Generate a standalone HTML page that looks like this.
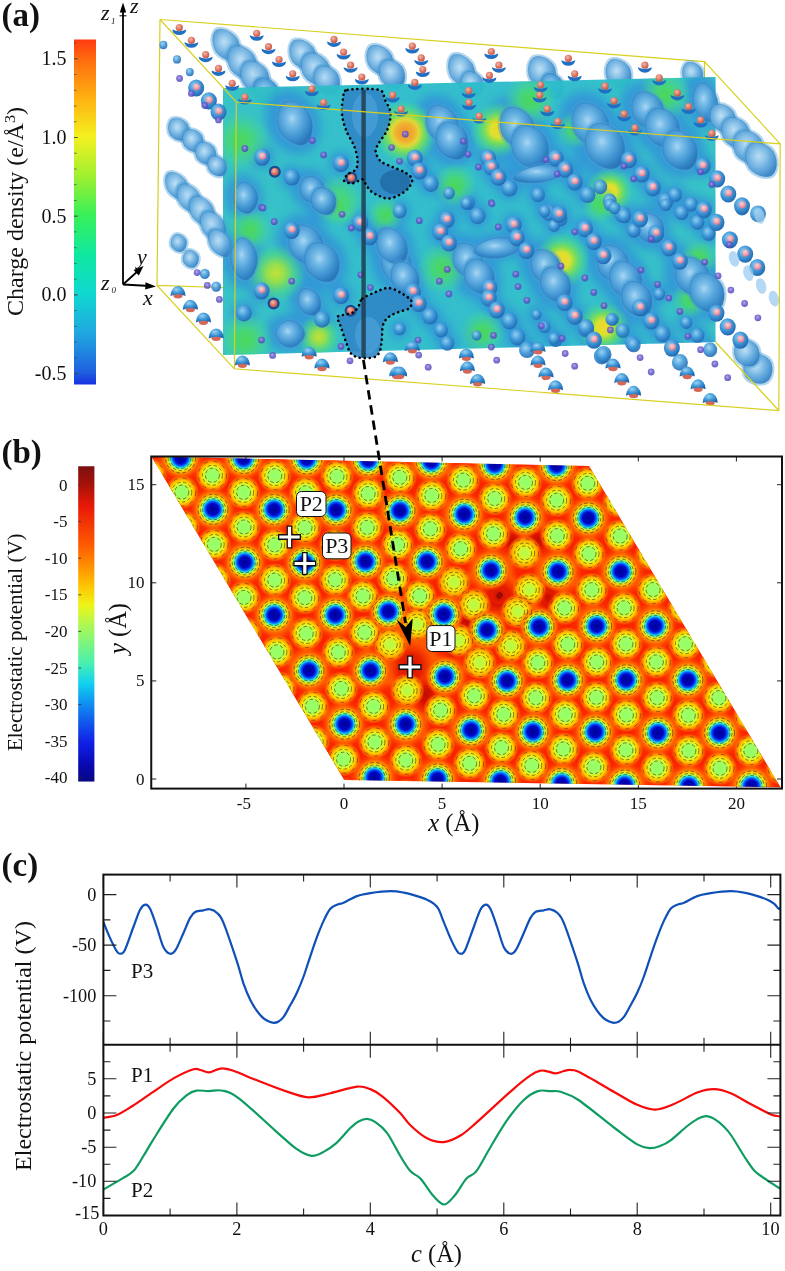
<!DOCTYPE html>
<html><head><meta charset="utf-8"><title>Figure</title>
<style>html,body{margin:0;padding:0;background:#fff}svg{display:block}</style></head><body>
<svg width="785" height="1271" viewBox="0 0 785 1271">
<rect width="785" height="1271" fill="#fff"/>
<defs>
<radialGradient id="gb"><stop offset="0" stop-color="#000094"/><stop offset="0.28" stop-color="#0008c4"/><stop offset="0.39" stop-color="#0058ff"/><stop offset="0.48" stop-color="#18d8e8"/><stop offset="0.55" stop-color="#80ff80"/><stop offset="0.63" stop-color="#f0f010"/><stop offset="0.76" stop-color="#ff9a00"/><stop offset="0.9" stop-color="#ff6400" stop-opacity="0.6"/><stop offset="1" stop-color="#ff5000" stop-opacity="0"/></radialGradient>
<radialGradient id="gg"><stop offset="0" stop-color="#90ff70"/><stop offset="0.38" stop-color="#a4ff5a"/><stop offset="0.53" stop-color="#ecf418"/><stop offset="0.62" stop-color="#ffdc00"/><stop offset="0.76" stop-color="#ff9a00"/><stop offset="0.9" stop-color="#ff6400" stop-opacity="0.6"/><stop offset="1" stop-color="#ff5000" stop-opacity="0"/></radialGradient><radialGradient id="ggy"><stop offset="0" stop-color="#b0fc50"/><stop offset="0.25" stop-color="#c8f838"/><stop offset="0.45" stop-color="#f4ec10"/><stop offset="0.62" stop-color="#ffc800"/><stop offset="0.78" stop-color="#ff9000"/><stop offset="0.9" stop-color="#ff6400" stop-opacity="0.6"/><stop offset="1" stop-color="#ff5000" stop-opacity="0"/></radialGradient>
<radialGradient id="gbr"><stop offset="0" stop-color="#f82000"/><stop offset="0.5" stop-color="#fa2800"/><stop offset="0.75" stop-color="#fc3c00" stop-opacity="0.8"/><stop offset="1" stop-color="#ff5a00" stop-opacity="0"/></radialGradient>
<radialGradient id="gr"><stop offset="0" stop-color="#c00c00"/><stop offset="0.4" stop-color="#d81200" stop-opacity="0.95"/><stop offset="0.7" stop-color="#ee2400" stop-opacity="0.6"/><stop offset="1" stop-color="#f83000" stop-opacity="0"/></radialGradient>
<clipPath id="cb"><polygon points="151.5,456.5 589,466 780.5,787.3 344.3,780.1"/></clipPath>
<linearGradient id="jetb" x1="0" y1="0" x2="0" y2="1"><stop offset="0" stop-color="#7a1010"/><stop offset="0.06" stop-color="#a81208"/><stop offset="0.125" stop-color="#e81808"/><stop offset="0.25" stop-color="#ff5a00"/><stop offset="0.375" stop-color="#ffc000"/><stop offset="0.44" stop-color="#f0f418"/><stop offset="0.5" stop-color="#b0f850"/><stop offset="0.625" stop-color="#48f0b0"/><stop offset="0.69" stop-color="#10d0f0"/><stop offset="0.76" stop-color="#1088f0"/><stop offset="0.875" stop-color="#1020e8"/><stop offset="0.95" stop-color="#0808b0"/><stop offset="1" stop-color="#080880"/></linearGradient>
</defs>
<g id="pb" font-family='"Liberation Serif", serif' fill="#111">
<path d="M245.9 788.6v-5M245.9 456.5v5M344 788.6v-5M344 456.5v5M442.1 788.6v-5M442.1 456.5v5M540.2 788.6v-5M540.2 456.5v5M638.3 788.6v-5M638.3 456.5v5M736.4 788.6v-5M736.4 456.5v5M151.25 779h5M782.0 779h-5M151.25 680.9h5M782.0 680.9h-5M151.25 582.8h5M782.0 582.8h-5M151.25 484.7h5M782.0 484.7h-5" stroke="#222" stroke-width="1" fill="none"/>
<g clip-path="url(#cb)">
<polygon points="151.5,456.5 589,466 780.5,787.3 344.3,780.1" fill="#ff5a00"/>
<g fill="url(#gbr)"><circle cx="134.7" cy="430" r="16"/><circle cx="149.1" cy="457.8" r="16"/><circle cx="166.2" cy="430.2" r="16"/><circle cx="196.8" cy="430.4" r="16"/><circle cx="212.1" cy="458.2" r="16"/><circle cx="228.3" cy="430.6" r="16"/><circle cx="258.9" cy="430.7" r="16"/><circle cx="275.1" cy="458.8" r="16"/><circle cx="290.4" cy="430.9" r="16"/><circle cx="321.4" cy="431.2" r="16"/><circle cx="337.4" cy="459.5" r="16"/><circle cx="352.1" cy="431.7" r="16"/><circle cx="384.1" cy="432.1" r="16"/><circle cx="399.8" cy="460.8" r="16"/><circle cx="415.6" cy="432.8" r="16"/><circle cx="447.8" cy="434.6" r="16"/><circle cx="463" cy="463" r="16"/><circle cx="479.4" cy="436.1" r="16"/><circle cx="510" cy="437.6" r="16"/><circle cx="525.6" cy="465" r="16"/><circle cx="540.9" cy="438.1" r="16"/><circle cx="572.4" cy="438.4" r="16"/><circle cx="587.4" cy="466" r="16"/><circle cx="603.3" cy="438.9" r="16"/><circle cx="634.8" cy="439.3" r="16"/><circle cx="649.2" cy="467" r="16"/><circle cx="665.8" cy="439.8" r="16"/><circle cx="697.3" cy="440.2" r="16"/><circle cx="121.2" cy="509" r="16"/><circle cx="134.7" cy="483.3" r="16"/><circle cx="166.2" cy="483.6" r="16"/><circle cx="182.4" cy="509.2" r="16"/><circle cx="196.8" cy="483.6" r="16"/><circle cx="228.3" cy="483.9" r="16"/><circle cx="243.6" cy="509.4" r="16"/><circle cx="258.9" cy="484" r="16"/><circle cx="290.4" cy="484.2" r="16"/><circle cx="305.1" cy="509.8" r="16"/><circle cx="321.4" cy="484.5" r="16"/><circle cx="352.1" cy="485" r="16"/><circle cx="368" cy="510.4" r="16"/><circle cx="384.1" cy="485.4" r="16"/><circle cx="415.6" cy="486.1" r="16"/><circle cx="432.1" cy="512.5" r="16"/><circle cx="447.8" cy="487.9" r="16"/><circle cx="479.4" cy="489.4" r="16"/><circle cx="494.7" cy="515.7" r="16"/><circle cx="510" cy="490.9" r="16"/><circle cx="540.9" cy="491.4" r="16"/><circle cx="556.8" cy="517.6" r="16"/><circle cx="572.4" cy="491.8" r="16"/><circle cx="603.3" cy="492.2" r="16"/><circle cx="619.8" cy="518.4" r="16"/><circle cx="634.8" cy="492.6" r="16"/><circle cx="665.8" cy="493.1" r="16"/><circle cx="682.9" cy="519.2" r="16"/><circle cx="697.3" cy="493.5" r="16"/><circle cx="138.3" cy="535" r="16"/><circle cx="154.8" cy="561.2" r="16"/><circle cx="168.3" cy="535.3" r="16"/><circle cx="198.9" cy="535.4" r="16"/><circle cx="214.8" cy="561.9" r="16"/><circle cx="228.9" cy="535.8" r="16"/><circle cx="259.5" cy="535.9" r="16"/><circle cx="274.8" cy="562.6" r="16"/><circle cx="289.5" cy="536.2" r="16"/><circle cx="320.4" cy="536.5" r="16"/><circle cx="335.1" cy="562.2" r="16"/><circle cx="350.8" cy="535.8" r="16"/><circle cx="382.8" cy="536.1" r="16"/><circle cx="396.2" cy="561.5" r="16"/><circle cx="413.5" cy="536.1" r="16"/><circle cx="445.6" cy="537.9" r="16"/><circle cx="459" cy="566" r="16"/><circle cx="477.6" cy="542.3" r="16"/><circle cx="508.1" cy="543.8" r="16"/><circle cx="524.5" cy="571" r="16"/><circle cx="541.6" cy="544.4" r="16"/><circle cx="573.1" cy="544.8" r="16"/><circle cx="589.4" cy="571.5" r="16"/><circle cx="604.5" cy="544.8" r="16"/><circle cx="636.1" cy="545.1" r="16"/><circle cx="652.2" cy="571.5" r="16"/><circle cx="667.5" cy="545.1" r="16"/><circle cx="699" cy="545.5" r="16"/><circle cx="715" cy="571.5" r="16"/><circle cx="730.4" cy="545.5" r="16"/><circle cx="168.4" cy="588.3" r="16"/><circle cx="138.4" cy="587.9" r="16"/><circle cx="182.5" cy="615" r="16"/><circle cx="198.9" cy="588.3" r="16"/><circle cx="228.9" cy="588.6" r="16"/><circle cx="243.6" cy="615" r="16"/><circle cx="259.5" cy="588.6" r="16"/><circle cx="289.5" cy="589" r="16"/><circle cx="304.8" cy="615" r="16"/><circle cx="320.1" cy="589" r="16"/><circle cx="350.4" cy="588.2" r="16"/><circle cx="361.8" cy="613.2" r="16"/><circle cx="376.9" cy="586.5" r="16"/><circle cx="407.6" cy="586.5" r="16"/><circle cx="416.1" cy="613" r="16"/><circle cx="435.4" cy="588" r="16"/><circle cx="467.4" cy="592.4" r="16"/><circle cx="465.4" cy="622.2" r="16"/><circle cx="489" cy="600.2" r="16"/><circle cx="513" cy="628.2" r="16"/><circle cx="515" cy="598.5" r="16"/><circle cx="548.5" cy="599" r="16"/><circle cx="567.8" cy="626.2" r="16"/><circle cx="577.3" cy="598.8" r="16"/><circle cx="608.7" cy="598.8" r="16"/><circle cx="625.8" cy="625.9" r="16"/><circle cx="637.9" cy="598.6" r="16"/><circle cx="669.3" cy="598.6" r="16"/><circle cx="684.2" cy="625.7" r="16"/><circle cx="698.5" cy="598.5" r="16"/><circle cx="729.9" cy="598.5" r="16"/><circle cx="742.6" cy="625.5" r="16"/><circle cx="759.1" cy="598.4" r="16"/><circle cx="199.4" cy="642.5" r="16"/><circle cx="168.9" cy="642.5" r="16"/><circle cx="216.6" cy="670.2" r="16"/><circle cx="230.2" cy="642.6" r="16"/><circle cx="260.8" cy="642.6" r="16"/><circle cx="278.2" cy="670.4" r="16"/><circle cx="291.6" cy="642.8" r="16"/><circle cx="322.1" cy="642.8" r="16"/><circle cx="339.8" cy="670.6" r="16"/><circle cx="353" cy="642.9" r="16"/><circle cx="379.5" cy="641.1" r="16"/><circle cx="407.8" cy="673.5" r="16"/><circle cx="444.4" cy="645.4" r="16"/><circle cx="466" cy="653.2" r="16"/><circle cx="476" cy="678.7" r="16"/><circle cx="497" cy="655.5" r="16"/><circle cx="523" cy="653.8" r="16"/><circle cx="537.2" cy="680.6" r="16"/><circle cx="553.2" cy="653.4" r="16"/><circle cx="582" cy="653.1" r="16"/><circle cx="596.8" cy="680" r="16"/><circle cx="611.4" cy="652.9" r="16"/><circle cx="640.6" cy="652.8" r="16"/><circle cx="657" cy="679.9" r="16"/><circle cx="671.4" cy="652.9" r="16"/><circle cx="700.6" cy="652.8" r="16"/><circle cx="718.5" cy="680.1" r="16"/><circle cx="731.3" cy="652.9" r="16"/><circle cx="760.5" cy="652.8" r="16"/><circle cx="780.1" cy="680.3" r="16"/><circle cx="791.3" cy="652.9" r="16"/><circle cx="234.9" cy="697.2" r="16"/><circle cx="204.1" cy="697.1" r="16"/><circle cx="253" cy="724.2" r="16"/><circle cx="265.5" cy="697.2" r="16"/><circle cx="296.2" cy="697.4" r="16"/><circle cx="314.1" cy="724.2" r="16"/><circle cx="326.8" cy="697.4" r="16"/><circle cx="357.6" cy="697.5" r="16"/><circle cx="375.1" cy="724.2" r="16"/><circle cx="388.1" cy="697.5" r="16"/><circle cx="425.4" cy="700.3" r="16"/><circle cx="438.4" cy="727.1" r="16"/><circle cx="458" cy="703.2" r="16"/><circle cx="489" cy="705.5" r="16"/><circle cx="502" cy="730.9" r="16"/><circle cx="520" cy="706.4" r="16"/><circle cx="550.2" cy="706" r="16"/><circle cx="564.1" cy="731.8" r="16"/><circle cx="581.3" cy="706" r="16"/><circle cx="610.8" cy="705.8" r="16"/><circle cx="626.5" cy="732.4" r="16"/><circle cx="642" cy="706.4" r="16"/><circle cx="672.8" cy="706.5" r="16"/><circle cx="688.6" cy="733" r="16"/><circle cx="703.6" cy="706.5" r="16"/><circle cx="734.4" cy="706.6" r="16"/><circle cx="750.4" cy="733" r="16"/><circle cx="765.3" cy="706.6" r="16"/><circle cx="796" cy="706.7" r="16"/><circle cx="266" cy="749.4" r="16"/><circle cx="235.4" cy="749.4" r="16"/><circle cx="279.9" cy="775.2" r="16"/><circle cx="297.5" cy="750.1" r="16"/><circle cx="328" cy="750.1" r="16"/><circle cx="342.9" cy="776.8" r="16"/><circle cx="359.5" cy="750.9" r="16"/><circle cx="390" cy="750.9" r="16"/><circle cx="405.9" cy="778.2" r="16"/><circle cx="421.5" cy="751.6" r="16"/><circle cx="454.2" cy="754.5" r="16"/><circle cx="468.9" cy="780" r="16"/><circle cx="485.8" cy="755.5" r="16"/><circle cx="516.8" cy="756.4" r="16"/><circle cx="531" cy="782.2" r="16"/><circle cx="547.3" cy="757.6" r="16"/><circle cx="578.5" cy="757.6" r="16"/><circle cx="593.2" cy="784.2" r="16"/><circle cx="610" cy="758.4" r="16"/><circle cx="641.2" cy="759" r="16"/><circle cx="656.9" cy="785.5" r="16"/><circle cx="673.4" cy="759.5" r="16"/><circle cx="704.2" cy="759.5" r="16"/><circle cx="720.2" cy="786" r="16"/><circle cx="735.5" cy="759.5" r="16"/><circle cx="766.4" cy="759.5" r="16"/><circle cx="782.8" cy="786" r="16"/><circle cx="797.6" cy="759.5" r="16"/><circle cx="235.4" cy="802.8" r="16"/><circle cx="266" cy="802.8" r="16"/><circle cx="297.5" cy="803.5" r="16"/><circle cx="328" cy="803.5" r="16"/><circle cx="359.5" cy="804.2" r="16"/><circle cx="390" cy="804.2" r="16"/><circle cx="421.5" cy="805" r="16"/><circle cx="454.2" cy="807.9" r="16"/><circle cx="485.8" cy="808.9" r="16"/><circle cx="516.8" cy="809.8" r="16"/></g>
<ellipse cx="410.6" cy="666.3" rx="24" ry="26" fill="url(#gr)"/>
<ellipse cx="499.2" cy="595.7" rx="20" ry="24" fill="url(#gr)"/>
<ellipse cx="548.2" cy="597.5" rx="15" ry="19" fill="url(#gr)"/>
<ellipse cx="536.7" cy="541.5" rx="13" ry="18" fill="url(#gr)"/>
<ellipse cx="512.5" cy="541.5" rx="12" ry="15" fill="url(#gr)"/>
<ellipse cx="425.9" cy="695" rx="16" ry="22" fill="url(#gr)"/>
<ellipse cx="466.6" cy="621.7" rx="15" ry="17" fill="url(#gr)"/>
<ellipse cx="452" cy="650" rx="10" ry="12" fill="url(#gr)"/>
<g fill="url(#gg)"><circle cx="150" cy="439.3" r="17.5"/><circle cx="212.4" cy="439.7" r="17.5"/><circle cx="274.8" cy="440.1" r="17.5"/><circle cx="337" cy="440.8" r="17.5"/><circle cx="399.8" cy="441.9" r="17.5"/><circle cx="463.4" cy="444.5" r="17.5"/><circle cx="525.5" cy="446.9" r="17.5"/><circle cx="587.7" cy="447.8" r="17.5"/><circle cx="619.3" cy="430" r="17.5"/><circle cx="649.9" cy="448.7" r="17.5"/><circle cx="682" cy="430.9" r="17.5"/><circle cx="120" cy="491.8" r="17.5"/><circle cx="150" cy="474.9" r="17.5"/><circle cx="181.8" cy="492.1" r="17.5"/><circle cx="212.4" cy="475.3" r="17.5"/><circle cx="243.6" cy="492.4" r="17.5"/><circle cx="274.8" cy="475.7" r="17.5"/><circle cx="305.6" cy="492.8" r="17.5"/><circle cx="337" cy="476.3" r="17.5"/><circle cx="368.1" cy="493.6" r="17.5"/><circle cx="399.8" cy="477.4" r="17.5"/><circle cx="431.8" cy="495.5" r="17.5"/><circle cx="463.4" cy="480.1" r="17.5"/><circle cx="494.7" cy="498.6" r="17.5"/><circle cx="525.5" cy="482.4" r="17.5"/><circle cx="556.7" cy="500.2" r="17.5"/><circle cx="587.7" cy="483.3" r="17.5"/><circle cx="619.3" cy="501.1" r="17.5"/><circle cx="649.9" cy="484.3" r="17.5"/><circle cx="682" cy="502" r="17.5"/><circle cx="122.4" cy="526.3" r="17.5"/><circle cx="153.8" cy="543.9" r="17.5"/><circle cx="183.2" cy="526.7" r="17.5"/><circle cx="214.2" cy="544.4" r="17.5"/><circle cx="244" cy="527" r="17.5"/><circle cx="274.6" cy="544.9" r="17.5"/><circle cx="305" cy="527.5" r="17.5"/><circle cx="335.4" cy="544.8" r="17.5"/><circle cx="367.2" cy="527.4" r="17.5"/><circle cx="397.5" cy="544.6" r="17.5"/><circle cx="430.4" cy="528.8" r="17.5"/><circle cx="460.7" cy="548.7" r="17.5"/><circle cx="493.5" cy="533.9" r="17.5"/><circle cx="524.7" cy="553" r="17.5" fill="url(#ggy)"/><circle cx="557.2" cy="535.6" r="17.5"/><circle cx="589" cy="553.7" r="17.5"/><circle cx="620.2" cy="536.1" r="17.5"/><circle cx="651.9" cy="553.9" r="17.5"/><circle cx="683.2" cy="536.6" r="17.5"/><circle cx="714.8" cy="554.2" r="17.5"/><circle cx="153.9" cy="579.2" r="17.5"/><circle cx="183.3" cy="597.2" r="17.5"/><circle cx="214.2" cy="579.6" r="17.5"/><circle cx="244" cy="597.4" r="17.5"/><circle cx="274.6" cy="580.1" r="17.5"/><circle cx="304.8" cy="597.7" r="17.5"/><circle cx="335.2" cy="579.8" r="17.5"/><circle cx="363" cy="596" r="17.5"/><circle cx="393.6" cy="578.2" r="17.5"/><circle cx="419.7" cy="595.8" r="17.5"/><circle cx="453.9" cy="582.1" r="17.5" fill="url(#ggy)"/><circle cx="473.9" cy="604.9" r="17.5" fill="url(#ggy)"/><circle cx="529.3" cy="589.5" r="17.5" fill="url(#ggy)"/><circle cx="564.5" cy="608" r="17.5"/><circle cx="591.8" cy="589.7" r="17.5"/><circle cx="624.1" cy="607.8" r="17.5"/><circle cx="653.1" cy="589.6" r="17.5"/><circle cx="684" cy="607.6" r="17.5"/><circle cx="714.5" cy="589.5" r="17.5"/><circle cx="743.9" cy="607.5" r="17.5"/><circle cx="183.6" cy="633.4" r="17.5"/><circle cx="215.4" cy="651.8" r="17.5"/><circle cx="244.9" cy="633.4" r="17.5"/><circle cx="276.9" cy="651.9" r="17.5"/><circle cx="306.2" cy="633.5" r="17.5"/><circle cx="338.3" cy="652.1" r="17.5"/><circle cx="364.7" cy="632.4" r="17.5"/><circle cx="458.6" cy="640.3" r="17.5" fill="url(#ggy)"/><circle cx="479.7" cy="662.5" r="17.5" fill="url(#ggy)"/><circle cx="511" cy="645.8" r="17.5" fill="url(#ggy)"/><circle cx="537.8" cy="662.6" r="17.5"/><circle cx="567.7" cy="644.2" r="17.5"/><circle cx="596.7" cy="662" r="17.5"/><circle cx="625.9" cy="643.9" r="17.5"/><circle cx="656.3" cy="661.9" r="17.5"/><circle cx="685.4" cy="643.8" r="17.5"/><circle cx="716.8" cy="661.9" r="17.5"/><circle cx="744.8" cy="643.7" r="17.5"/><circle cx="777.3" cy="662" r="17.5"/><circle cx="218.5" cy="688.2" r="17.5"/><circle cx="251.1" cy="706.2" r="17.5"/><circle cx="280" cy="688.3" r="17.5"/><circle cx="312.4" cy="706.3" r="17.5"/><circle cx="341.4" cy="688.5" r="17.5"/><circle cx="373.6" cy="706.4" r="17.5"/><circle cx="407.1" cy="690.4" r="17.5" fill="url(#ggy)"/><circle cx="440.6" cy="710.2" r="17.5"/><circle cx="474.3" cy="695.8" r="17.5"/><circle cx="503.7" cy="714.3" r="17.5"/><circle cx="535.8" cy="697.7" r="17.5"/><circle cx="565.2" cy="714.6" r="17.5"/><circle cx="596.3" cy="697.3" r="17.5"/><circle cx="626.4" cy="714.9" r="17.5"/><circle cx="657.2" cy="697.6" r="17.5"/><circle cx="688.3" cy="715.3" r="17.5"/><circle cx="718.9" cy="697.7" r="17.5"/><circle cx="750" cy="715.4" r="17.5"/><circle cx="780.5" cy="697.9" r="17.5"/><circle cx="251.4" cy="741" r="17.5"/><circle cx="281.1" cy="758.2" r="17.5"/><circle cx="313.2" cy="741.5" r="17.5"/><circle cx="343.5" cy="759.2" r="17.5"/><circle cx="374.9" cy="742" r="17.5"/><circle cx="405.8" cy="760.2" r="17.5"/><circle cx="438" cy="744.4" r="17.5"/><circle cx="469.6" cy="763.3" r="17.5"/><circle cx="501.5" cy="747.6" r="17.5"/><circle cx="531.7" cy="765.4" r="17.5"/><circle cx="563.3" cy="749" r="17.5"/><circle cx="593.9" cy="766.8" r="17.5"/><circle cx="625.9" cy="749.9" r="17.5"/><circle cx="657.1" cy="768" r="17.5"/><circle cx="688.8" cy="750.7" r="17.5"/><circle cx="720" cy="768.3" r="17.5"/><circle cx="750.8" cy="750.7" r="17.5"/><circle cx="782.2" cy="768.3" r="17.5"/><circle cx="281.1" cy="793.8" r="17.5"/><circle cx="343.5" cy="794.8" r="17.5"/><circle cx="405.8" cy="795.8" r="17.5"/><circle cx="469.6" cy="798.9" r="17.5"/><circle cx="531.7" cy="801" r="17.5"/><circle cx="593.9" cy="802.4" r="17.5"/><circle cx="657.1" cy="803.6" r="17.5"/><circle cx="720" cy="803.9" r="17.5"/><circle cx="782.2" cy="803.9" r="17.5"/><circle cx="517.6" cy="611.5" r="17.5" fill="url(#ggy)"/><circle cx="417" cy="624.3" r="17.5" fill="url(#ggy)"/><circle cx="390.2" cy="644.6" r="17.5" fill="url(#ggy)"/></g>
<g fill="url(#gb)"><circle cx="180.6" cy="458" r="20"/><circle cx="243.6" cy="458.5" r="20"/><circle cx="306.7" cy="459" r="20"/><circle cx="368.2" cy="460" r="20"/><circle cx="431.3" cy="461.5" r="20"/><circle cx="494.7" cy="464.5" r="20"/><circle cx="556.5" cy="465.5" r="20"/><circle cx="618.3" cy="466.5" r="20"/><circle cx="680.1" cy="467.5" r="20"/><circle cx="151.8" cy="509.1" r="20"/><circle cx="213" cy="509.3" r="20"/><circle cx="274.2" cy="509.5" r="20"/><circle cx="336" cy="510" r="20"/><circle cx="400" cy="510.7" r="20"/><circle cx="464.2" cy="514.2" r="20"/><circle cx="525.2" cy="517.2" r="20"/><circle cx="588.3" cy="518" r="20"/><circle cx="651.4" cy="518.8" r="20"/><circle cx="714.5" cy="519.6" r="20"/><circle cx="124.8" cy="560.9" r="20"/><circle cx="184.8" cy="561.6" r="20"/><circle cx="244.8" cy="562.3" r="20"/><circle cx="304.8" cy="563" r="20"/><circle cx="365.5" cy="561.5" r="20"/><circle cx="427" cy="561.6" r="20"/><circle cx="491" cy="570.4" r="20"/><circle cx="558" cy="571.5" r="20"/><circle cx="620.8" cy="571.5" r="20"/><circle cx="683.6" cy="571.5" r="20"/><circle cx="746.4" cy="571.5" r="20"/><circle cx="152" cy="615" r="20"/><circle cx="213.1" cy="615" r="20"/><circle cx="274.2" cy="615" r="20"/><circle cx="335.3" cy="615" r="20"/><circle cx="388.3" cy="611.5" r="20"/><circle cx="443.8" cy="614.4" r="20"/><circle cx="487" cy="630" r="20"/><circle cx="539" cy="626.5" r="20"/><circle cx="596.6" cy="626" r="20"/><circle cx="655" cy="625.8" r="20"/><circle cx="713.4" cy="625.6" r="20"/><circle cx="771.8" cy="625.4" r="20"/><circle cx="185.8" cy="670.1" r="20"/><circle cx="247.4" cy="670.3" r="20"/><circle cx="309" cy="670.5" r="20"/><circle cx="370.6" cy="670.7" r="20"/><circle cx="445" cy="676.4" r="20"/><circle cx="507" cy="681" r="20"/><circle cx="567.4" cy="680.2" r="20"/><circle cx="626.2" cy="679.8" r="20"/><circle cx="687.8" cy="680" r="20"/><circle cx="749.3" cy="680.2" r="20"/><circle cx="222.4" cy="724.2" r="20"/><circle cx="283.5" cy="724.2" r="20"/><circle cx="344.6" cy="724.2" r="20"/><circle cx="405.7" cy="724.2" r="20"/><circle cx="471" cy="730" r="20"/><circle cx="533" cy="731.8" r="20"/><circle cx="595.3" cy="731.8" r="20"/><circle cx="657.8" cy="733" r="20"/><circle cx="719.5" cy="733" r="20"/><circle cx="781.2" cy="733" r="20"/><circle cx="248.4" cy="774.5" r="20"/><circle cx="311.4" cy="776" r="20"/><circle cx="374.4" cy="777.5" r="20"/><circle cx="437.4" cy="779" r="20"/><circle cx="500.5" cy="781" r="20"/><circle cx="561.6" cy="783.5" r="20"/><circle cx="624.7" cy="785" r="20"/><circle cx="689" cy="786" r="20"/><circle cx="751.5" cy="786" r="20"/></g>
<circle cx="410.6" cy="666.5" r="13" fill="url(#gr)"/><circle cx="499.2" cy="595.7" r="10" fill="url(#gr)"/><ellipse cx="548.2" cy="597.5" rx="7" ry="9" fill="url(#gr)" opacity="0.8"/>
<ellipse cx="499.5" cy="595.5" rx="2.2" ry="3" transform="rotate(30 499.5 595.5)" fill="#a00800" stroke="#401008" stroke-width="0.5"/>
<g fill="none" stroke="#4a2000" stroke-opacity="0.7" stroke-width="0.7" stroke-dasharray="4 5.5"><circle cx="150" cy="439.3" r="14"/><circle cx="212.4" cy="439.7" r="14"/><circle cx="274.8" cy="440.1" r="14"/><circle cx="337" cy="440.8" r="14"/><circle cx="399.8" cy="441.9" r="14"/><circle cx="463.4" cy="444.5" r="14"/><circle cx="525.5" cy="446.9" r="14"/><circle cx="587.7" cy="447.8" r="14"/><circle cx="619.3" cy="430" r="14"/><circle cx="649.9" cy="448.7" r="14"/><circle cx="682" cy="430.9" r="14"/><circle cx="120" cy="491.8" r="14"/><circle cx="150" cy="474.9" r="14"/><circle cx="181.8" cy="492.1" r="14"/><circle cx="212.4" cy="475.3" r="14"/><circle cx="243.6" cy="492.4" r="14"/><circle cx="274.8" cy="475.7" r="14"/><circle cx="305.6" cy="492.8" r="14"/><circle cx="337" cy="476.3" r="14"/><circle cx="368.1" cy="493.6" r="14"/><circle cx="399.8" cy="477.4" r="14"/><circle cx="431.8" cy="495.5" r="14"/><circle cx="463.4" cy="480.1" r="14"/><circle cx="494.7" cy="498.6" r="14"/><circle cx="525.5" cy="482.4" r="14"/><circle cx="556.7" cy="500.2" r="14"/><circle cx="587.7" cy="483.3" r="14"/><circle cx="619.3" cy="501.1" r="14"/><circle cx="649.9" cy="484.3" r="14"/><circle cx="682" cy="502" r="14"/><circle cx="122.4" cy="526.3" r="14"/><circle cx="153.8" cy="543.9" r="14"/><circle cx="183.2" cy="526.7" r="14"/><circle cx="214.2" cy="544.4" r="14"/><circle cx="244" cy="527" r="14"/><circle cx="274.6" cy="544.9" r="14"/><circle cx="305" cy="527.5" r="14"/><circle cx="335.4" cy="544.8" r="14"/><circle cx="367.2" cy="527.4" r="14"/><circle cx="397.5" cy="544.6" r="14"/><circle cx="430.4" cy="528.8" r="14"/><circle cx="460.7" cy="548.7" r="14"/><circle cx="493.5" cy="533.9" r="14"/><circle cx="524.7" cy="553" r="14"/><circle cx="557.2" cy="535.6" r="14"/><circle cx="589" cy="553.7" r="14"/><circle cx="620.2" cy="536.1" r="14"/><circle cx="651.9" cy="553.9" r="14"/><circle cx="683.2" cy="536.6" r="14"/><circle cx="714.8" cy="554.2" r="14"/><circle cx="153.9" cy="579.2" r="14"/><circle cx="183.3" cy="597.2" r="14"/><circle cx="214.2" cy="579.6" r="14"/><circle cx="244" cy="597.4" r="14"/><circle cx="274.6" cy="580.1" r="14"/><circle cx="304.8" cy="597.7" r="14"/><circle cx="335.2" cy="579.8" r="14"/><circle cx="363" cy="596" r="14"/><circle cx="393.6" cy="578.2" r="14"/><circle cx="419.7" cy="595.8" r="14"/><circle cx="453.9" cy="582.1" r="14"/><circle cx="473.9" cy="604.9" r="14"/><circle cx="529.3" cy="589.5" r="14"/><circle cx="564.5" cy="608" r="14"/><circle cx="591.8" cy="589.7" r="14"/><circle cx="624.1" cy="607.8" r="14"/><circle cx="653.1" cy="589.6" r="14"/><circle cx="684" cy="607.6" r="14"/><circle cx="714.5" cy="589.5" r="14"/><circle cx="743.9" cy="607.5" r="14"/><circle cx="183.6" cy="633.4" r="14"/><circle cx="215.4" cy="651.8" r="14"/><circle cx="244.9" cy="633.4" r="14"/><circle cx="276.9" cy="651.9" r="14"/><circle cx="306.2" cy="633.5" r="14"/><circle cx="338.3" cy="652.1" r="14"/><circle cx="364.7" cy="632.4" r="14"/><circle cx="458.6" cy="640.3" r="14"/><circle cx="479.7" cy="662.5" r="14"/><circle cx="511" cy="645.8" r="14"/><circle cx="537.8" cy="662.6" r="14"/><circle cx="567.7" cy="644.2" r="14"/><circle cx="596.7" cy="662" r="14"/><circle cx="625.9" cy="643.9" r="14"/><circle cx="656.3" cy="661.9" r="14"/><circle cx="685.4" cy="643.8" r="14"/><circle cx="716.8" cy="661.9" r="14"/><circle cx="744.8" cy="643.7" r="14"/><circle cx="777.3" cy="662" r="14"/><circle cx="218.5" cy="688.2" r="14"/><circle cx="251.1" cy="706.2" r="14"/><circle cx="280" cy="688.3" r="14"/><circle cx="312.4" cy="706.3" r="14"/><circle cx="341.4" cy="688.5" r="14"/><circle cx="373.6" cy="706.4" r="14"/><circle cx="407.1" cy="690.4" r="14"/><circle cx="440.6" cy="710.2" r="14"/><circle cx="474.3" cy="695.8" r="14"/><circle cx="503.7" cy="714.3" r="14"/><circle cx="535.8" cy="697.7" r="14"/><circle cx="565.2" cy="714.6" r="14"/><circle cx="596.3" cy="697.3" r="14"/><circle cx="626.4" cy="714.9" r="14"/><circle cx="657.2" cy="697.6" r="14"/><circle cx="688.3" cy="715.3" r="14"/><circle cx="718.9" cy="697.7" r="14"/><circle cx="750" cy="715.4" r="14"/><circle cx="780.5" cy="697.9" r="14"/><circle cx="251.4" cy="741" r="14"/><circle cx="281.1" cy="758.2" r="14"/><circle cx="313.2" cy="741.5" r="14"/><circle cx="343.5" cy="759.2" r="14"/><circle cx="374.9" cy="742" r="14"/><circle cx="405.8" cy="760.2" r="14"/><circle cx="438" cy="744.4" r="14"/><circle cx="469.6" cy="763.3" r="14"/><circle cx="501.5" cy="747.6" r="14"/><circle cx="531.7" cy="765.4" r="14"/><circle cx="563.3" cy="749" r="14"/><circle cx="593.9" cy="766.8" r="14"/><circle cx="625.9" cy="749.9" r="14"/><circle cx="657.1" cy="768" r="14"/><circle cx="688.8" cy="750.7" r="14"/><circle cx="720" cy="768.3" r="14"/><circle cx="750.8" cy="750.7" r="14"/><circle cx="782.2" cy="768.3" r="14"/><circle cx="281.1" cy="793.8" r="14"/><circle cx="343.5" cy="794.8" r="14"/><circle cx="405.8" cy="795.8" r="14"/><circle cx="469.6" cy="798.9" r="14"/><circle cx="531.7" cy="801" r="14"/><circle cx="593.9" cy="802.4" r="14"/><circle cx="657.1" cy="803.6" r="14"/><circle cx="720" cy="803.9" r="14"/><circle cx="782.2" cy="803.9" r="14"/><circle cx="517.6" cy="611.5" r="14"/><circle cx="417" cy="624.3" r="14"/><circle cx="390.2" cy="644.6" r="14"/></g>
<g fill="none" stroke="#3a2a10" stroke-opacity="0.85" stroke-width="0.7" stroke-dasharray="3.6 2.4"><circle cx="150" cy="439.3" r="7"/><circle cx="150" cy="439.3" r="10"/><circle cx="212.4" cy="439.7" r="7"/><circle cx="212.4" cy="439.7" r="10"/><circle cx="274.8" cy="440.1" r="7"/><circle cx="274.8" cy="440.1" r="10"/><circle cx="337" cy="440.8" r="7"/><circle cx="337" cy="440.8" r="10"/><circle cx="399.8" cy="441.9" r="7"/><circle cx="399.8" cy="441.9" r="10"/><circle cx="463.4" cy="444.5" r="7"/><circle cx="463.4" cy="444.5" r="10"/><circle cx="525.5" cy="446.9" r="7"/><circle cx="525.5" cy="446.9" r="10"/><circle cx="587.7" cy="447.8" r="7"/><circle cx="587.7" cy="447.8" r="10"/><circle cx="619.3" cy="430" r="7"/><circle cx="619.3" cy="430" r="10"/><circle cx="649.9" cy="448.7" r="7"/><circle cx="649.9" cy="448.7" r="10"/><circle cx="682" cy="430.9" r="7"/><circle cx="682" cy="430.9" r="10"/><circle cx="120" cy="491.8" r="7"/><circle cx="120" cy="491.8" r="10"/><circle cx="150" cy="474.9" r="7"/><circle cx="150" cy="474.9" r="10"/><circle cx="181.8" cy="492.1" r="7"/><circle cx="181.8" cy="492.1" r="10"/><circle cx="212.4" cy="475.3" r="7"/><circle cx="212.4" cy="475.3" r="10"/><circle cx="243.6" cy="492.4" r="7"/><circle cx="243.6" cy="492.4" r="10"/><circle cx="274.8" cy="475.7" r="7"/><circle cx="274.8" cy="475.7" r="10"/><circle cx="305.6" cy="492.8" r="7"/><circle cx="305.6" cy="492.8" r="10"/><circle cx="337" cy="476.3" r="7"/><circle cx="337" cy="476.3" r="10"/><circle cx="368.1" cy="493.6" r="7"/><circle cx="368.1" cy="493.6" r="10"/><circle cx="399.8" cy="477.4" r="7"/><circle cx="399.8" cy="477.4" r="10"/><circle cx="431.8" cy="495.5" r="7"/><circle cx="431.8" cy="495.5" r="10"/><circle cx="463.4" cy="480.1" r="7"/><circle cx="463.4" cy="480.1" r="10"/><circle cx="494.7" cy="498.6" r="7"/><circle cx="494.7" cy="498.6" r="10"/><circle cx="525.5" cy="482.4" r="7"/><circle cx="525.5" cy="482.4" r="10"/><circle cx="556.7" cy="500.2" r="7"/><circle cx="556.7" cy="500.2" r="10"/><circle cx="587.7" cy="483.3" r="7"/><circle cx="587.7" cy="483.3" r="10"/><circle cx="619.3" cy="501.1" r="7"/><circle cx="619.3" cy="501.1" r="10"/><circle cx="649.9" cy="484.3" r="7"/><circle cx="649.9" cy="484.3" r="10"/><circle cx="682" cy="502" r="7"/><circle cx="682" cy="502" r="10"/><circle cx="122.4" cy="526.3" r="7"/><circle cx="122.4" cy="526.3" r="10"/><circle cx="153.8" cy="543.9" r="7"/><circle cx="153.8" cy="543.9" r="10"/><circle cx="183.2" cy="526.7" r="7"/><circle cx="183.2" cy="526.7" r="10"/><circle cx="214.2" cy="544.4" r="7"/><circle cx="214.2" cy="544.4" r="10"/><circle cx="244" cy="527" r="7"/><circle cx="244" cy="527" r="10"/><circle cx="274.6" cy="544.9" r="7"/><circle cx="274.6" cy="544.9" r="10"/><circle cx="305" cy="527.5" r="7"/><circle cx="305" cy="527.5" r="10"/><circle cx="335.4" cy="544.8" r="7"/><circle cx="335.4" cy="544.8" r="10"/><circle cx="367.2" cy="527.4" r="7"/><circle cx="367.2" cy="527.4" r="10"/><circle cx="397.5" cy="544.6" r="7"/><circle cx="397.5" cy="544.6" r="10"/><circle cx="430.4" cy="528.8" r="7"/><circle cx="430.4" cy="528.8" r="10"/><circle cx="460.7" cy="548.7" r="7"/><circle cx="460.7" cy="548.7" r="10"/><circle cx="493.5" cy="533.9" r="7"/><circle cx="493.5" cy="533.9" r="10"/><circle cx="524.7" cy="553" r="7"/><circle cx="524.7" cy="553" r="10"/><circle cx="557.2" cy="535.6" r="7"/><circle cx="557.2" cy="535.6" r="10"/><circle cx="589" cy="553.7" r="7"/><circle cx="589" cy="553.7" r="10"/><circle cx="620.2" cy="536.1" r="7"/><circle cx="620.2" cy="536.1" r="10"/><circle cx="651.9" cy="553.9" r="7"/><circle cx="651.9" cy="553.9" r="10"/><circle cx="683.2" cy="536.6" r="7"/><circle cx="683.2" cy="536.6" r="10"/><circle cx="714.8" cy="554.2" r="7"/><circle cx="714.8" cy="554.2" r="10"/><circle cx="153.9" cy="579.2" r="7"/><circle cx="153.9" cy="579.2" r="10"/><circle cx="183.3" cy="597.2" r="7"/><circle cx="183.3" cy="597.2" r="10"/><circle cx="214.2" cy="579.6" r="7"/><circle cx="214.2" cy="579.6" r="10"/><circle cx="244" cy="597.4" r="7"/><circle cx="244" cy="597.4" r="10"/><circle cx="274.6" cy="580.1" r="7"/><circle cx="274.6" cy="580.1" r="10"/><circle cx="304.8" cy="597.7" r="7"/><circle cx="304.8" cy="597.7" r="10"/><circle cx="335.2" cy="579.8" r="7"/><circle cx="335.2" cy="579.8" r="10"/><circle cx="363" cy="596" r="7"/><circle cx="363" cy="596" r="10"/><circle cx="393.6" cy="578.2" r="7"/><circle cx="393.6" cy="578.2" r="10"/><circle cx="419.7" cy="595.8" r="7"/><circle cx="419.7" cy="595.8" r="10"/><circle cx="453.9" cy="582.1" r="7"/><circle cx="453.9" cy="582.1" r="10"/><circle cx="473.9" cy="604.9" r="7"/><circle cx="473.9" cy="604.9" r="10"/><circle cx="529.3" cy="589.5" r="7"/><circle cx="529.3" cy="589.5" r="10"/><circle cx="564.5" cy="608" r="7"/><circle cx="564.5" cy="608" r="10"/><circle cx="591.8" cy="589.7" r="7"/><circle cx="591.8" cy="589.7" r="10"/><circle cx="624.1" cy="607.8" r="7"/><circle cx="624.1" cy="607.8" r="10"/><circle cx="653.1" cy="589.6" r="7"/><circle cx="653.1" cy="589.6" r="10"/><circle cx="684" cy="607.6" r="7"/><circle cx="684" cy="607.6" r="10"/><circle cx="714.5" cy="589.5" r="7"/><circle cx="714.5" cy="589.5" r="10"/><circle cx="743.9" cy="607.5" r="7"/><circle cx="743.9" cy="607.5" r="10"/><circle cx="183.6" cy="633.4" r="7"/><circle cx="183.6" cy="633.4" r="10"/><circle cx="215.4" cy="651.8" r="7"/><circle cx="215.4" cy="651.8" r="10"/><circle cx="244.9" cy="633.4" r="7"/><circle cx="244.9" cy="633.4" r="10"/><circle cx="276.9" cy="651.9" r="7"/><circle cx="276.9" cy="651.9" r="10"/><circle cx="306.2" cy="633.5" r="7"/><circle cx="306.2" cy="633.5" r="10"/><circle cx="338.3" cy="652.1" r="7"/><circle cx="338.3" cy="652.1" r="10"/><circle cx="364.7" cy="632.4" r="7"/><circle cx="364.7" cy="632.4" r="10"/><circle cx="458.6" cy="640.3" r="7"/><circle cx="458.6" cy="640.3" r="10"/><circle cx="479.7" cy="662.5" r="7"/><circle cx="479.7" cy="662.5" r="10"/><circle cx="511" cy="645.8" r="7"/><circle cx="511" cy="645.8" r="10"/><circle cx="537.8" cy="662.6" r="7"/><circle cx="537.8" cy="662.6" r="10"/><circle cx="567.7" cy="644.2" r="7"/><circle cx="567.7" cy="644.2" r="10"/><circle cx="596.7" cy="662" r="7"/><circle cx="596.7" cy="662" r="10"/><circle cx="625.9" cy="643.9" r="7"/><circle cx="625.9" cy="643.9" r="10"/><circle cx="656.3" cy="661.9" r="7"/><circle cx="656.3" cy="661.9" r="10"/><circle cx="685.4" cy="643.8" r="7"/><circle cx="685.4" cy="643.8" r="10"/><circle cx="716.8" cy="661.9" r="7"/><circle cx="716.8" cy="661.9" r="10"/><circle cx="744.8" cy="643.7" r="7"/><circle cx="744.8" cy="643.7" r="10"/><circle cx="777.3" cy="662" r="7"/><circle cx="777.3" cy="662" r="10"/><circle cx="218.5" cy="688.2" r="7"/><circle cx="218.5" cy="688.2" r="10"/><circle cx="251.1" cy="706.2" r="7"/><circle cx="251.1" cy="706.2" r="10"/><circle cx="280" cy="688.3" r="7"/><circle cx="280" cy="688.3" r="10"/><circle cx="312.4" cy="706.3" r="7"/><circle cx="312.4" cy="706.3" r="10"/><circle cx="341.4" cy="688.5" r="7"/><circle cx="341.4" cy="688.5" r="10"/><circle cx="373.6" cy="706.4" r="7"/><circle cx="373.6" cy="706.4" r="10"/><circle cx="407.1" cy="690.4" r="7"/><circle cx="407.1" cy="690.4" r="10"/><circle cx="440.6" cy="710.2" r="7"/><circle cx="440.6" cy="710.2" r="10"/><circle cx="474.3" cy="695.8" r="7"/><circle cx="474.3" cy="695.8" r="10"/><circle cx="503.7" cy="714.3" r="7"/><circle cx="503.7" cy="714.3" r="10"/><circle cx="535.8" cy="697.7" r="7"/><circle cx="535.8" cy="697.7" r="10"/><circle cx="565.2" cy="714.6" r="7"/><circle cx="565.2" cy="714.6" r="10"/><circle cx="596.3" cy="697.3" r="7"/><circle cx="596.3" cy="697.3" r="10"/><circle cx="626.4" cy="714.9" r="7"/><circle cx="626.4" cy="714.9" r="10"/><circle cx="657.2" cy="697.6" r="7"/><circle cx="657.2" cy="697.6" r="10"/><circle cx="688.3" cy="715.3" r="7"/><circle cx="688.3" cy="715.3" r="10"/><circle cx="718.9" cy="697.7" r="7"/><circle cx="718.9" cy="697.7" r="10"/><circle cx="750" cy="715.4" r="7"/><circle cx="750" cy="715.4" r="10"/><circle cx="780.5" cy="697.9" r="7"/><circle cx="780.5" cy="697.9" r="10"/><circle cx="251.4" cy="741" r="7"/><circle cx="251.4" cy="741" r="10"/><circle cx="281.1" cy="758.2" r="7"/><circle cx="281.1" cy="758.2" r="10"/><circle cx="313.2" cy="741.5" r="7"/><circle cx="313.2" cy="741.5" r="10"/><circle cx="343.5" cy="759.2" r="7"/><circle cx="343.5" cy="759.2" r="10"/><circle cx="374.9" cy="742" r="7"/><circle cx="374.9" cy="742" r="10"/><circle cx="405.8" cy="760.2" r="7"/><circle cx="405.8" cy="760.2" r="10"/><circle cx="438" cy="744.4" r="7"/><circle cx="438" cy="744.4" r="10"/><circle cx="469.6" cy="763.3" r="7"/><circle cx="469.6" cy="763.3" r="10"/><circle cx="501.5" cy="747.6" r="7"/><circle cx="501.5" cy="747.6" r="10"/><circle cx="531.7" cy="765.4" r="7"/><circle cx="531.7" cy="765.4" r="10"/><circle cx="563.3" cy="749" r="7"/><circle cx="563.3" cy="749" r="10"/><circle cx="593.9" cy="766.8" r="7"/><circle cx="593.9" cy="766.8" r="10"/><circle cx="625.9" cy="749.9" r="7"/><circle cx="625.9" cy="749.9" r="10"/><circle cx="657.1" cy="768" r="7"/><circle cx="657.1" cy="768" r="10"/><circle cx="688.8" cy="750.7" r="7"/><circle cx="688.8" cy="750.7" r="10"/><circle cx="720" cy="768.3" r="7"/><circle cx="720" cy="768.3" r="10"/><circle cx="750.8" cy="750.7" r="7"/><circle cx="750.8" cy="750.7" r="10"/><circle cx="782.2" cy="768.3" r="7"/><circle cx="782.2" cy="768.3" r="10"/><circle cx="281.1" cy="793.8" r="7"/><circle cx="281.1" cy="793.8" r="10"/><circle cx="343.5" cy="794.8" r="7"/><circle cx="343.5" cy="794.8" r="10"/><circle cx="405.8" cy="795.8" r="7"/><circle cx="405.8" cy="795.8" r="10"/><circle cx="469.6" cy="798.9" r="7"/><circle cx="469.6" cy="798.9" r="10"/><circle cx="531.7" cy="801" r="7"/><circle cx="531.7" cy="801" r="10"/><circle cx="593.9" cy="802.4" r="7"/><circle cx="593.9" cy="802.4" r="10"/><circle cx="657.1" cy="803.6" r="7"/><circle cx="657.1" cy="803.6" r="10"/><circle cx="720" cy="803.9" r="7"/><circle cx="720" cy="803.9" r="10"/><circle cx="782.2" cy="803.9" r="7"/><circle cx="782.2" cy="803.9" r="10"/><circle cx="517.6" cy="611.5" r="7"/><circle cx="517.6" cy="611.5" r="10"/><circle cx="417" cy="624.3" r="7"/><circle cx="417" cy="624.3" r="10"/><circle cx="390.2" cy="644.6" r="7"/><circle cx="390.2" cy="644.6" r="10"/><circle cx="180.6" cy="458" r="10.5"/><circle cx="180.6" cy="458" r="12.5"/><circle cx="180.6" cy="458" r="15"/><circle cx="243.6" cy="458.5" r="10.5"/><circle cx="243.6" cy="458.5" r="12.5"/><circle cx="243.6" cy="458.5" r="15"/><circle cx="306.7" cy="459" r="10.5"/><circle cx="306.7" cy="459" r="12.5"/><circle cx="306.7" cy="459" r="15"/><circle cx="368.2" cy="460" r="10.5"/><circle cx="368.2" cy="460" r="12.5"/><circle cx="368.2" cy="460" r="15"/><circle cx="431.3" cy="461.5" r="10.5"/><circle cx="431.3" cy="461.5" r="12.5"/><circle cx="431.3" cy="461.5" r="15"/><circle cx="494.7" cy="464.5" r="10.5"/><circle cx="494.7" cy="464.5" r="12.5"/><circle cx="494.7" cy="464.5" r="15"/><circle cx="556.5" cy="465.5" r="10.5"/><circle cx="556.5" cy="465.5" r="12.5"/><circle cx="556.5" cy="465.5" r="15"/><circle cx="618.3" cy="466.5" r="10.5"/><circle cx="618.3" cy="466.5" r="12.5"/><circle cx="618.3" cy="466.5" r="15"/><circle cx="680.1" cy="467.5" r="10.5"/><circle cx="680.1" cy="467.5" r="12.5"/><circle cx="680.1" cy="467.5" r="15"/><circle cx="151.8" cy="509.1" r="10.5"/><circle cx="151.8" cy="509.1" r="12.5"/><circle cx="151.8" cy="509.1" r="15"/><circle cx="213" cy="509.3" r="10.5"/><circle cx="213" cy="509.3" r="12.5"/><circle cx="213" cy="509.3" r="15"/><circle cx="274.2" cy="509.5" r="10.5"/><circle cx="274.2" cy="509.5" r="12.5"/><circle cx="274.2" cy="509.5" r="15"/><circle cx="336" cy="510" r="10.5"/><circle cx="336" cy="510" r="12.5"/><circle cx="336" cy="510" r="15"/><circle cx="400" cy="510.7" r="10.5"/><circle cx="400" cy="510.7" r="12.5"/><circle cx="400" cy="510.7" r="15"/><circle cx="464.2" cy="514.2" r="10.5"/><circle cx="464.2" cy="514.2" r="12.5"/><circle cx="464.2" cy="514.2" r="15"/><circle cx="525.2" cy="517.2" r="10.5"/><circle cx="525.2" cy="517.2" r="12.5"/><circle cx="525.2" cy="517.2" r="15"/><circle cx="588.3" cy="518" r="10.5"/><circle cx="588.3" cy="518" r="12.5"/><circle cx="588.3" cy="518" r="15"/><circle cx="651.4" cy="518.8" r="10.5"/><circle cx="651.4" cy="518.8" r="12.5"/><circle cx="651.4" cy="518.8" r="15"/><circle cx="714.5" cy="519.6" r="10.5"/><circle cx="714.5" cy="519.6" r="12.5"/><circle cx="714.5" cy="519.6" r="15"/><circle cx="124.8" cy="560.9" r="10.5"/><circle cx="124.8" cy="560.9" r="12.5"/><circle cx="124.8" cy="560.9" r="15"/><circle cx="184.8" cy="561.6" r="10.5"/><circle cx="184.8" cy="561.6" r="12.5"/><circle cx="184.8" cy="561.6" r="15"/><circle cx="244.8" cy="562.3" r="10.5"/><circle cx="244.8" cy="562.3" r="12.5"/><circle cx="244.8" cy="562.3" r="15"/><circle cx="304.8" cy="563" r="10.5"/><circle cx="304.8" cy="563" r="12.5"/><circle cx="304.8" cy="563" r="15"/><circle cx="365.5" cy="561.5" r="10.5"/><circle cx="365.5" cy="561.5" r="12.5"/><circle cx="365.5" cy="561.5" r="15"/><circle cx="427" cy="561.6" r="10.5"/><circle cx="427" cy="561.6" r="12.5"/><circle cx="427" cy="561.6" r="15"/><circle cx="491" cy="570.4" r="10.5"/><circle cx="491" cy="570.4" r="12.5"/><circle cx="491" cy="570.4" r="15"/><circle cx="558" cy="571.5" r="10.5"/><circle cx="558" cy="571.5" r="12.5"/><circle cx="558" cy="571.5" r="15"/><circle cx="620.8" cy="571.5" r="10.5"/><circle cx="620.8" cy="571.5" r="12.5"/><circle cx="620.8" cy="571.5" r="15"/><circle cx="683.6" cy="571.5" r="10.5"/><circle cx="683.6" cy="571.5" r="12.5"/><circle cx="683.6" cy="571.5" r="15"/><circle cx="746.4" cy="571.5" r="10.5"/><circle cx="746.4" cy="571.5" r="12.5"/><circle cx="746.4" cy="571.5" r="15"/><circle cx="152" cy="615" r="10.5"/><circle cx="152" cy="615" r="12.5"/><circle cx="152" cy="615" r="15"/><circle cx="213.1" cy="615" r="10.5"/><circle cx="213.1" cy="615" r="12.5"/><circle cx="213.1" cy="615" r="15"/><circle cx="274.2" cy="615" r="10.5"/><circle cx="274.2" cy="615" r="12.5"/><circle cx="274.2" cy="615" r="15"/><circle cx="335.3" cy="615" r="10.5"/><circle cx="335.3" cy="615" r="12.5"/><circle cx="335.3" cy="615" r="15"/><circle cx="388.3" cy="611.5" r="10.5"/><circle cx="388.3" cy="611.5" r="12.5"/><circle cx="388.3" cy="611.5" r="15"/><circle cx="443.8" cy="614.4" r="10.5"/><circle cx="443.8" cy="614.4" r="12.5"/><circle cx="443.8" cy="614.4" r="15"/><circle cx="487" cy="630" r="10.5"/><circle cx="487" cy="630" r="12.5"/><circle cx="487" cy="630" r="15"/><circle cx="539" cy="626.5" r="10.5"/><circle cx="539" cy="626.5" r="12.5"/><circle cx="539" cy="626.5" r="15"/><circle cx="596.6" cy="626" r="10.5"/><circle cx="596.6" cy="626" r="12.5"/><circle cx="596.6" cy="626" r="15"/><circle cx="655" cy="625.8" r="10.5"/><circle cx="655" cy="625.8" r="12.5"/><circle cx="655" cy="625.8" r="15"/><circle cx="713.4" cy="625.6" r="10.5"/><circle cx="713.4" cy="625.6" r="12.5"/><circle cx="713.4" cy="625.6" r="15"/><circle cx="771.8" cy="625.4" r="10.5"/><circle cx="771.8" cy="625.4" r="12.5"/><circle cx="771.8" cy="625.4" r="15"/><circle cx="185.8" cy="670.1" r="10.5"/><circle cx="185.8" cy="670.1" r="12.5"/><circle cx="185.8" cy="670.1" r="15"/><circle cx="247.4" cy="670.3" r="10.5"/><circle cx="247.4" cy="670.3" r="12.5"/><circle cx="247.4" cy="670.3" r="15"/><circle cx="309" cy="670.5" r="10.5"/><circle cx="309" cy="670.5" r="12.5"/><circle cx="309" cy="670.5" r="15"/><circle cx="370.6" cy="670.7" r="10.5"/><circle cx="370.6" cy="670.7" r="12.5"/><circle cx="370.6" cy="670.7" r="15"/><circle cx="445" cy="676.4" r="10.5"/><circle cx="445" cy="676.4" r="12.5"/><circle cx="445" cy="676.4" r="15"/><circle cx="507" cy="681" r="10.5"/><circle cx="507" cy="681" r="12.5"/><circle cx="507" cy="681" r="15"/><circle cx="567.4" cy="680.2" r="10.5"/><circle cx="567.4" cy="680.2" r="12.5"/><circle cx="567.4" cy="680.2" r="15"/><circle cx="626.2" cy="679.8" r="10.5"/><circle cx="626.2" cy="679.8" r="12.5"/><circle cx="626.2" cy="679.8" r="15"/><circle cx="687.8" cy="680" r="10.5"/><circle cx="687.8" cy="680" r="12.5"/><circle cx="687.8" cy="680" r="15"/><circle cx="749.3" cy="680.2" r="10.5"/><circle cx="749.3" cy="680.2" r="12.5"/><circle cx="749.3" cy="680.2" r="15"/><circle cx="222.4" cy="724.2" r="10.5"/><circle cx="222.4" cy="724.2" r="12.5"/><circle cx="222.4" cy="724.2" r="15"/><circle cx="283.5" cy="724.2" r="10.5"/><circle cx="283.5" cy="724.2" r="12.5"/><circle cx="283.5" cy="724.2" r="15"/><circle cx="344.6" cy="724.2" r="10.5"/><circle cx="344.6" cy="724.2" r="12.5"/><circle cx="344.6" cy="724.2" r="15"/><circle cx="405.7" cy="724.2" r="10.5"/><circle cx="405.7" cy="724.2" r="12.5"/><circle cx="405.7" cy="724.2" r="15"/><circle cx="471" cy="730" r="10.5"/><circle cx="471" cy="730" r="12.5"/><circle cx="471" cy="730" r="15"/><circle cx="533" cy="731.8" r="10.5"/><circle cx="533" cy="731.8" r="12.5"/><circle cx="533" cy="731.8" r="15"/><circle cx="595.3" cy="731.8" r="10.5"/><circle cx="595.3" cy="731.8" r="12.5"/><circle cx="595.3" cy="731.8" r="15"/><circle cx="657.8" cy="733" r="10.5"/><circle cx="657.8" cy="733" r="12.5"/><circle cx="657.8" cy="733" r="15"/><circle cx="719.5" cy="733" r="10.5"/><circle cx="719.5" cy="733" r="12.5"/><circle cx="719.5" cy="733" r="15"/><circle cx="781.2" cy="733" r="10.5"/><circle cx="781.2" cy="733" r="12.5"/><circle cx="781.2" cy="733" r="15"/><circle cx="248.4" cy="774.5" r="10.5"/><circle cx="248.4" cy="774.5" r="12.5"/><circle cx="248.4" cy="774.5" r="15"/><circle cx="311.4" cy="776" r="10.5"/><circle cx="311.4" cy="776" r="12.5"/><circle cx="311.4" cy="776" r="15"/><circle cx="374.4" cy="777.5" r="10.5"/><circle cx="374.4" cy="777.5" r="12.5"/><circle cx="374.4" cy="777.5" r="15"/><circle cx="437.4" cy="779" r="10.5"/><circle cx="437.4" cy="779" r="12.5"/><circle cx="437.4" cy="779" r="15"/><circle cx="500.5" cy="781" r="10.5"/><circle cx="500.5" cy="781" r="12.5"/><circle cx="500.5" cy="781" r="15"/><circle cx="561.6" cy="783.5" r="10.5"/><circle cx="561.6" cy="783.5" r="12.5"/><circle cx="561.6" cy="783.5" r="15"/><circle cx="624.7" cy="785" r="10.5"/><circle cx="624.7" cy="785" r="12.5"/><circle cx="624.7" cy="785" r="15"/><circle cx="689" cy="786" r="10.5"/><circle cx="689" cy="786" r="12.5"/><circle cx="689" cy="786" r="15"/><circle cx="751.5" cy="786" r="10.5"/><circle cx="751.5" cy="786" r="12.5"/><circle cx="751.5" cy="786" r="15"/></g>
</g>
<rect x="151.25" y="456.5" width="630.75" height="332.1" fill="none" stroke="#111" stroke-width="2"/>
<g font-size="17" text-anchor="middle">
<text x="243.9" y="809">-5</text>
<text x="344" y="809">0</text>
<text x="442.1" y="809">5</text>
<text x="540.2" y="809">10</text>
<text x="638.3" y="809">15</text>
<text x="736.4" y="809">20</text>
</g><g font-size="17" text-anchor="end">
<text x="144.5" y="784.5">0</text>
<text x="144.5" y="686.4">5</text>
<text x="144.5" y="588.3">10</text>
<text x="144.5" y="490.2">15</text>
</g>
<text x="428.3" y="831" font-size="24.5"><tspan font-style="italic">x</tspan> (Å)</text>
<text transform="translate(126,654) rotate(-90)" font-size="24.5"><tspan font-style="italic">y</tspan> (Å)</text>
<rect x="78.2" y="466.25" width="16.2" height="315.3" fill="url(#jetb)"/>
<g font-size="17" text-anchor="end">
<text x="67.5" y="490.5">0</text>
<text x="67.5" y="527.1">-5</text>
<text x="67.5" y="563.7">-10</text>
<text x="67.5" y="600.3">-15</text>
<text x="67.5" y="636.9">-20</text>
<text x="67.5" y="673.5">-25</text>
<text x="67.5" y="710.1">-30</text>
<text x="67.5" y="746.7">-35</text>
<text x="67.5" y="783.3">-40</text>
</g>
<path d="M78.2 485h3M78.2 521.6h3M78.2 558.2h3M78.2 594.8h3M78.2 631.4h3M78.2 668h3M78.2 704.6h3M78.2 741.2h3M78.2 777.8h3" stroke="#333" stroke-width="0.8"/>
<text transform="translate(22,751) rotate(-90)" font-size="21.6" textLength="217.5" lengthAdjust="spacingAndGlyphs">Electrostatic potential (V)</text>
<text x="1.5" y="463.2" font-size="33" font-weight="bold">(b)</text>
<path d="M278 537h23M289.5 525.5v23" stroke="#111" stroke-width="5.8" fill="none"/><path d="M279.3 537h20.4M289.5 526.8v20.4" stroke="#fff" stroke-width="3.2" fill="none"/>
<path d="M293.3 563.5h23M304.8 552v23" stroke="#111" stroke-width="5.8" fill="none"/><path d="M294.6 563.5h20.4M304.8 553.3v20.4" stroke="#fff" stroke-width="3.2" fill="none"/>
<path d="M398.5 667h23M410 655.5v23" stroke="#111" stroke-width="5.8" fill="none"/><path d="M399.8 667h20.4M410 656.8v20.4" stroke="#fff" stroke-width="3.2" fill="none"/>
<rect x="296.5" y="491.5" width="29.5" height="25.0" rx="5" fill="#fff" stroke="#111" stroke-width="1"/><text x="311.25" y="511.0" font-size="22" text-anchor="middle">P2</text>
<rect x="322.5" y="533" width="28.5" height="25.799999999999955" rx="5" fill="#fff" stroke="#111" stroke-width="1"/><text x="336.75" y="553.3" font-size="22" text-anchor="middle">P3</text>
<rect x="426.8" y="625.6" width="28.19999999999999" height="25.899999999999977" rx="5" fill="#fff" stroke="#111" stroke-width="1"/><text x="440.9" y="646.0" font-size="22" text-anchor="middle">P1</text>
</g>
<defs>
<filter id="ablur" x="-5%" y="-10%" width="110%" height="120%"><feGaussianBlur stdDeviation="5"/></filter>
<radialGradient id="ablob" cx="0.42" cy="0.4" r="0.62"><stop offset="0" stop-color="#b0daf5"/><stop offset="0.22" stop-color="#80c0ea"/><stop offset="0.5" stop-color="#58a6dc"/><stop offset="0.78" stop-color="#3a8ccc"/><stop offset="1" stop-color="#2a76b8"/></radialGradient>
<radialGradient id="ablob2" cx="0.42" cy="0.4" r="0.62"><stop offset="0" stop-color="#c0e0f6"/><stop offset="0.3" stop-color="#94c8ec"/><stop offset="0.6" stop-color="#68acde"/><stop offset="0.85" stop-color="#4a96d2"/><stop offset="1" stop-color="#3a84c4"/></radialGradient>
<radialGradient id="asm" cx="0.4" cy="0.35" r="0.7"><stop offset="0" stop-color="#9ad4f4"/><stop offset="0.5" stop-color="#3f98d8"/><stop offset="1" stop-color="#1c62ac"/></radialGradient>
<radialGradient id="apink" cx="0.4" cy="0.35" r="0.7"><stop offset="0" stop-color="#ffd2d8"/><stop offset="0.6" stop-color="#e79aa8"/><stop offset="1" stop-color="#b87090"/></radialGradient>
<radialGradient id="ared" cx="0.4" cy="0.35" r="0.7"><stop offset="0" stop-color="#f4b8a8"/><stop offset="0.55" stop-color="#dc7868"/><stop offset="1" stop-color="#b85048"/></radialGradient>
<radialGradient id="apur" cx="0.45" cy="0.4" r="0.6"><stop offset="0" stop-color="#a99ae8"/><stop offset="0.5" stop-color="#6a5ccc"/><stop offset="1" stop-color="#4a48b8"/></radialGradient>
<radialGradient id="aho"><stop offset="0" stop-color="#f09030"/><stop offset="0.28" stop-color="#f0b030"/><stop offset="0.42" stop-color="#e0d838"/><stop offset="0.58" stop-color="#80e050" stop-opacity="0.95"/><stop offset="0.8" stop-color="#48d890" stop-opacity="0.6"/><stop offset="1" stop-color="#40d0a0" stop-opacity="0"/></radialGradient>
<radialGradient id="ahy"><stop offset="0" stop-color="#f0d828"/><stop offset="0.28" stop-color="#dce030"/><stop offset="0.48" stop-color="#80e050" stop-opacity="0.95"/><stop offset="0.75" stop-color="#48d890" stop-opacity="0.6"/><stop offset="1" stop-color="#40d0a0" stop-opacity="0"/></radialGradient>
<radialGradient id="ahl"><stop offset="0" stop-color="#c4e038"/><stop offset="0.3" stop-color="#98e048" stop-opacity="0.95"/><stop offset="0.65" stop-color="#50dc80" stop-opacity="0.6"/><stop offset="1" stop-color="#40d0a0" stop-opacity="0"/></radialGradient>
<radialGradient id="ahg"><stop offset="0" stop-color="#4cd658"/><stop offset="0.35" stop-color="#48d870" stop-opacity="0.9"/><stop offset="0.7" stop-color="#44d498" stop-opacity="0.5"/><stop offset="1" stop-color="#40d0a0" stop-opacity="0"/></radialGradient>
<linearGradient id="asl" x1="0" y1="0" x2="1" y2="0"><stop offset="0" stop-color="#30c0c4"/><stop offset="0.3" stop-color="#2cbcca"/><stop offset="0.7" stop-color="#2cbcca"/><stop offset="1" stop-color="#30c2c4"/></linearGradient>
<linearGradient id="cba" x1="0" y1="0" x2="0" y2="1"><stop offset="0" stop-color="#ff3a10"/><stop offset="0.055" stop-color="#ff6a10"/><stop offset="0.168" stop-color="#ffb010"/><stop offset="0.282" stop-color="#f4f020"/><stop offset="0.395" stop-color="#a0f030"/><stop offset="0.509" stop-color="#38f058"/><stop offset="0.623" stop-color="#10e8a0"/><stop offset="0.736" stop-color="#10d8d0"/><stop offset="0.85" stop-color="#20a8e0"/><stop offset="0.964" stop-color="#2060e0"/><stop offset="1" stop-color="#1830e0"/></linearGradient>
<clipPath id="csl"><polygon points="223,88 715.5,77 715.5,342 223,355"/></clipPath>
</defs>
<g id="pa" font-family='"Liberation Serif", serif' fill="#111">
<path d="M160 19.5L704.5 61.6L780.2 143.8M160 19.5L157 285.4L234.4 368.8M157 285.4L236 288M704.5 61.6V80" stroke="#d8d020" stroke-width="1.2" fill="none"/>
<path d="M238.5 36.5L240.5 40.4L242 45.4L242.4 50.6L241.8 55.4L240.2 59.3L238.1 61.7L235.1 62.9L230.9 63L226.2 62L221.5 59.8L217.3 56.7L214.3 53.5L212.3 49.6L210.8 44.6L210.4 39.4L211 34.6L212.6 30.7L214.7 28.3L217.7 27.1L221.9 27L226.6 28L231.3 30.2L235.5 33.3Z" fill="#4a9fd6" opacity="0.42"/><path d="M236.5 37.9L238.3 41.3L239.6 45.7L240.1 50.1L239.7 54.3L238.4 57.6L236.7 59.7L234.1 60.6L230.6 60.7L226.5 59.6L222.5 57.6L218.9 54.9L216.3 52.1L214.5 48.7L213.2 44.3L212.7 39.9L213.1 35.7L214.4 32.4L216.1 30.3L218.7 29.4L222.2 29.3L226.3 30.4L230.3 32.4L233.9 35.1Z" fill="url(#ablob2)" stroke="#2a78b8" stroke-opacity="0.5" stroke-width="0.8" opacity="0.95"/>
<path d="M255.4 53.4L257.5 57.5L259 62.8L259.5 68.3L258.8 73.4L257.1 77.5L254.8 80.2L251.5 81.4L247 81.6L242 80.5L237 78.2L232.5 75L229.4 71.6L227.3 67.5L225.8 62.2L225.3 56.7L226 51.6L227.7 47.5L230 44.8L233.3 43.6L237.8 43.4L242.8 44.5L247.8 46.8L252.3 50Z" fill="#4a9fd6" opacity="0.42"/><path d="M253.4 54.8L255.3 58.4L256.7 63L257.2 67.8L256.7 72.2L255.2 75.8L253.3 78.1L250.5 79.1L246.7 79.2L242.3 78.2L238 76.1L234.1 73.2L231.4 70.2L229.5 66.6L228.1 62L227.6 57.2L228.1 52.8L229.6 49.2L231.5 46.9L234.3 45.9L238.1 45.8L242.5 46.8L246.8 48.9L250.7 51.8Z" fill="url(#ablob2)" stroke="#2a78b8" stroke-opacity="0.5" stroke-width="0.8" opacity="0.95"/>
<path d="M268 67.9L270 71.8L271.3 76.9L271.6 82.1L270.8 87.1L269 91.1L266.7 93.7L263.5 95L259.1 95.3L254.1 94.4L249.3 92.3L245 89.3L242 86.1L240 82.2L238.7 77.1L238.4 71.9L239.2 66.9L241 62.9L243.3 60.3L246.5 59L250.9 58.7L255.9 59.6L260.7 61.7L265 64.7Z" fill="#4a9fd6" opacity="0.42"/><path d="M266 69.3L267.8 72.7L269 77.1L269.3 81.7L268.7 86L267.2 89.5L265.3 91.7L262.5 92.8L258.7 92.9L254.5 92.1L250.3 90.2L246.6 87.5L244 84.7L242.2 81.3L241 76.9L240.7 72.3L241.3 68L242.8 64.5L244.7 62.3L247.5 61.2L251.3 61.1L255.5 61.9L259.7 63.8L263.4 66.5Z" fill="url(#ablob2)" stroke="#2a78b8" stroke-opacity="0.5" stroke-width="0.8" opacity="0.95"/>
<path d="M278.1 83.5L279.8 87L281 91.6L281.1 96.3L280.3 100.8L278.6 104.5L276.4 106.9L273.4 108.1L269.4 108.4L264.9 107.7L260.5 105.9L256.6 103.3L253.9 100.5L252.2 97L251 92.4L250.9 87.7L251.7 83.2L253.4 79.5L255.6 77.1L258.6 75.9L262.6 75.6L267.1 76.3L271.5 78.1L275.4 80.7Z" fill="#4a9fd6" opacity="0.42"/><path d="M276.1 84.9L277.6 87.9L278.6 91.8L278.8 95.9L278.2 99.7L276.8 102.8L275 104.8L272.5 105.9L269.1 106.1L265.3 105.4L261.5 103.8L258.2 101.5L255.9 99.1L254.4 96.1L253.4 92.2L253.2 88.1L253.8 84.3L255.2 81.2L257 79.2L259.5 78.1L262.9 77.9L266.7 78.6L270.5 80.2L273.8 82.5Z" fill="url(#ablob)" stroke="#2a78b8" stroke-opacity="0.5" stroke-width="0.8" opacity="0.95"/>
<path d="M315 46.1L316.9 49.8L318.2 54.6L318.5 59.5L317.8 64.2L316.1 68L314 70.4L311 71.6L306.8 71.8L302.2 70.9L297.7 68.9L293.7 66.1L290.8 63.1L288.9 59.4L287.6 54.6L287.3 49.7L288 45L289.7 41.2L291.8 38.8L294.8 37.6L299 37.4L303.6 38.3L308.1 40.3L312.1 43.1Z" fill="#4a9fd6" opacity="0.42"/><path d="M313 47.5L314.7 50.7L315.8 54.8L316.2 59.1L315.6 63.1L314.3 66.3L312.5 68.4L310 69.3L306.5 69.5L302.6 68.6L298.7 66.8L295.3 64.3L292.8 61.7L291.1 58.5L290 54.4L289.6 50.1L290.2 46.1L291.5 42.9L293.3 40.8L295.8 39.9L299.3 39.7L303.2 40.6L307.1 42.4L310.5 44.9Z" fill="url(#ablob2)" stroke="#2a78b8" stroke-opacity="0.5" stroke-width="0.8" opacity="0.95"/>
<path d="M328.6 59.8L330.6 63.7L331.9 68.8L332.2 74L331.4 79L329.6 83L327.3 85.6L324.1 86.9L319.7 87.2L314.7 86.3L309.9 84.2L305.6 81.2L302.6 78L300.6 74.1L299.3 69L299 63.8L299.8 58.8L301.6 54.8L303.9 52.2L307.1 50.9L311.5 50.6L316.5 51.5L321.3 53.6L325.6 56.6Z" fill="#4a9fd6" opacity="0.42"/><path d="M326.6 61.2L328.4 64.6L329.6 69L329.9 73.6L329.3 77.9L327.8 81.4L325.9 83.6L323.1 84.7L319.3 84.8L315.1 84L310.9 82.1L307.2 79.4L304.6 76.6L302.8 73.2L301.6 68.8L301.3 64.2L301.9 59.9L303.4 56.4L305.3 54.2L308.1 53.1L311.9 53L316.1 53.8L320.3 55.7L324 58.4Z" fill="url(#ablob2)" stroke="#2a78b8" stroke-opacity="0.5" stroke-width="0.8" opacity="0.95"/>
<path d="M338.9 71.5L340.6 75L341.8 79.6L341.9 84.3L341.1 88.8L339.4 92.5L337.2 94.9L334.2 96.1L330.2 96.4L325.7 95.7L321.3 93.9L317.4 91.3L314.7 88.5L313 85L311.8 80.4L311.7 75.7L312.5 71.2L314.2 67.5L316.4 65.1L319.4 63.9L323.4 63.6L327.9 64.3L332.3 66.1L336.2 68.7Z" fill="#4a9fd6" opacity="0.42"/><path d="M336.9 72.9L338.4 75.9L339.4 79.8L339.6 83.9L339 87.7L337.6 90.8L335.8 92.8L333.3 93.9L329.9 94.1L326.1 93.4L322.3 91.8L319 89.5L316.7 87.1L315.2 84.1L314.2 80.2L314 76.1L314.6 72.3L316 69.2L317.8 67.2L320.3 66.1L323.7 65.9L327.5 66.6L331.3 68.2L334.6 70.5Z" fill="url(#ablob2)" stroke="#2a78b8" stroke-opacity="0.5" stroke-width="0.8" opacity="0.95"/>
<path d="M392.1 51.5L394 55.2L395.3 60L395.6 64.9L394.9 69.6L393.2 73.4L391.1 75.8L388.1 77L383.9 77.2L379.3 76.3L374.8 74.3L370.8 71.5L367.9 68.5L366 64.8L364.7 60L364.4 55.1L365.1 50.4L366.8 46.6L368.9 44.2L371.9 43L376.1 42.8L380.7 43.7L385.2 45.7L389.2 48.5Z" fill="#4a9fd6" opacity="0.42"/><path d="M390.1 52.9L391.8 56.1L392.9 60.2L393.3 64.5L392.7 68.5L391.4 71.7L389.6 73.8L387.1 74.7L383.6 74.9L379.7 74L375.8 72.2L372.4 69.7L369.9 67.1L368.2 63.9L367.1 59.8L366.7 55.5L367.3 51.5L368.6 48.3L370.4 46.2L372.9 45.3L376.4 45.1L380.3 46L384.2 47.8L387.6 50.3Z" fill="url(#ablob2)" stroke="#2a78b8" stroke-opacity="0.5" stroke-width="0.8" opacity="0.95"/>
<path d="M404.1 65.5L405.8 69L407 73.6L407.1 78.3L406.3 82.8L404.6 86.5L402.4 88.9L399.4 90.1L395.4 90.4L390.9 89.7L386.5 87.9L382.6 85.3L379.9 82.5L378.2 79L377 74.4L376.9 69.7L377.7 65.2L379.4 61.5L381.6 59.1L384.6 57.9L388.6 57.6L393.1 58.3L397.5 60.1L401.4 62.7Z" fill="#4a9fd6" opacity="0.42"/><path d="M402.1 66.9L403.6 69.9L404.6 73.8L404.8 77.9L404.2 81.7L402.8 84.8L401 86.8L398.5 87.9L395.1 88.1L391.3 87.4L387.5 85.8L384.2 83.5L381.9 81.1L380.4 78.1L379.4 74.2L379.2 70.1L379.8 66.3L381.2 63.2L383 61.2L385.5 60.1L388.9 59.9L392.7 60.6L396.5 62.2L399.8 64.5Z" fill="url(#ablob2)" stroke="#2a78b8" stroke-opacity="0.5" stroke-width="0.8" opacity="0.95"/>
<path d="M474.5 63.1L476.2 67.2L477.2 72.3L477.2 77.5L476.2 82.2L474.2 85.9L471.9 88.2L468.8 89.1L464.6 88.9L460 87.4L455.5 84.8L451.6 81.4L448.9 77.9L447.2 73.8L446.2 68.7L446.2 63.5L447.2 58.8L449.2 55.1L451.5 52.8L454.6 51.9L458.8 52.1L463.4 53.6L467.9 56.2L471.8 59.6Z" fill="#4a9fd6" opacity="0.42"/><path d="M472.4 64.3L473.9 67.9L474.8 72.3L474.9 76.8L474.1 80.9L472.6 84.1L470.7 86L468 86.7L464.5 86.5L460.5 85.1L456.7 82.8L453.4 79.7L451 76.7L449.5 73.1L448.6 68.7L448.5 64.2L449.3 60.1L450.8 56.9L452.7 55L455.4 54.3L458.9 54.5L462.9 55.9L466.7 58.2L470 61.3Z" fill="url(#ablob2)" stroke="#2a78b8" stroke-opacity="0.5" stroke-width="0.8" opacity="0.95"/>
<path d="M483.8 77.2L485 80.4L485.6 84.5L485.3 88.7L484.1 92.6L482.1 95.8L479.9 97.8L477.1 98.7L473.4 98.7L469.4 97.8L465.6 96L462.4 93.5L460.2 90.8L459 87.6L458.4 83.5L458.7 79.3L459.9 75.4L461.9 72.2L464.1 70.2L466.9 69.3L470.6 69.3L474.6 70.2L478.4 72L481.6 74.5Z" fill="#4a9fd6" opacity="0.42"/><path d="M481.7 78.4L482.8 81.1L483.3 84.5L483 88.1L482.1 91.3L480.5 94L478.7 95.6L476.4 96.4L473.3 96.4L470 95.6L466.8 94L464.1 91.9L462.3 89.6L461.2 86.9L460.7 83.5L461 79.9L461.9 76.7L463.5 74L465.3 72.4L467.6 71.6L470.7 71.6L474 72.4L477.2 74L479.9 76.1Z" fill="url(#ablob2)" stroke="#2a78b8" stroke-opacity="0.5" stroke-width="0.8" opacity="0.95"/>
<path d="M555.8 64.1L557.3 67.9L558 72.8L557.7 77.9L556.4 82.6L554.2 86.4L551.6 88.7L548.3 89.8L544 89.8L539.2 88.6L534.7 86.3L530.8 83.2L528.2 79.9L526.7 76.1L526 71.2L526.3 66.1L527.6 61.4L529.8 57.6L532.4 55.3L535.7 54.2L540 54.2L544.8 55.4L549.3 57.7L553.2 60.8Z" fill="#4a9fd6" opacity="0.42"/><path d="M553.6 65.3L555 68.6L555.7 72.9L555.5 77.3L554.4 81.3L552.6 84.6L550.4 86.5L547.6 87.4L543.9 87.4L539.8 86.3L535.9 84.3L532.6 81.6L530.4 78.7L529 75.4L528.3 71.1L528.5 66.7L529.6 62.7L531.4 59.4L533.6 57.5L536.4 56.6L540.1 56.6L544.2 57.7L548.1 59.7L551.4 62.4Z" fill="url(#ablob2)" stroke="#2a78b8" stroke-opacity="0.5" stroke-width="0.8" opacity="0.95"/>
<path d="M563.8 79.2L565 82.4L565.6 86.5L565.3 90.7L564.1 94.6L562.1 97.8L559.9 99.8L557.1 100.7L553.4 100.7L549.4 99.8L545.6 98L542.4 95.5L540.2 92.8L539 89.6L538.4 85.5L538.7 81.3L539.9 77.4L541.9 74.2L544.1 72.2L546.9 71.3L550.6 71.3L554.6 72.2L558.4 74L561.6 76.5Z" fill="#4a9fd6" opacity="0.42"/><path d="M561.7 80.4L562.8 83.1L563.3 86.5L563 90.1L562.1 93.3L560.5 96L558.7 97.6L556.4 98.4L553.3 98.4L550 97.6L546.8 96L544.1 93.9L542.3 91.6L541.2 88.9L540.7 85.5L541 81.9L541.9 78.7L543.5 76L545.3 74.4L547.6 73.6L550.7 73.6L554 74.4L557.2 76L559.9 78.1Z" fill="url(#ablob)" stroke="#2a78b8" stroke-opacity="0.5" stroke-width="0.8" opacity="0.95"/>
<path d="M631.3 66.3L632.7 70L633.4 74.6L633.2 79.3L632 83.7L630 87.2L627.6 89.4L624.5 90.4L620.4 90.4L616 89.2L611.8 87.1L608.2 84.1L605.7 81.1L604.3 77.4L603.6 72.8L603.8 68.1L605 63.7L607 60.2L609.4 58L612.5 57L616.6 57L621 58.2L625.2 60.3L628.8 63.3Z" fill="#4a9fd6" opacity="0.42"/><path d="M629.2 67.5L630.4 70.7L631.1 74.6L631 78.7L630 82.4L628.3 85.4L626.3 87.3L623.8 88.1L620.3 88L616.6 87L613 85.1L609.9 82.5L607.8 79.9L606.6 76.7L605.9 72.8L606 68.7L607 65L608.7 62L610.7 60.1L613.2 59.3L616.7 59.4L620.4 60.4L624 62.3L627.1 64.9Z" fill="url(#ablob2)" stroke="#2a78b8" stroke-opacity="0.5" stroke-width="0.8" opacity="0.95"/>
<path d="M703.4 67.5L704.5 70.4L705.1 74.2L704.8 78.1L703.7 81.7L702 84.6L700 86.5L697.4 87.3L694 87.4L690.3 86.5L686.8 84.8L683.8 82.4L681.8 79.9L680.7 77L680.1 73.2L680.4 69.3L681.5 65.7L683.2 62.8L685.2 60.9L687.8 60.1L691.2 60L694.9 60.9L698.4 62.6L701.4 65Z" fill="#4a9fd6" opacity="0.42"/><path d="M701.3 68.7L702.3 71.1L702.8 74.3L702.6 77.5L701.8 80.5L700.4 82.9L698.8 84.4L696.7 85L693.9 85L690.9 84.3L688 82.8L685.5 80.8L683.9 78.7L682.9 76.3L682.4 73.1L682.6 69.9L683.4 66.9L684.8 64.5L686.4 63L688.5 62.4L691.3 62.4L694.3 63.1L697.2 64.6L699.7 66.6Z" fill="url(#ablob2)" stroke="#2a78b8" stroke-opacity="0.5" stroke-width="0.8" opacity="0.95"/>
<polygon points="223,88 715.5,77 715.5,342 223,355" fill="url(#asl)" opacity="0.96"/>
<g clip-path="url(#csl)"><g fill="#3088dc" opacity="0.7" filter="url(#ablur)"><ellipse cx="292.9" cy="122" rx="26.2" ry="33.6" transform="rotate(-25 292.9 122)"/><ellipse cx="310.4" cy="189" rx="19.2" ry="20.8" transform="rotate(-30 310.4 189)"/><ellipse cx="321.6" cy="200" rx="19.2" ry="20.8" transform="rotate(-30 321.6 200)"/><ellipse cx="243.5" cy="196.9" rx="19.2" ry="22.4" transform="rotate(-10 243.5 196.9)"/><ellipse cx="241.9" cy="257.9" rx="21" ry="30.4" transform="rotate(-5 241.9 257.9)"/><ellipse cx="304" cy="243.6" rx="26.2" ry="30.4" transform="rotate(-30 304 243.6)"/><ellipse cx="320" cy="261.1" rx="26.2" ry="30.4" transform="rotate(-30 320 261.1)"/><ellipse cx="307.2" cy="300.9" rx="17.5" ry="20.8" transform="rotate(-30 307.2 300.9)"/><ellipse cx="288.1" cy="332.8" rx="22.8" ry="19.2" transform="rotate(0 288.1 332.8)"/><ellipse cx="394.4" cy="262.7" rx="22.8" ry="35.2" transform="rotate(-20 394.4 262.7)"/><ellipse cx="390" cy="245" rx="22.8" ry="28.8" transform="rotate(-30 390 245)"/><ellipse cx="403" cy="277" rx="21" ry="25.6" transform="rotate(-30 403 277)"/><ellipse cx="440.5" cy="123.6" rx="24.5" ry="30.4" transform="rotate(-28 440.5 123.6)"/><ellipse cx="450" cy="139.6" rx="24.5" ry="28.8" transform="rotate(-28 450 139.6)"/><ellipse cx="515.4" cy="126.8" rx="26.2" ry="32" transform="rotate(-30 515.4 126.8)"/><ellipse cx="528" cy="145.9" rx="28" ry="33.6" transform="rotate(-30 528 145.9)"/><ellipse cx="588.6" cy="123.6" rx="28" ry="33.6" transform="rotate(-30 588.6 123.6)"/><ellipse cx="603" cy="145" rx="29.8" ry="35.2" transform="rotate(-30 603 145)"/><ellipse cx="646" cy="109.3" rx="24.5" ry="28.8" transform="rotate(-30 646 109.3)"/><ellipse cx="660.4" cy="126.8" rx="26.2" ry="30.4" transform="rotate(-30 660.4 126.8)"/><ellipse cx="678" cy="149.1" rx="26.2" ry="30.4" transform="rotate(-30 678 149.1)"/><ellipse cx="703.4" cy="101.4" rx="19.2" ry="28.8" transform="rotate(-15 703.4 101.4)"/><ellipse cx="466" cy="259.5" rx="22.8" ry="27.2" transform="rotate(-30 466 259.5)"/><ellipse cx="477.2" cy="275.4" rx="22.8" ry="27.2" transform="rotate(-30 477.2 275.4)"/><ellipse cx="544" cy="265.9" rx="22.8" ry="27.2" transform="rotate(-30 544 265.9)"/><ellipse cx="553.6" cy="283.4" rx="22.8" ry="27.2" transform="rotate(-30 553.6 283.4)"/><ellipse cx="611" cy="262.7" rx="24.5" ry="28.8" transform="rotate(-30 611 262.7)"/><ellipse cx="623.7" cy="278.6" rx="24.5" ry="28.8" transform="rotate(-30 623.7 278.6)"/><ellipse cx="634.8" cy="297.7" rx="22.8" ry="27.2" transform="rotate(-30 634.8 297.7)"/><ellipse cx="690.6" cy="275.4" rx="26.2" ry="30.4" transform="rotate(-30 690.6 275.4)"/><ellipse cx="705" cy="291.4" rx="26.2" ry="30.4" transform="rotate(-30 705 291.4)"/><ellipse cx="648" cy="227" rx="21" ry="24" transform="rotate(-35 648 227)"/><ellipse cx="539" cy="172.5" rx="43.8" ry="12" transform="rotate(-10 539 172.5)"/><ellipse cx="496.3" cy="246.8" rx="38.5" ry="14.4" transform="rotate(-8 496.3 246.8)"/><circle cx="262.1" cy="157.1" r="12"/><circle cx="341" cy="163.5" r="12"/><circle cx="414.8" cy="158" r="12"/><circle cx="419.3" cy="170.8" r="12"/><circle cx="488" cy="158" r="12"/><circle cx="491.3" cy="167" r="12"/><circle cx="498.3" cy="177.2" r="12"/><circle cx="555.6" cy="158" r="12"/><circle cx="565.2" cy="169.2" r="12"/><circle cx="574.7" cy="182" r="12"/><circle cx="628.9" cy="159.7" r="12"/><circle cx="641.7" cy="174" r="12"/><circle cx="652.8" cy="187.7" r="12"/><circle cx="702.8" cy="166" r="12"/><circle cx="291.7" cy="230.3" r="12"/><circle cx="261.5" cy="290.8" r="12"/><circle cx="341.1" cy="295.5" r="12"/><circle cx="360.2" cy="222.9" r="12"/><circle cx="369.7" cy="236.6" r="12"/><circle cx="446.7" cy="219.7" r="12"/><circle cx="440.3" cy="231.8" r="12"/><circle cx="448.9" cy="243" r="12"/><circle cx="513.6" cy="224.8" r="12"/><circle cx="516.8" cy="237.6" r="12"/><circle cx="526.3" cy="250.3" r="12"/><circle cx="584.9" cy="228.7" r="12"/><circle cx="593.8" cy="241.4" r="12"/><circle cx="603.4" cy="255.7" r="12"/><circle cx="656" cy="233.4" r="12"/><circle cx="668.8" cy="247.8" r="12"/><circle cx="679.9" cy="261.1" r="12"/><circle cx="558.9" cy="214.3" r="12"/><circle cx="640" cy="219" r="12"/><circle cx="703.8" cy="209.6" r="12"/><circle cx="412.9" cy="291.7" r="12"/><circle cx="418.7" cy="303.5" r="12"/><circle cx="489.4" cy="287.6" r="12"/><circle cx="488.7" cy="298" r="12"/><circle cx="496.7" cy="309.9" r="12"/><circle cx="564.5" cy="302.5" r="12"/><circle cx="574.7" cy="316.2" r="12"/><circle cx="640.1" cy="307.6" r="12"/><circle cx="651.2" cy="321" r="12"/><circle cx="593.9" cy="340.1" r="12"/><circle cx="671.9" cy="348.1" r="12"/><circle cx="291.7" cy="177.2" r="12"/><circle cx="430.8" cy="183.6" r="12"/><circle cx="509.4" cy="188.3" r="12"/><circle cx="587.5" cy="194.7" r="12"/><circle cx="665.6" cy="201" r="12"/><circle cx="448.9" cy="193.1" r="10"/><circle cx="468" cy="202.7" r="11"/><circle cx="538" cy="194.7" r="11"/><circle cx="600.2" cy="186.8" r="11"/><circle cx="609.7" cy="201" r="11"/><circle cx="675" cy="194.7" r="11"/><circle cx="691" cy="204.3" r="11"/><circle cx="243.9" cy="313.1" r="12"/><circle cx="322" cy="319.4" r="12"/><circle cx="399.6" cy="211.1" r="11"/><circle cx="477.6" cy="215.9" r="12"/><circle cx="466.4" cy="203.2" r="10"/><circle cx="549.2" cy="212.7" r="12"/><circle cx="560.4" cy="219.1" r="11"/><circle cx="622.5" cy="214.3" r="12"/><circle cx="609.7" cy="204.8" r="10"/><circle cx="429.8" cy="316.2" r="12"/><circle cx="509.4" cy="321" r="12"/><circle cx="517.4" cy="337" r="12"/><circle cx="527" cy="349.7" r="12"/><circle cx="585.9" cy="329" r="12"/><circle cx="662.4" cy="333.8" r="12"/><circle cx="441" cy="330" r="11"/><circle cx="447.3" cy="343.3" r="11"/><circle cx="399.6" cy="329" r="10"/><circle cx="476.6" cy="335.4" r="9"/><circle cx="544.5" cy="326.8" r="10"/><circle cx="555.6" cy="339.5" r="11"/><circle cx="536.5" cy="314.6" r="9"/><circle cx="613" cy="319.4" r="10"/><circle cx="622.5" cy="330.6" r="11"/><circle cx="632" cy="343.3" r="11"/><circle cx="544.6" cy="211.1" r="10"/><circle cx="554.1" cy="225.5" r="10"/><circle cx="614.6" cy="208" r="10"/><circle cx="624.2" cy="215.9" r="11"/><circle cx="633.7" cy="230.3" r="11"/><circle cx="665.6" cy="204.8" r="10"/><circle cx="681.5" cy="212.7" r="11"/><circle cx="697.4" cy="222.3" r="11"/><circle cx="708.6" cy="233.4" r="11"/><circle cx="611.4" cy="319.4" r="10"/><circle cx="659.2" cy="294" r="10"/><circle cx="686.3" cy="322.6" r="10"/><circle cx="697.4" cy="335.4" r="11"/><circle cx="554.1" cy="338.5" r="10"/><circle cx="633.7" cy="344.9" r="11"/><circle cx="710.2" cy="349.7" r="11"/><circle cx="586" cy="327.4" r="12"/></g></g>
<g clip-path="url(#csl)">
<circle cx="405.3" cy="132.6" r="32.3" fill="url(#aho)"/>
<circle cx="498.3" cy="129.4" r="28.5" fill="url(#ahy)"/>
<circle cx="609.7" cy="191.5" r="24.7" fill="url(#ahy)"/>
<circle cx="562" cy="260.5" r="28.5" fill="url(#ahy)"/>
<circle cx="603.4" cy="327.4" r="26.6" fill="url(#ahy)"/>
<circle cx="275.8" cy="273.2" r="30.4" fill="url(#ahl)"/>
<circle cx="318.8" cy="336.9" r="22.8" fill="url(#ahl)"/>
<circle cx="240.8" cy="140.6" r="30.4" fill="url(#ahg)"/>
<circle cx="337.9" cy="201" r="26.6" fill="url(#ahg)"/>
<circle cx="245.5" cy="340" r="28.5" fill="url(#ahg)"/>
<circle cx="338" cy="206.4" r="19" fill="url(#ahg)"/>
<circle cx="442.5" cy="268.5" r="26.6" fill="url(#ahg)"/>
<circle cx="482.4" cy="332.2" r="22.8" fill="url(#ahg)"/>
<circle cx="699" cy="257.3" r="19" fill="url(#ahg)"/>
<circle cx="600.3" cy="204.8" r="19" fill="url(#ahg)"/>
<circle cx="530" cy="100" r="26.6" fill="url(#ahg)"/>
<circle cx="665" cy="95" r="26.6" fill="url(#ahg)"/>
<circle cx="455" cy="185" r="22.8" fill="url(#ahg)"/>
<circle cx="385" cy="215" r="19" fill="url(#ahg)"/>
<circle cx="690" cy="300" r="19" fill="url(#ahg)"/>
<circle cx="575" cy="130" r="19" fill="url(#ahg)"/>
<circle cx="250" cy="230" r="22.8" fill="url(#ahg)"/>
</g>
<path d="M347.5 89.9C353.5 88.6 372.8 88.3 379 89.9C385.2 91.6 383 96 385 99.9C386.9 103.7 390.2 108.2 390.6 113.1C391 118.1 389.2 124.7 387.3 129.7C385.3 134.7 380.9 139.3 379 142.9C377.1 146.5 375.4 148.2 375.7 151.2C376 154.3 377.9 158.6 380.6 161.2C383.4 163.7 388.1 164.9 392.2 166.8C396.4 168.7 402.2 170.6 405.5 172.7C408.8 174.8 411.6 176.9 412.1 179.4C412.7 181.9 410.7 185.2 408.8 187.7C406.9 190.1 403.8 192.5 400.5 194.3C397.2 196.1 392.5 198.3 388.9 198.6C385.3 198.9 382 197.2 379 195.9C376 194.7 372.9 192.9 370.7 191C368.5 189 367.1 186.3 365.7 184.3C364.4 182.4 364.6 179.5 362.4 179.4C360.2 179.2 355.5 183.1 352.5 183.3C349.5 183.6 345 182.5 344.2 181C343.4 179.5 345.6 176.3 347.5 174.4C349.5 172.5 354.2 171.9 355.8 169.4C357.5 166.9 357.7 163.4 357.5 159.5C357.2 155.6 356.1 151.2 354.2 146.2C352.2 141.3 347.9 135.2 345.9 129.7C343.8 124.2 342.3 118.4 341.9 113.1C341.5 107.9 342.3 102.1 343.2 98.2C344.2 94.4 341.6 91.3 347.5 89.9Z" fill="#2f86c6" opacity="0.9"/>
<path d="M362.4 298.6C365.2 296.4 371.3 293.8 375.7 292C380.1 290.2 384.5 287.7 388.9 288C393.3 288.3 398.4 291.4 402.2 293.6C405.9 295.9 410.4 298.8 411.5 301.3C412.6 303.7 410.9 306.8 408.8 308.6C406.7 310.3 402.2 310.5 398.9 311.9C395.6 313.2 391.6 314.6 388.9 316.8C386.3 319 384.2 321 383 325.1C381.8 329.3 382.3 337 381.6 341.7C381 346.4 380.5 350.6 379 353.3C377.4 355.9 375.7 356.9 372.4 357.6C369.1 358.3 362.7 358.3 359.1 357.6C355.5 356.9 353 355.9 350.8 353.3C348.6 350.6 347.5 346.1 345.9 341.7C344.2 337.3 342.3 330.9 340.9 326.8C339.5 322.6 336.8 318.9 337.6 316.8C338.4 314.8 343.1 315.3 345.9 314.5C348.6 313.7 351.9 313.4 354.2 311.9C356.4 310.3 357.7 307.4 359.1 305.2C360.5 303 359.7 300.8 362.4 298.6Z" fill="#2f86c6" opacity="0.9"/>
<ellipse cx="395" cy="182" rx="15" ry="12" fill="#1b5f98" opacity="0.6"/>
<ellipse cx="365" cy="115" rx="13" ry="22" fill="#5aaae0" opacity="0.5"/>
<ellipse cx="368" cy="335" rx="13" ry="18" fill="#5aaae0" opacity="0.5"/>
<path d="M188.9 122.3L190.3 125.1L191.2 128.8L191.3 132.7L190.5 136.4L189 139.5L187.2 141.5L184.6 142.5L181.3 142.9L177.5 142.3L173.9 140.9L170.7 138.8L168.5 136.5L167.1 133.7L166.2 130L166.1 126.1L166.9 122.4L168.4 119.3L170.2 117.3L172.8 116.3L176.1 115.9L179.9 116.5L183.5 117.9L186.7 120Z" fill="#4a9fd6" opacity="0.42"/><path d="M187 123.6L188.1 126L188.9 129.1L189 132.3L188.4 135.3L187.3 137.9L185.8 139.5L183.7 140.3L181 140.6L177.9 140.1L174.9 138.9L172.3 137.1L170.4 135.2L169.3 132.8L168.5 129.7L168.4 126.5L169 123.5L170.1 120.9L171.6 119.3L173.7 118.5L176.4 118.2L179.5 118.7L182.5 119.9L185.1 121.7Z" fill="url(#ablob2)" stroke="#2a78b8" stroke-opacity="0.5" stroke-width="0.8" opacity="0.95"/>
<path d="M203.2 133.5L204.6 136.3L205.5 140L205.6 143.9L204.8 147.6L203.3 150.7L201.5 152.7L198.9 153.7L195.6 154.1L191.8 153.5L188.2 152.1L185 150L182.8 147.7L181.4 144.9L180.5 141.2L180.4 137.3L181.2 133.6L182.7 130.5L184.5 128.5L187.1 127.5L190.4 127.1L194.2 127.7L197.8 129.1L201 131.2Z" fill="#4a9fd6" opacity="0.42"/><path d="M201.3 134.8L202.4 137.2L203.2 140.3L203.3 143.5L202.7 146.5L201.6 149.1L200.1 150.7L198 151.5L195.3 151.8L192.2 151.3L189.2 150.1L186.6 148.3L184.7 146.4L183.6 144L182.8 140.9L182.7 137.7L183.3 134.7L184.4 132.1L185.9 130.5L188 129.7L190.7 129.4L193.8 129.9L196.8 131.1L199.4 132.9Z" fill="url(#ablob2)" stroke="#2a78b8" stroke-opacity="0.5" stroke-width="0.8" opacity="0.95"/>
<path d="M215.9 146.2L217.3 149L218.2 152.7L218.3 156.6L217.5 160.3L216 163.4L214.2 165.4L211.6 166.4L208.3 166.8L204.5 166.2L200.9 164.8L197.7 162.7L195.5 160.4L194.1 157.6L193.2 153.9L193.1 150L193.9 146.3L195.4 143.2L197.2 141.2L199.8 140.2L203.1 139.8L206.9 140.4L210.5 141.8L213.7 143.9Z" fill="#4a9fd6" opacity="0.42"/><path d="M214 147.5L215.1 149.9L215.9 153L216 156.2L215.4 159.2L214.3 161.8L212.8 163.4L210.7 164.2L208 164.5L204.9 164L201.9 162.8L199.3 161L197.4 159.1L196.3 156.7L195.5 153.6L195.4 150.4L196 147.4L197.1 144.8L198.6 143.2L200.7 142.4L203.4 142.1L206.5 142.6L209.5 143.8L212.1 145.6Z" fill="url(#ablob2)" stroke="#2a78b8" stroke-opacity="0.5" stroke-width="0.8" opacity="0.95"/>
<path d="M226.2 159.5L227.5 162.1L228.3 165.5L228.4 169.1L227.7 172.5L226.4 175.3L224.7 177.1L222.4 178.1L219.3 178.4L215.9 177.9L212.6 176.6L209.7 174.6L207.6 172.5L206.3 169.9L205.5 166.5L205.4 162.9L206.1 159.5L207.4 156.7L209.1 154.9L211.4 153.9L214.5 153.6L217.9 154.1L221.2 155.4L224.1 157.4Z" fill="#4a9fd6" opacity="0.42"/><path d="M224.2 160.9L225.3 163L226 165.8L226.2 168.7L225.7 171.5L224.6 173.7L223.3 175.2L221.5 175.9L219 176.1L216.3 175.6L213.6 174.5L211.2 172.9L209.6 171.1L208.5 169L207.8 166.2L207.6 163.3L208.1 160.5L209.2 158.3L210.5 156.8L212.3 156.1L214.8 155.9L217.5 156.4L220.2 157.5L222.6 159.1Z" fill="url(#ablob2)" stroke="#2a78b8" stroke-opacity="0.5" stroke-width="0.8" opacity="0.95"/>
<path d="M187.2 178.9L189 182.3L190.4 186.7L190.9 191.2L190.5 195.4L189.2 198.8L187.4 200.9L184.8 201.8L181.2 201.9L177.1 200.8L173.1 198.8L169.4 196L166.8 193.1L165 189.7L163.6 185.3L163.1 180.8L163.5 176.6L164.8 173.2L166.6 171.1L169.2 170.2L172.8 170.1L176.9 171.2L180.9 173.2L184.6 176Z" fill="#4a9fd6" opacity="0.42"/><path d="M185.3 180.2L186.9 183.2L188.1 186.9L188.6 190.8L188.4 194.3L187.4 197.1L186 198.8L183.9 199.6L180.9 199.5L177.5 198.5L174.1 196.7L171 194.3L168.7 191.8L167.1 188.8L165.9 185.1L165.4 181.2L165.6 177.7L166.6 174.9L168 173.2L170.1 172.4L173.1 172.5L176.5 173.5L179.9 175.3L183 177.7Z" fill="url(#ablob2)" stroke="#2a78b8" stroke-opacity="0.5" stroke-width="0.8" opacity="0.95"/>
<path d="M199.7 190.5L201.6 194.1L202.9 198.6L203.4 203.3L202.9 207.6L201.6 211.2L199.7 213.3L197 214.3L193.3 214.4L189 213.4L184.8 211.3L181 208.5L178.3 205.5L176.4 201.9L175.1 197.4L174.6 192.7L175.1 188.4L176.4 184.8L178.3 182.7L181 181.7L184.7 181.6L189 182.6L193.2 184.7L197 187.5Z" fill="#4a9fd6" opacity="0.42"/><path d="M197.7 191.9L199.4 195L200.6 198.8L201.1 202.8L200.8 206.5L199.8 209.5L198.3 211.3L196.1 212.1L193 212.1L189.4 211.1L185.8 209.2L182.6 206.7L180.3 204.1L178.6 201L177.4 197.2L176.9 193.2L177.2 189.5L178.2 186.5L179.7 184.7L181.9 183.9L185 183.9L188.6 184.9L192.2 186.8L195.4 189.3Z" fill="url(#ablob2)" stroke="#2a78b8" stroke-opacity="0.5" stroke-width="0.8" opacity="0.95"/>
<path d="M213.1 203.2L215.1 206.9L216.5 211.5L216.9 216.4L216.4 220.9L215 224.5L213.1 226.8L210.3 227.9L206.3 227.9L202 226.9L197.6 224.8L193.7 221.9L190.9 218.8L188.9 215.1L187.5 210.5L187.1 205.6L187.6 201.1L189 197.5L190.9 195.2L193.7 194.1L197.7 194.1L202 195.1L206.4 197.2L210.3 200.1Z" fill="#4a9fd6" opacity="0.42"/><path d="M211.2 204.6L212.9 207.8L214.1 211.8L214.7 215.9L214.3 219.8L213.2 222.9L211.6 224.8L209.3 225.6L206 225.6L202.3 224.6L198.6 222.7L195.2 220.1L192.8 217.4L191.1 214.2L189.9 210.2L189.3 206.1L189.7 202.2L190.8 199.1L192.4 197.2L194.7 196.4L198 196.4L201.7 197.4L205.4 199.3L208.8 201.9Z" fill="url(#ablob2)" stroke="#2a78b8" stroke-opacity="0.5" stroke-width="0.8" opacity="0.95"/>
<path d="M224.1 218.2L226.1 221.9L227.5 226.5L227.9 231.4L227.4 235.9L226 239.5L224.1 241.8L221.3 242.9L217.3 242.9L213 241.9L208.6 239.8L204.7 236.9L201.9 233.8L199.9 230.1L198.5 225.5L198.1 220.6L198.6 216.1L200 212.5L201.9 210.2L204.7 209.1L208.7 209.1L213 210.1L217.4 212.2L221.3 215.1Z" fill="#4a9fd6" opacity="0.42"/><path d="M222.2 219.6L223.9 222.8L225.1 226.8L225.7 230.9L225.3 234.8L224.2 237.9L222.6 239.8L220.3 240.6L217 240.6L213.3 239.6L209.6 237.7L206.2 235.1L203.8 232.4L202.1 229.2L200.9 225.2L200.3 221.1L200.7 217.2L201.8 214.1L203.4 212.2L205.7 211.4L209 211.4L212.7 212.4L216.4 214.3L219.8 216.9Z" fill="url(#ablob2)" stroke="#2a78b8" stroke-opacity="0.5" stroke-width="0.8" opacity="0.95"/>
<path d="M230.2 235.9L232 239.3L233.4 243.7L233.9 248.2L233.5 252.4L232.2 255.8L230.4 257.9L227.8 258.8L224.2 258.9L220.1 257.8L216.1 255.8L212.4 253L209.8 250.1L208 246.7L206.6 242.3L206.1 237.8L206.5 233.6L207.8 230.2L209.6 228.1L212.2 227.2L215.8 227.1L219.9 228.2L223.9 230.2L227.6 233Z" fill="#4a9fd6" opacity="0.42"/><path d="M228.3 237.2L229.9 240.2L231.1 243.9L231.6 247.8L231.4 251.3L230.4 254.1L229 255.8L226.9 256.6L223.9 256.5L220.5 255.5L217.1 253.7L214 251.3L211.7 248.8L210.1 245.8L208.9 242.1L208.4 238.2L208.6 234.7L209.6 231.9L211 230.2L213.1 229.4L216.1 229.5L219.5 230.5L222.9 232.3L226 234.7Z" fill="url(#ablob2)" stroke="#2a78b8" stroke-opacity="0.5" stroke-width="0.8" opacity="0.95"/>
<path d="M188.3 239.5L188.7 241.9L188.6 244.9L187.7 247.8L186.3 250.4L184.5 252.5L182.6 253.6L180.4 254L177.7 253.6L174.9 252.5L172.3 250.8L170.3 248.6L169.1 246.5L168.7 244.1L168.8 241.1L169.7 238.2L171.1 235.6L172.9 233.5L174.8 232.4L177 232L179.7 232.4L182.5 233.5L185.1 235.2L187.1 237.4Z" fill="#4a9fd6" opacity="0.42"/><path d="M186.1 240.3L186.4 242.2L186.3 244.5L185.7 246.9L184.6 248.9L183.2 250.5L181.8 251.4L180.1 251.7L178 251.4L175.8 250.5L173.8 249.1L172.3 247.4L171.3 245.7L171 243.8L171.1 241.5L171.7 239.1L172.8 237.1L174.2 235.5L175.6 234.6L177.3 234.3L179.4 234.6L181.6 235.5L183.6 236.9L185.1 238.6Z" fill="url(#ablob2)" stroke="#2a78b8" stroke-opacity="0.5" stroke-width="0.8" opacity="0.95"/>
<path d="M200.4 255.4L200.8 257.8L200.7 260.8L199.8 263.7L198.4 266.3L196.6 268.4L194.7 269.5L192.5 269.9L189.8 269.5L187 268.4L184.4 266.7L182.4 264.5L181.2 262.4L180.8 260L180.9 257L181.8 254.1L183.2 251.5L185 249.4L186.9 248.3L189.1 247.9L191.8 248.3L194.6 249.4L197.2 251.1L199.2 253.3Z" fill="#4a9fd6" opacity="0.42"/><path d="M198.2 256.2L198.5 258.1L198.4 260.4L197.8 262.8L196.7 264.8L195.3 266.4L193.9 267.3L192.2 267.6L190.1 267.3L187.9 266.4L185.9 265L184.4 263.3L183.4 261.6L183.1 259.7L183.2 257.4L183.8 255L184.9 253L186.3 251.4L187.7 250.5L189.4 250.2L191.5 250.5L193.7 251.4L195.7 252.8L197.2 254.5Z" fill="url(#ablob2)" stroke="#2a78b8" stroke-opacity="0.5" stroke-width="0.8" opacity="0.95"/>
<path d="M312.4 114.8L314.1 120.2L314.7 126.8L314.1 133.5L312.2 139.4L309.3 144L305.9 146.7L301.8 147.5L296.4 146.8L290.6 144.4L285.1 140.6L280.4 135.9L277.4 131.2L275.7 125.8L275.1 119.2L275.7 112.5L277.6 106.6L280.5 102L283.9 99.3L288 98.5L293.4 99.2L299.2 101.6L304.7 105.4L309.4 110.1Z" fill="#4a9fd6" opacity="0.42"/><path d="M310.1 115.9L311.7 120.7L312.3 126.6L311.8 132.6L310.2 137.9L307.7 142L304.8 144.3L301.2 145L296.4 144.3L291.3 142.1L286.5 138.7L282.4 134.4L279.7 130.1L278.1 125.3L277.5 119.4L278 113.4L279.6 108.1L282.1 104L285 101.7L288.6 101L293.4 101.7L298.5 103.9L303.3 107.3L307.4 111.6Z" fill="url(#ablob)" stroke="#2a78b8" stroke-opacity="0.5" stroke-width="0.8" opacity="0.95"/>
<path d="M325.2 182.6L326.5 186.1L327.1 190.4L326.7 195L325.4 199.2L323.3 202.6L320.9 204.7L317.9 205.7L313.8 205.8L309.5 204.9L305.4 202.9L301.9 200.2L299.6 197.4L298.3 193.9L297.7 189.6L298.1 185L299.4 180.8L301.5 177.4L303.9 175.3L306.9 174.3L311 174.2L315.3 175.1L319.4 177.1L322.9 179.8Z" fill="#4a9fd6" opacity="0.42"/><path d="M323.1 183.8L324.2 186.8L324.7 190.5L324.5 194.3L323.4 197.9L321.7 200.8L319.7 202.6L317.1 203.4L313.7 203.5L310.1 202.6L306.6 200.9L303.7 198.6L301.7 196.2L300.6 193.2L300.1 189.5L300.3 185.7L301.4 182.1L303.1 179.2L305.1 177.4L307.7 176.6L311.1 176.5L314.7 177.4L318.2 179.1L321.1 181.4Z" fill="url(#ablob)" stroke="#2a78b8" stroke-opacity="0.5" stroke-width="0.8" opacity="0.95"/>
<path d="M336.4 193.6L337.7 197.1L338.3 201.4L337.9 206L336.6 210.2L334.5 213.6L332.1 215.7L329.1 216.7L325 216.8L320.7 215.9L316.6 213.9L313.1 211.2L310.8 208.4L309.5 204.9L308.9 200.6L309.3 196L310.6 191.8L312.7 188.4L315.1 186.3L318.1 185.3L322.2 185.2L326.5 186.1L330.6 188.1L334.1 190.8Z" fill="#4a9fd6" opacity="0.42"/><path d="M334.3 194.8L335.4 197.8L335.9 201.5L335.7 205.3L334.6 208.9L332.9 211.8L330.9 213.6L328.3 214.4L324.9 214.5L321.3 213.6L317.8 211.9L314.9 209.6L312.9 207.2L311.8 204.2L311.3 200.5L311.5 196.7L312.6 193.1L314.3 190.2L316.3 188.4L318.9 187.6L322.3 187.5L325.9 188.4L329.4 190.1L332.3 192.4Z" fill="url(#ablob)" stroke="#2a78b8" stroke-opacity="0.5" stroke-width="0.8" opacity="0.95"/>
<path d="M260 195.3L260.1 199.3L259.2 203.8L257.4 208.2L254.7 211.9L251.6 214.5L248.7 215.8L245.4 215.6L241.6 214.2L237.9 211.7L234.6 208.2L232.2 204.2L231 200.5L230.9 196.5L231.8 192L233.6 187.6L236.3 183.9L239.4 181.3L242.3 180L245.6 180.2L249.4 181.6L253.1 184.1L256.4 187.6L258.8 191.6Z" fill="#4a9fd6" opacity="0.42"/><path d="M257.6 195.8L257.7 199.1L257 203.1L255.5 206.9L253.3 210L250.7 212.3L248.2 213.3L245.5 213.2L242.3 212L239.2 209.7L236.4 206.7L234.4 203.3L233.4 200L233.3 196.7L234 192.7L235.5 188.9L237.7 185.8L240.3 183.5L242.8 182.5L245.5 182.6L248.7 183.8L251.8 186.1L254.6 189.1L256.6 192.5Z" fill="url(#ablob)" stroke="#2a78b8" stroke-opacity="0.5" stroke-width="0.8" opacity="0.95"/>
<path d="M259.7 257.5L259.5 262.6L258.3 268.5L255.9 274L252.8 278.4L249.3 281.5L246 282.7L242.5 282L238.5 279.7L234.7 275.8L231.4 270.8L229.1 265.3L228.1 260.3L228.3 255.2L229.5 249.3L231.9 243.8L235 239.4L238.5 236.3L241.8 235.1L245.3 235.8L249.3 238.1L253.1 242L256.4 247L258.7 252.5Z" fill="#4a9fd6" opacity="0.42"/><path d="M257.3 257.7L257.2 262.3L256.1 267.5L254.2 272.4L251.5 276.4L248.5 279L245.8 280.1L242.8 279.5L239.4 277.4L236.1 274L233.4 269.5L231.4 264.5L230.5 260.1L230.6 255.5L231.7 250.3L233.6 245.4L236.3 241.4L239.3 238.8L242 237.7L245 238.3L248.4 240.4L251.7 243.8L254.4 248.3L256.4 253.3Z" fill="url(#ablob)" stroke="#2a78b8" stroke-opacity="0.5" stroke-width="0.8" opacity="0.95"/>
<path d="M322.7 234.9L324.6 239.7L325.6 245.8L325.3 252L323.7 257.8L321 262.4L317.9 265.3L313.9 266.5L308.6 266.5L302.8 265L297.2 262.1L292.5 258.3L289.3 254.2L287.4 249.5L286.4 243.4L286.7 237.2L288.3 231.4L291 226.8L294.1 223.9L298.1 222.7L303.4 222.7L309.2 224.2L314.8 227.1L319.5 230.9Z" fill="#4a9fd6" opacity="0.42"/><path d="M320.5 236.2L322.3 240.5L323.2 245.8L323 251.3L321.6 256.4L319.3 260.5L316.6 263L313.1 264.1L308.4 264L303.4 262.7L298.5 260.1L294.3 256.6L291.5 253L289.7 248.7L288.8 243.4L289 237.9L290.4 232.8L292.7 228.7L295.4 226.2L298.9 225.1L303.6 225.2L308.6 226.5L313.5 229.1L317.7 232.6Z" fill="url(#ablob)" stroke="#2a78b8" stroke-opacity="0.5" stroke-width="0.8" opacity="0.95"/>
<path d="M338.7 252.5L340.6 257.2L341.6 263.3L341.3 269.5L339.7 275.3L337 279.9L333.9 282.8L329.9 284L324.6 284L318.8 282.5L313.2 279.6L308.5 275.8L305.3 271.8L303.4 267L302.4 260.9L302.7 254.7L304.3 248.9L307 244.3L310.1 241.4L314.1 240.2L319.4 240.2L325.2 241.7L330.8 244.6L335.5 248.4Z" fill="#4a9fd6" opacity="0.42"/><path d="M336.5 253.7L338.3 258L339.2 263.3L339 268.8L337.6 273.9L335.3 278L332.6 280.5L329.1 281.6L324.4 281.5L319.4 280.2L314.5 277.6L310.3 274.1L307.5 270.5L305.7 266.2L304.8 260.9L305 255.4L306.4 250.3L308.7 246.2L311.4 243.7L314.9 242.6L319.6 242.7L324.6 244L329.5 246.6L333.7 250.1Z" fill="url(#ablob)" stroke="#2a78b8" stroke-opacity="0.5" stroke-width="0.8" opacity="0.95"/>
<path d="M321 295.1L322.3 298.5L323 302.8L322.9 307.2L321.8 311.3L319.9 314.6L317.7 316.6L314.9 317.5L311.1 317.5L307 316.4L303.1 314.3L299.7 311.6L297.4 308.7L296.1 305.3L295.4 301L295.5 296.6L296.6 292.5L298.5 289.2L300.7 287.2L303.5 286.3L307.3 286.3L311.4 287.4L315.3 289.5L318.7 292.2Z" fill="#4a9fd6" opacity="0.42"/><path d="M318.9 296.3L320.1 299.2L320.7 302.9L320.6 306.6L319.8 310.1L318.3 312.8L316.5 314.5L314.1 315.2L311 315.1L307.6 314.2L304.3 312.4L301.4 310L299.5 307.5L298.3 304.6L297.7 300.9L297.8 297.2L298.6 293.7L300.1 291L301.9 289.3L304.3 288.6L307.4 288.7L310.8 289.6L314.1 291.4L317 293.8Z" fill="url(#ablob)" stroke="#2a78b8" stroke-opacity="0.5" stroke-width="0.8" opacity="0.95"/>
<path d="M307.1 333.8L306.5 337.2L304.5 341L301.6 344.5L297.8 347.3L293.7 349.1L290.1 349.7L286.5 349.1L282.4 347.3L278.6 344.5L275.7 341L273.7 337.2L273.1 333.8L273.7 330.4L275.7 326.6L278.6 323.1L282.4 320.3L286.5 318.5L290.1 317.9L293.7 318.5L297.8 320.3L301.6 323.1L304.5 326.6L306.5 330.4Z" fill="#4a9fd6" opacity="0.42"/><path d="M304.7 333.8L304.1 336.7L302.5 339.9L299.9 342.8L296.7 345.2L293.2 346.7L290.1 347.2L287 346.7L283.5 345.2L280.3 342.8L277.7 339.9L276.1 336.7L275.5 333.8L276.1 330.9L277.7 327.7L280.3 324.8L283.5 322.4L287 320.9L290.1 320.4L293.2 320.9L296.7 322.4L299.9 324.8L302.5 327.7L304.1 330.9Z" fill="url(#ablob)" stroke="#2a78b8" stroke-opacity="0.5" stroke-width="0.8" opacity="0.95"/>
<path d="M412.4 257.9L413.8 263.6L414.2 270.4L413.4 277L411.6 282.8L408.8 287.1L405.7 289.3L402 289.6L397.1 288.1L391.9 284.9L387.1 280.2L383 274.8L380.4 269.5L379 263.8L378.6 257L379.4 250.4L381.2 244.6L384 240.3L387.1 238.1L390.8 237.8L395.7 239.3L400.9 242.5L405.7 247.2L409.8 252.6Z" fill="#4a9fd6" opacity="0.42"/><path d="M410.1 258.7L411.3 263.9L411.8 270L411.3 275.9L409.7 281.1L407.4 284.9L404.8 286.9L401.6 287L397.4 285.6L392.9 282.6L388.6 278.4L385 273.4L382.7 268.7L381.5 263.5L381 257.4L381.5 251.5L383.1 246.3L385.4 242.5L388 240.5L391.2 240.4L395.4 241.8L399.9 244.8L404.2 249L407.8 254Z" fill="url(#ablob)" stroke="#2a78b8" stroke-opacity="0.5" stroke-width="0.8" opacity="0.95"/>
<path d="M406.7 237.5L408.6 242L409.6 247.7L409.6 253.5L408.3 258.8L406.1 263.1L403.4 265.7L399.8 266.7L395 266.5L389.7 265L384.6 262.1L380.3 258.4L377.3 254.5L375.4 250L374.4 244.3L374.4 238.5L375.7 233.2L377.9 228.9L380.6 226.3L384.2 225.3L389 225.5L394.3 227L399.4 229.9L403.7 233.6Z" fill="#4a9fd6" opacity="0.42"/><path d="M404.6 238.7L406.3 242.7L407.3 247.7L407.3 252.9L406.3 257.5L404.4 261.2L402.1 263.5L399 264.3L394.8 264.1L390.3 262.6L385.9 260.1L382 256.7L379.4 253.3L377.7 249.3L376.7 244.3L376.7 239.1L377.7 234.5L379.6 230.8L381.9 228.5L385 227.7L389.2 227.9L393.7 229.4L398.1 231.9L402 235.3Z" fill="url(#ablob)" stroke="#2a78b8" stroke-opacity="0.5" stroke-width="0.8" opacity="0.95"/>
<path d="M418.8 270.1L420.4 274.1L421.3 279.3L421.1 284.6L419.9 289.4L417.8 293.3L415.2 295.7L411.9 296.7L407.4 296.6L402.6 295.3L398 292.8L394 289.4L391.2 285.9L389.6 281.9L388.7 276.7L388.9 271.4L390.1 266.6L392.2 262.7L394.8 260.3L398.1 259.3L402.6 259.4L407.4 260.7L412 263.2L416 266.6Z" fill="#4a9fd6" opacity="0.42"/><path d="M416.6 271.3L418.1 274.9L418.9 279.3L418.9 283.9L417.9 288.1L416.1 291.5L414 293.5L411.1 294.4L407.3 294.2L403.2 293L399.2 290.7L395.7 287.8L393.4 284.7L391.9 281.1L391.1 276.7L391.1 272.1L392.1 267.9L393.9 264.5L396 262.5L398.9 261.6L402.7 261.8L406.8 263L410.8 265.3L414.3 268.2Z" fill="url(#ablob)" stroke="#2a78b8" stroke-opacity="0.5" stroke-width="0.8" opacity="0.95"/>
<path d="M458.5 116.1L460.3 120.9L461.2 126.9L460.8 133L459.3 138.6L456.7 143L453.7 145.7L449.8 146.7L444.7 146.3L439.2 144.5L434 141.4L429.5 137.3L426.5 133.1L424.7 128.3L423.8 122.3L424.2 116.2L425.7 110.6L428.3 106.2L431.3 103.5L435.2 102.5L440.3 102.9L445.8 104.7L451 107.8L455.5 111.9Z" fill="#4a9fd6" opacity="0.42"/><path d="M456.3 117.2L457.9 121.5L458.8 126.9L458.5 132.3L457.2 137.2L455.1 141.1L452.5 143.4L449.1 144.2L444.7 143.9L439.9 142.2L435.3 139.4L431.3 135.7L428.7 132L427.1 127.7L426.2 122.3L426.5 116.9L427.8 112L429.9 108.1L432.5 105.8L435.9 105L440.3 105.3L445.1 107L449.7 109.8L453.7 113.5Z" fill="url(#ablob)" stroke="#2a78b8" stroke-opacity="0.5" stroke-width="0.8" opacity="0.95"/>
<path d="M468 132.1L469.7 136.7L470.4 142.5L470 148.4L468.3 153.8L465.7 158.1L462.7 160.7L458.8 161.7L453.8 161.5L448.4 159.8L443.2 156.9L438.9 153.1L436 149.1L434.3 144.5L433.6 138.7L434 132.8L435.7 127.4L438.3 123.1L441.3 120.5L445.2 119.5L450.2 119.7L455.6 121.4L460.8 124.3L465.1 128.1Z" fill="#4a9fd6" opacity="0.42"/><path d="M465.8 133.2L467.3 137.3L468 142.4L467.7 147.6L466.3 152.4L464.1 156.1L461.5 158.4L458.1 159.3L453.8 159L449.1 157.5L444.5 154.9L440.7 151.5L438.2 148L436.7 143.9L436 138.8L436.3 133.6L437.7 128.8L439.9 125.1L442.5 122.8L445.9 121.9L450.2 122.2L454.9 123.7L459.5 126.3L463.3 129.7Z" fill="url(#ablob)" stroke="#2a78b8" stroke-opacity="0.5" stroke-width="0.8" opacity="0.95"/>
<path d="M534.1 118.2L536.1 123.1L537.2 129.4L537.1 135.9L535.6 141.8L533 146.6L529.9 149.5L525.8 150.7L520.4 150.5L514.6 148.9L508.9 145.8L504 141.7L500.7 137.4L498.7 132.5L497.6 126.2L497.7 119.7L499.2 113.8L501.8 109L504.9 106.1L509 104.9L514.4 105.1L520.2 106.7L525.9 109.8L530.8 113.9Z" fill="#4a9fd6" opacity="0.42"/><path d="M531.9 119.4L533.8 123.9L534.8 129.5L534.7 135.2L533.5 140.5L531.3 144.7L528.6 147.2L525.1 148.2L520.3 148.1L515.1 146.5L510.1 143.7L505.8 140L502.9 136.2L501 131.7L500 126.1L500.1 120.4L501.3 115.1L503.5 110.9L506.2 108.4L509.7 107.4L514.5 107.5L519.7 109.1L524.7 111.9L529 115.6Z" fill="url(#ablob)" stroke="#2a78b8" stroke-opacity="0.5" stroke-width="0.8" opacity="0.95"/>
<path d="M547.7 136.7L549.8 141.9L550.9 148.5L550.7 155.3L549.1 161.5L546.3 166.5L543.1 169.5L538.8 170.8L533.1 170.7L526.9 169L520.9 165.8L515.8 161.6L512.3 157.1L510.2 151.9L509.1 145.3L509.3 138.5L510.9 132.3L513.7 127.3L516.9 124.3L521.2 123L526.9 123.1L533.1 124.8L539.1 128L544.2 132.2Z" fill="#4a9fd6" opacity="0.42"/><path d="M545.5 137.9L547.4 142.6L548.5 148.5L548.4 154.6L547 160.1L544.6 164.6L541.8 167.3L538 168.4L532.9 168.2L527.5 166.6L522.2 163.7L517.6 159.9L514.5 155.9L512.6 151.2L511.5 145.3L511.6 139.2L513 133.7L515.4 129.2L518.2 126.5L522 125.4L527.1 125.6L532.5 127.2L537.8 130.1L542.4 133.9Z" fill="url(#ablob)" stroke="#2a78b8" stroke-opacity="0.5" stroke-width="0.8" opacity="0.95"/>
<path d="M608.3 114.4L610.4 119.6L611.5 126.2L611.3 133L609.7 139.2L606.9 144.2L603.7 147.2L599.4 148.5L593.7 148.4L587.5 146.7L581.5 143.5L576.4 139.3L572.9 134.8L570.8 129.6L569.7 123L569.9 116.2L571.5 110L574.3 105L577.5 102L581.8 100.7L587.5 100.8L593.7 102.5L599.7 105.7L604.8 109.9Z" fill="#4a9fd6" opacity="0.42"/><path d="M606.1 115.6L608 120.3L609.1 126.2L609 132.3L607.6 137.8L605.2 142.3L602.4 145L598.6 146.1L593.5 145.9L588.1 144.3L582.8 141.4L578.2 137.6L575.1 133.6L573.2 128.9L572.1 123L572.2 116.9L573.6 111.4L576 106.9L578.8 104.2L582.6 103.1L587.7 103.3L593.1 104.9L598.4 107.8L603 111.6Z" fill="url(#ablob)" stroke="#2a78b8" stroke-opacity="0.5" stroke-width="0.8" opacity="0.95"/>
<path d="M623.7 135.2L625.9 140.7L627 147.5L626.8 154.6L625 161.2L622.1 166.4L618.6 169.6L614.1 171L608.1 170.9L601.6 169.2L595.3 165.9L589.9 161.4L586.3 156.8L584.1 151.3L583 144.5L583.2 137.4L585 130.8L587.9 125.6L591.4 122.4L595.9 121L601.9 121.1L608.4 122.8L614.7 126.1L620.1 130.6Z" fill="#4a9fd6" opacity="0.42"/><path d="M621.5 136.5L623.5 141.4L624.6 147.6L624.4 154L622.9 159.8L620.4 164.5L617.3 167.3L613.3 168.5L608 168.4L602.2 166.8L596.6 163.7L591.8 159.7L588.5 155.5L586.5 150.6L585.4 144.4L585.6 138L587.1 132.2L589.6 127.5L592.7 124.7L596.7 123.5L602 123.6L607.8 125.2L613.4 128.3L618.2 132.3Z" fill="url(#ablob)" stroke="#2a78b8" stroke-opacity="0.5" stroke-width="0.8" opacity="0.95"/>
<path d="M663.7 101.2L665.5 105.8L666.5 111.5L666.2 117.4L664.8 122.9L662.3 127.3L659.4 130L655.6 131.1L650.5 131.1L645.1 129.7L639.8 126.9L635.3 123.2L632.3 119.4L630.5 114.8L629.5 109.1L629.8 103.2L631.2 97.7L633.7 93.3L636.6 90.6L640.4 89.5L645.5 89.5L650.9 90.9L656.2 93.7L660.7 97.4Z" fill="#4a9fd6" opacity="0.42"/><path d="M661.6 102.5L663.2 106.5L664.1 111.6L663.9 116.8L662.7 121.6L660.6 125.4L658.1 127.8L654.8 128.8L650.4 128.7L645.6 127.3L641 124.9L637.1 121.6L634.4 118.1L632.8 114.1L631.9 109L632.1 103.8L633.3 99L635.4 95.2L637.9 92.8L641.2 91.8L645.6 91.9L650.4 93.3L655 95.7L658.9 99Z" fill="url(#ablob)" stroke="#2a78b8" stroke-opacity="0.5" stroke-width="0.8" opacity="0.95"/>
<path d="M679.1 118.2L681 122.9L682 129L681.7 135.2L680.1 141L677.4 145.6L674.3 148.5L670.3 149.7L665 149.7L659.2 148.2L653.6 145.3L648.9 141.5L645.7 137.4L643.8 132.7L642.8 126.6L643.1 120.4L644.7 114.6L647.4 110L650.5 107.1L654.5 105.9L659.8 105.9L665.6 107.4L671.2 110.3L675.9 114.1Z" fill="#4a9fd6" opacity="0.42"/><path d="M676.9 119.4L678.7 123.7L679.6 129L679.4 134.5L678 139.6L675.7 143.7L673 146.2L669.5 147.3L664.8 147.2L659.8 145.9L654.9 143.3L650.7 139.8L647.9 136.2L646.1 131.9L645.2 126.6L645.4 121.1L646.8 116L649.1 111.9L651.8 109.4L655.3 108.3L660 108.4L665 109.7L669.9 112.3L674.1 115.8Z" fill="url(#ablob)" stroke="#2a78b8" stroke-opacity="0.5" stroke-width="0.8" opacity="0.95"/>
<path d="M696.7 140.4L698.6 145.2L699.6 151.3L699.3 157.5L697.7 163.3L695 167.9L691.9 170.8L687.9 172L682.6 172L676.8 170.5L671.2 167.6L666.5 163.8L663.3 159.8L661.4 155L660.4 148.9L660.7 142.7L662.3 136.9L665 132.3L668.1 129.4L672.1 128.2L677.4 128.2L683.2 129.7L688.8 132.6L693.5 136.4Z" fill="#4a9fd6" opacity="0.42"/><path d="M694.5 141.7L696.3 146L697.2 151.3L697 156.8L695.6 161.9L693.3 166L690.6 168.5L687.1 169.6L682.4 169.5L677.4 168.2L672.5 165.6L668.3 162.1L665.5 158.5L663.7 154.2L662.8 148.9L663 143.4L664.4 138.3L666.7 134.2L669.4 131.7L672.9 130.6L677.6 130.7L682.6 132L687.5 134.6L691.7 138.1Z" fill="url(#ablob)" stroke="#2a78b8" stroke-opacity="0.5" stroke-width="0.8" opacity="0.95"/>
<path d="M719.6 98.6L720.3 103.4L720.1 109.1L718.9 114.6L716.8 119.3L714.1 122.7L711.3 124.3L708 124.3L703.9 122.7L699.8 119.7L696 115.6L693 110.7L691.2 106.2L690.5 101.4L690.7 95.7L691.9 90.2L694 85.5L696.7 82.1L699.5 80.5L702.8 80.5L706.9 82.1L711 85.1L714.8 89.2L717.8 94.1Z" fill="#4a9fd6" opacity="0.42"/><path d="M717.3 99.2L718 103.5L717.9 108.5L716.9 113.4L715.2 117.5L713 120.4L710.6 121.9L707.9 121.8L704.4 120.4L700.9 117.7L697.7 113.9L695.1 109.6L693.5 105.6L692.8 101.3L692.9 96.3L693.9 91.4L695.6 87.3L697.8 84.4L700.2 82.9L702.9 83L706.4 84.4L709.9 87.1L713.1 90.9L715.7 95.2Z" fill="url(#ablob)" stroke="#2a78b8" stroke-opacity="0.5" stroke-width="0.8" opacity="0.95"/>
<path d="M735 109.8L736.7 113.3L737.9 117.9L738 122.6L737.2 127.1L735.5 130.8L733.3 133.2L730.3 134.4L726.3 134.7L721.8 134L717.4 132.2L713.5 129.6L710.8 126.8L709.1 123.3L707.9 118.7L707.8 114L708.6 109.5L710.3 105.8L712.5 103.4L715.5 102.2L719.5 101.9L724 102.6L728.4 104.4L732.3 107Z" fill="#4a9fd6" opacity="0.42"/><path d="M733 111.2L734.5 114.2L735.5 118.1L735.7 122.2L735.1 126L733.7 129.1L731.9 131.1L729.4 132.2L726 132.4L722.2 131.7L718.4 130.1L715.1 127.8L712.8 125.4L711.3 122.4L710.3 118.5L710.1 114.4L710.7 110.6L712.1 107.5L713.9 105.5L716.4 104.4L719.8 104.2L723.6 104.9L727.4 106.5L730.7 108.8Z" fill="url(#ablob2)" stroke="#2a78b8" stroke-opacity="0.5" stroke-width="0.8" opacity="0.95"/>
<path d="M748.6 123.5L750.5 127.2L751.6 132L751.8 137.1L750.9 141.9L749 145.9L746.7 148.4L743.5 149.7L739.1 150.1L734.3 149.4L729.6 147.5L725.5 144.7L722.6 141.7L720.7 138L719.6 133.2L719.4 128.1L720.3 123.3L722.2 119.3L724.5 116.8L727.7 115.5L732.1 115.1L736.9 115.8L741.6 117.7L745.7 120.5Z" fill="#4a9fd6" opacity="0.42"/><path d="M746.6 124.9L748.2 128.1L749.3 132.3L749.5 136.7L748.8 140.8L747.2 144.2L745.2 146.4L742.5 147.5L738.8 147.8L734.7 147L730.6 145.4L727.1 142.9L724.6 140.3L723 137.1L721.9 132.9L721.7 128.5L722.4 124.4L724 121L726 118.8L728.7 117.7L732.4 117.4L736.5 118.2L740.6 119.8L744.1 122.3Z" fill="url(#ablob2)" stroke="#2a78b8" stroke-opacity="0.5" stroke-width="0.8" opacity="0.95"/>
<path d="M762.3 137.1L764.3 141.1L765.5 146.2L765.7 151.6L764.7 156.7L762.6 160.9L760.1 163.6L756.7 165.1L752 165.5L746.9 164.7L741.9 162.8L737.5 159.9L734.5 156.7L732.5 152.7L731.3 147.6L731.1 142.2L732.1 137.1L734.2 132.9L736.7 130.2L740.1 128.7L744.8 128.3L749.9 129.1L754.9 131L759.3 133.9Z" fill="#4a9fd6" opacity="0.42"/><path d="M760.3 138.5L762.1 142L763.2 146.5L763.3 151.2L762.5 155.6L760.8 159.2L758.7 161.6L755.7 162.8L751.7 163.1L747.3 162.4L742.9 160.6L739.1 158.1L736.5 155.3L734.7 151.8L733.6 147.3L733.5 142.6L734.3 138.2L736 134.6L738.1 132.2L741.1 131L745.1 130.7L749.5 131.4L753.9 133.2L757.7 135.7Z" fill="url(#ablob2)" stroke="#2a78b8" stroke-opacity="0.5" stroke-width="0.8" opacity="0.95"/>
<path d="M775 149.9L777.1 154.1L778.5 159.4L778.8 165L777.9 170.3L776 174.6L773.5 177.4L770 178.8L765.3 179.1L760 178.2L754.9 176L750.3 172.9L747.2 169.5L745.1 165.3L743.7 160L743.4 154.4L744.3 149.1L746.2 144.8L748.7 142L752.2 140.6L756.9 140.3L762.2 141.2L767.3 143.4L771.9 146.5Z" fill="#4a9fd6" opacity="0.42"/><path d="M773 151.3L774.9 155L776.2 159.7L776.5 164.6L775.8 169.2L774.1 172.9L772 175.3L769.1 176.5L765 176.7L760.4 175.8L755.9 173.8L752 171.1L749.2 168.1L747.3 164.4L746 159.7L745.7 154.8L746.4 150.2L748.1 146.5L750.2 144.1L753.1 142.9L757.2 142.7L761.8 143.6L766.3 145.6L770.2 148.3Z" fill="url(#ablob2)" stroke="#2a78b8" stroke-opacity="0.5" stroke-width="0.8" opacity="0.95"/>
<path d="M482.7 252L484.5 256.3L485.4 261.7L485.2 267.3L483.8 272.5L481.5 276.6L478.8 279.2L475.2 280.3L470.5 280.2L465.3 278.8L460.4 276.2L456.1 272.7L453.3 269L451.5 264.7L450.6 259.3L450.8 253.7L452.2 248.5L454.5 244.4L457.2 241.8L460.8 240.7L465.5 240.8L470.7 242.2L475.6 244.8L479.9 248.3Z" fill="#4a9fd6" opacity="0.42"/><path d="M480.6 253.2L482.2 257L483 261.8L482.9 266.7L481.8 271.2L479.8 274.8L477.5 277L474.5 277.9L470.4 277.8L465.9 276.5L461.6 274.1L457.9 271L455.4 267.8L453.8 264L453 259.2L453.1 254.3L454.2 249.8L456.2 246.2L458.5 244L461.5 243.1L465.6 243.2L470.1 244.5L474.4 246.9L478.1 250Z" fill="url(#ablob)" stroke="#2a78b8" stroke-opacity="0.5" stroke-width="0.8" opacity="0.95"/>
<path d="M493.9 267.9L495.7 272.2L496.6 277.6L496.4 283.2L495 288.4L492.7 292.5L490 295.1L486.4 296.2L481.7 296.1L476.5 294.7L471.6 292.1L467.3 288.6L464.5 284.9L462.7 280.6L461.8 275.2L462 269.6L463.4 264.4L465.7 260.3L468.4 257.7L472 256.6L476.7 256.7L481.9 258.1L486.8 260.7L491.1 264.2Z" fill="#4a9fd6" opacity="0.42"/><path d="M491.8 269.1L493.4 272.9L494.2 277.7L494.1 282.6L493 287.1L491 290.7L488.7 292.9L485.7 293.8L481.6 293.7L477.1 292.4L472.8 290L469.1 286.9L466.6 283.7L465 279.9L464.2 275.1L464.3 270.2L465.4 265.7L467.4 262.1L469.7 259.9L472.7 259L476.8 259.1L481.3 260.4L485.6 262.8L489.3 265.9Z" fill="url(#ablob)" stroke="#2a78b8" stroke-opacity="0.5" stroke-width="0.8" opacity="0.95"/>
<path d="M560.7 258.4L562.5 262.7L563.4 268.1L563.2 273.7L561.8 278.9L559.5 283L556.8 285.6L553.2 286.7L548.5 286.6L543.3 285.2L538.4 282.6L534.1 279.1L531.3 275.4L529.5 271.1L528.6 265.7L528.8 260.1L530.2 254.9L532.5 250.8L535.2 248.2L538.8 247.1L543.5 247.2L548.7 248.6L553.6 251.2L557.9 254.7Z" fill="#4a9fd6" opacity="0.42"/><path d="M558.6 259.6L560.2 263.4L561 268.2L560.9 273.1L559.8 277.6L557.8 281.2L555.5 283.4L552.5 284.3L548.4 284.2L543.9 282.9L539.6 280.5L535.9 277.4L533.4 274.2L531.8 270.4L531 265.6L531.1 260.7L532.2 256.2L534.2 252.6L536.5 250.4L539.5 249.5L543.6 249.6L548.1 250.9L552.4 253.3L556.1 256.4Z" fill="url(#ablob)" stroke="#2a78b8" stroke-opacity="0.5" stroke-width="0.8" opacity="0.95"/>
<path d="M570.3 275.9L572.1 280.2L573 285.6L572.8 291.2L571.4 296.4L569.1 300.5L566.4 303.1L562.8 304.2L558.1 304.1L552.9 302.7L548 300.1L543.7 296.6L540.9 292.9L539.1 288.6L538.2 283.2L538.4 277.6L539.8 272.4L542.1 268.3L544.8 265.7L548.4 264.6L553.1 264.7L558.3 266.1L563.2 268.7L567.5 272.2Z" fill="#4a9fd6" opacity="0.42"/><path d="M568.2 277.1L569.8 280.9L570.6 285.7L570.5 290.6L569.4 295.1L567.4 298.7L565.1 300.9L562.1 301.8L558 301.7L553.5 300.4L549.2 298L545.5 294.9L543 291.7L541.4 287.9L540.6 283.1L540.7 278.2L541.8 273.7L543.8 270.1L546.1 267.9L549.1 267L553.2 267.1L557.7 268.4L562 270.8L565.7 273.9Z" fill="url(#ablob)" stroke="#2a78b8" stroke-opacity="0.5" stroke-width="0.8" opacity="0.95"/>
<path d="M628.7 254.6L630.5 259.2L631.5 264.9L631.2 270.8L629.8 276.3L627.3 280.7L624.4 283.4L620.6 284.5L615.5 284.5L610.1 283.1L604.8 280.3L600.3 276.6L597.3 272.8L595.5 268.2L594.5 262.5L594.8 256.6L596.2 251.1L598.7 246.7L601.6 244L605.4 242.9L610.5 242.9L615.9 244.3L621.2 247.1L625.7 250.8Z" fill="#4a9fd6" opacity="0.42"/><path d="M626.6 255.9L628.2 259.9L629.1 265L628.9 270.2L627.7 275L625.6 278.8L623.1 281.2L619.8 282.2L615.4 282.1L610.6 280.7L606 278.3L602.1 275L599.4 271.5L597.8 267.5L596.9 262.4L597.1 257.2L598.3 252.4L600.4 248.6L602.9 246.2L606.2 245.2L610.6 245.3L615.4 246.7L620 249.1L623.9 252.4Z" fill="url(#ablob)" stroke="#2a78b8" stroke-opacity="0.5" stroke-width="0.8" opacity="0.95"/>
<path d="M641.4 270.5L643.2 275.1L644.2 280.8L643.9 286.7L642.5 292.2L640 296.6L637.1 299.3L633.3 300.4L628.2 300.4L622.8 299L617.5 296.2L613 292.5L610 288.7L608.2 284.1L607.2 278.4L607.5 272.5L608.9 267L611.4 262.6L614.3 259.9L618.1 258.8L623.2 258.8L628.6 260.2L633.9 263L638.4 266.7Z" fill="#4a9fd6" opacity="0.42"/><path d="M639.3 271.8L640.9 275.8L641.8 280.9L641.6 286.1L640.4 290.9L638.3 294.7L635.8 297.1L632.5 298.1L628.1 298L623.3 296.6L618.7 294.2L614.8 290.9L612.1 287.4L610.5 283.4L609.6 278.3L609.8 273.1L611 268.3L613.1 264.5L615.6 262.1L618.9 261.1L623.3 261.2L628.1 262.6L632.7 265L636.6 268.3Z" fill="url(#ablob)" stroke="#2a78b8" stroke-opacity="0.5" stroke-width="0.8" opacity="0.95"/>
<path d="M651.5 290.2L653.3 294.5L654.2 299.9L654 305.5L652.6 310.7L650.3 314.8L647.6 317.4L644 318.5L639.3 318.4L634.1 317L629.2 314.4L624.9 310.9L622.1 307.2L620.3 302.9L619.4 297.5L619.6 291.9L621 286.7L623.3 282.6L626 280L629.6 278.9L634.3 279L639.5 280.4L644.4 283L648.7 286.5Z" fill="#4a9fd6" opacity="0.42"/><path d="M649.4 291.4L651 295.2L651.8 300L651.7 304.9L650.6 309.4L648.6 313L646.3 315.2L643.3 316.1L639.2 316L634.7 314.7L630.4 312.3L626.7 309.2L624.2 306L622.6 302.2L621.8 297.4L621.9 292.5L623 288L625 284.4L627.3 282.2L630.3 281.3L634.4 281.4L638.9 282.7L643.2 285.1L646.9 288.2Z" fill="url(#ablob)" stroke="#2a78b8" stroke-opacity="0.5" stroke-width="0.8" opacity="0.95"/>
<path d="M709.3 266.8L711.2 271.5L712.2 277.6L711.9 283.8L710.3 289.6L707.6 294.2L704.5 297.1L700.5 298.3L695.2 298.3L689.4 296.8L683.8 293.9L679.1 290.1L675.9 286L674 281.3L673 275.2L673.3 269L674.9 263.2L677.6 258.6L680.7 255.7L684.7 254.5L690 254.5L695.8 256L701.4 258.9L706.1 262.7Z" fill="#4a9fd6" opacity="0.42"/><path d="M707.1 268L708.9 272.3L709.8 277.6L709.6 283.1L708.2 288.2L705.9 292.3L703.2 294.8L699.7 295.9L695 295.8L690 294.5L685.1 291.9L680.9 288.4L678.1 284.8L676.3 280.5L675.4 275.2L675.6 269.7L677 264.6L679.3 260.5L682 258L685.5 256.9L690.2 257L695.2 258.3L700.1 260.9L704.3 264.4Z" fill="url(#ablob)" stroke="#2a78b8" stroke-opacity="0.5" stroke-width="0.8" opacity="0.95"/>
<path d="M723.7 282.8L725.6 287.5L726.6 293.6L726.3 299.8L724.7 305.6L722 310.2L718.9 313.1L714.9 314.3L709.6 314.3L703.8 312.8L698.2 309.9L693.5 306.1L690.3 302L688.4 297.3L687.4 291.2L687.7 285L689.3 279.2L692 274.6L695.1 271.7L699.1 270.5L704.4 270.5L710.2 272L715.8 274.9L720.5 278.7Z" fill="#4a9fd6" opacity="0.42"/><path d="M721.5 284L723.3 288.3L724.2 293.6L724 299.1L722.6 304.2L720.3 308.3L717.6 310.8L714.1 311.9L709.4 311.8L704.4 310.5L699.5 307.9L695.3 304.4L692.5 300.8L690.7 296.5L689.8 291.2L690 285.7L691.4 280.6L693.7 276.5L696.4 274L699.9 272.9L704.6 273L709.6 274.3L714.5 276.9L718.7 280.4Z" fill="url(#ablob)" stroke="#2a78b8" stroke-opacity="0.5" stroke-width="0.8" opacity="0.95"/>
<path d="M663 218.9L664.9 222.6L666 227.4L666.2 232.5L665.3 237.3L663.4 241.3L661.1 243.8L657.9 245.1L653.5 245.5L648.7 244.8L644 242.9L639.9 240.1L637 237.1L635.1 233.4L634 228.6L633.8 223.5L634.7 218.7L636.6 214.7L638.9 212.2L642.1 210.9L646.5 210.5L651.3 211.2L656 213.1L660.1 215.9Z" fill="#4a9fd6" opacity="0.42"/><path d="M661 220.3L662.6 223.5L663.7 227.7L663.9 232.1L663.2 236.2L661.6 239.6L659.6 241.8L656.9 242.9L653.2 243.2L649.1 242.4L645 240.8L641.5 238.3L639 235.7L637.4 232.5L636.3 228.3L636.1 223.9L636.8 219.8L638.4 216.4L640.4 214.2L643.1 213.1L646.8 212.8L650.9 213.6L655 215.2L658.5 217.7Z" fill="url(#ablob)" stroke="#2a78b8" stroke-opacity="0.5" stroke-width="0.8" opacity="0.95"/>
<path d="M771.8 359L773.5 362.6L774.4 367.3L774.3 372.2L773.1 377L770.9 381L768.3 383.7L764.9 385.2L760.4 385.8L755.5 385.4L750.8 383.8L746.7 381.4L744 378.6L742.3 375L741.4 370.3L741.5 365.4L742.7 360.6L744.9 356.6L747.5 353.9L750.9 352.4L755.4 351.8L760.3 352.2L765 353.8L769.1 356.2Z" fill="#4a9fd6" opacity="0.42"/><path d="M769.8 360.4L771.3 363.5L772.1 367.5L772 371.8L770.9 375.9L769.1 379.4L766.9 381.6L764 382.9L760.1 383.5L755.9 383.1L751.9 381.7L748.4 379.6L746 377.2L744.5 374.1L743.7 370.1L743.8 365.8L744.9 361.7L746.7 358.2L748.9 356L751.8 354.7L755.7 354.1L759.9 354.5L763.9 355.9L767.4 358Z" fill="url(#ablob2)" stroke="#2a78b8" stroke-opacity="0.5" stroke-width="0.8" opacity="0.95"/>
<path d="M758.9 344.4L760.5 347.7L761.5 352L761.5 356.6L760.6 360.9L758.8 364.5L756.6 366.8L753.6 368.1L749.6 368.6L745.2 368L741 366.4L737.3 364L734.7 361.4L733.1 358.1L732.1 353.8L732.1 349.2L733 344.9L734.8 341.3L737 339L740 337.7L744 337.2L748.4 337.8L752.6 339.4L756.3 341.8Z" fill="#4a9fd6" opacity="0.42"/><path d="M756.9 345.8L758.3 348.7L759.1 352.3L759.2 356.2L758.5 359.8L757 362.9L755.2 364.8L752.7 365.9L749.3 366.2L745.6 365.7L742 364.3L738.9 362.2L736.7 360L735.3 357.1L734.5 353.5L734.4 349.6L735.1 346L736.6 342.9L738.4 341L740.9 339.9L744.3 339.6L748 340.1L751.6 341.5L754.7 343.6Z" fill="url(#ablob2)" stroke="#2a78b8" stroke-opacity="0.5" stroke-width="0.8" opacity="0.95"/>
<path d="M571.2 168.2L570.5 170.6L567.5 173.8L562.6 177L556.3 180.1L549.2 182.5L542.9 184.1L536.3 184.8L528.9 184.9L521.9 184.2L516.2 182.8L512.3 180.9L510.8 178.8L511.5 176.4L514.5 173.2L519.4 170L525.7 166.9L532.8 164.5L539.1 162.9L545.7 162.2L553.1 162.1L560.1 162.8L565.8 164.2L569.7 166.1Z" fill="#4a9fd6" opacity="0.42"/><path d="M568.6 168.6L567.8 170.6L565.1 173.1L560.5 175.8L554.7 178.3L548.3 180.4L542.5 181.8L536.5 182.5L529.8 182.7L523.4 182.3L518.3 181.4L514.8 179.9L513.4 178.4L514.2 176.4L516.9 173.9L521.5 171.2L527.3 168.7L533.7 166.6L539.5 165.2L545.5 164.5L552.2 164.3L558.6 164.7L563.7 165.6L567.2 167.1Z" fill="url(#ablob)" stroke="#2a78b8" stroke-opacity="0.5" stroke-width="0.8" opacity="0.95"/>
<path d="M525.3 244L524.6 246.8L522 250.2L517.6 253.5L512 256.5L505.7 258.8L500 260.1L494.2 260.5L487.5 260L481.3 258.7L476.2 256.6L472.7 254.1L471.3 251.6L472 248.8L474.6 245.4L479 242.1L484.6 239.1L490.9 236.8L496.6 235.5L502.4 235.1L509.1 235.6L515.3 236.9L520.4 239L523.9 241.5Z" fill="#4a9fd6" opacity="0.42"/><path d="M522.7 244.4L522.1 246.6L519.6 249.4L515.7 252.2L510.5 254.7L504.9 256.7L499.7 257.8L494.4 258.1L488.4 257.8L482.8 256.8L478.2 255.2L475.1 253.2L473.9 251.2L474.5 249L477 246.2L480.9 243.4L486.1 240.9L491.7 238.9L496.9 237.8L502.2 237.5L508.2 237.8L513.8 238.8L518.4 240.4L521.5 242.4Z" fill="url(#ablob)" stroke="#2a78b8" stroke-opacity="0.5" stroke-width="0.8" opacity="0.95"/>
<g fill="url(#asm)">
<ellipse cx="291.7" cy="177.2" rx="8" ry="8.4" opacity="0.9"/>
<ellipse cx="430.8" cy="183.6" rx="8" ry="8.4" opacity="0.9"/>
<ellipse cx="509.4" cy="188.3" rx="8" ry="8.4" opacity="0.9"/>
<ellipse cx="587.5" cy="194.7" rx="8" ry="8.4" opacity="0.9"/>
<ellipse cx="665.6" cy="201" rx="8" ry="8.4" opacity="0.9"/>
<ellipse cx="758" cy="213.8" rx="8" ry="8.4" opacity="0.9"/>
<ellipse cx="742" cy="208" rx="7" ry="7.4" opacity="0.9"/>
<ellipse cx="448.9" cy="193.1" rx="6" ry="6.3" opacity="0.9"/>
<ellipse cx="468" cy="202.7" rx="7" ry="7.4" opacity="0.9"/>
<ellipse cx="538" cy="194.7" rx="7" ry="7.4" opacity="0.9"/>
<ellipse cx="600.2" cy="186.8" rx="7" ry="7.4" opacity="0.9"/>
<ellipse cx="609.7" cy="201" rx="7" ry="7.4" opacity="0.9"/>
<ellipse cx="675" cy="194.7" rx="7" ry="7.4" opacity="0.9"/>
<ellipse cx="691" cy="204.3" rx="7" ry="7.4" opacity="0.9"/>
<ellipse cx="243.9" cy="313.1" rx="8" ry="8.4" opacity="0.9"/>
<ellipse cx="322" cy="319.4" rx="8" ry="8.4" opacity="0.9"/>
<ellipse cx="399.6" cy="211.1" rx="7" ry="7.4" opacity="0.9"/>
<ellipse cx="477.6" cy="215.9" rx="8" ry="8.4" opacity="0.9"/>
<ellipse cx="466.4" cy="203.2" rx="6" ry="6.3" opacity="0.9"/>
<ellipse cx="549.2" cy="212.7" rx="8" ry="8.4" opacity="0.9"/>
<ellipse cx="560.4" cy="219.1" rx="7" ry="7.4" opacity="0.9"/>
<ellipse cx="622.5" cy="214.3" rx="8" ry="8.4" opacity="0.9"/>
<ellipse cx="609.7" cy="204.8" rx="6" ry="6.3" opacity="0.9"/>
<ellipse cx="429.8" cy="316.2" rx="8" ry="8.4" opacity="0.9"/>
<ellipse cx="509.4" cy="321" rx="8" ry="8.4" opacity="0.9"/>
<ellipse cx="517.4" cy="337" rx="8" ry="8.4" opacity="0.9"/>
<ellipse cx="527" cy="349.7" rx="8" ry="8.4" opacity="0.9"/>
<ellipse cx="585.9" cy="329" rx="8" ry="8.4" opacity="0.9"/>
<ellipse cx="601.8" cy="356" rx="8" ry="8.4" opacity="0.9"/>
<ellipse cx="662.4" cy="333.8" rx="8" ry="8.4" opacity="0.9"/>
<ellipse cx="679.9" cy="362.4" rx="8" ry="8.4" opacity="0.9"/>
<ellipse cx="441" cy="330" rx="7" ry="7.4" opacity="0.9"/>
<ellipse cx="447.3" cy="343.3" rx="7" ry="7.4" opacity="0.9"/>
<ellipse cx="399.6" cy="329" rx="6" ry="6.3" opacity="0.9"/>
<ellipse cx="476.6" cy="335.4" rx="5" ry="5.2" opacity="0.9"/>
<ellipse cx="544.5" cy="326.8" rx="6" ry="6.3" opacity="0.9"/>
<ellipse cx="555.6" cy="339.5" rx="7" ry="7.4" opacity="0.9"/>
<ellipse cx="536.5" cy="314.6" rx="5" ry="5.2" opacity="0.9"/>
<ellipse cx="613" cy="319.4" rx="6" ry="6.3" opacity="0.9"/>
<ellipse cx="622.5" cy="330.6" rx="7" ry="7.4" opacity="0.9"/>
<ellipse cx="632" cy="343.3" rx="7" ry="7.4" opacity="0.9"/>
<ellipse cx="544.6" cy="211.1" rx="6" ry="6.3" opacity="0.9"/>
<ellipse cx="554.1" cy="225.5" rx="6" ry="6.3" opacity="0.9"/>
<ellipse cx="614.6" cy="208" rx="6" ry="6.3" opacity="0.9"/>
<ellipse cx="624.2" cy="215.9" rx="7" ry="7.4" opacity="0.9"/>
<ellipse cx="633.7" cy="230.3" rx="7" ry="7.4" opacity="0.9"/>
<ellipse cx="665.6" cy="204.8" rx="6" ry="6.3" opacity="0.9"/>
<ellipse cx="681.5" cy="212.7" rx="7" ry="7.4" opacity="0.9"/>
<ellipse cx="697.4" cy="222.3" rx="7" ry="7.4" opacity="0.9"/>
<ellipse cx="708.6" cy="233.4" rx="7" ry="7.4" opacity="0.9"/>
<ellipse cx="611.4" cy="319.4" rx="6" ry="6.3" opacity="0.9"/>
<ellipse cx="659.2" cy="294" rx="6" ry="6.3" opacity="0.9"/>
<ellipse cx="686.3" cy="322.6" rx="6" ry="6.3" opacity="0.9"/>
<ellipse cx="697.4" cy="335.4" rx="7" ry="7.4" opacity="0.9"/>
<ellipse cx="554.1" cy="338.5" rx="6" ry="6.3" opacity="0.9"/>
<ellipse cx="633.7" cy="344.9" rx="7" ry="7.4" opacity="0.9"/>
<ellipse cx="710.2" cy="349.7" rx="7" ry="7.4" opacity="0.9"/>
<ellipse cx="163.4" cy="45" rx="4" ry="4.2" opacity="0.9"/>
<ellipse cx="177" cy="59.4" rx="4" ry="4.2" opacity="0.9"/>
<ellipse cx="189.8" cy="72.1" rx="4" ry="4.2" opacity="0.9"/>
<ellipse cx="204.8" cy="273.9" rx="5" ry="5.2" opacity="0.9"/>
<ellipse cx="216.2" cy="286.6" rx="5" ry="5.2" opacity="0.9"/>
<ellipse cx="603.5" cy="354.5" rx="8" ry="8.4" opacity="0.9"/>
<ellipse cx="586" cy="327.4" rx="8" ry="8.4" opacity="0.9"/>
<ellipse cx="262.1" cy="157.1" rx="8" ry="8.6"/>
<ellipse cx="341" cy="163.5" rx="8" ry="8.6"/>
<ellipse cx="414.8" cy="158" rx="8" ry="8.6"/>
<ellipse cx="419.3" cy="170.8" rx="8" ry="8.6"/>
<ellipse cx="488" cy="158" rx="8" ry="8.6"/>
<ellipse cx="491.3" cy="167" rx="8" ry="8.6"/>
<ellipse cx="498.3" cy="177.2" rx="8" ry="8.6"/>
<ellipse cx="555.6" cy="158" rx="8" ry="8.6"/>
<ellipse cx="565.2" cy="169.2" rx="8" ry="8.6"/>
<ellipse cx="574.7" cy="182" rx="8" ry="8.6"/>
<ellipse cx="628.9" cy="159.7" rx="8" ry="8.6"/>
<ellipse cx="641.7" cy="174" rx="8" ry="8.6"/>
<ellipse cx="652.8" cy="187.7" rx="8" ry="8.6"/>
<ellipse cx="702.8" cy="166" rx="8" ry="8.6"/>
<ellipse cx="717.2" cy="178.8" rx="8" ry="8.6"/>
<ellipse cx="728.3" cy="194" rx="8" ry="8.6"/>
<ellipse cx="742" cy="205.9" rx="8" ry="8.6"/>
<ellipse cx="291.7" cy="230.3" rx="8" ry="8.6"/>
<ellipse cx="261.5" cy="290.8" rx="8" ry="8.6"/>
<ellipse cx="341.1" cy="295.5" rx="8" ry="8.6"/>
<ellipse cx="360.2" cy="222.9" rx="8" ry="8.6"/>
<ellipse cx="369.7" cy="236.6" rx="8" ry="8.6"/>
<ellipse cx="446.7" cy="219.7" rx="8" ry="8.6"/>
<ellipse cx="440.3" cy="231.8" rx="8" ry="8.6"/>
<ellipse cx="448.9" cy="243" rx="8" ry="8.6"/>
<ellipse cx="513.6" cy="224.8" rx="8" ry="8.6"/>
<ellipse cx="516.8" cy="237.6" rx="8" ry="8.6"/>
<ellipse cx="526.3" cy="250.3" rx="8" ry="8.6"/>
<ellipse cx="584.9" cy="228.7" rx="8" ry="8.6"/>
<ellipse cx="593.8" cy="241.4" rx="8" ry="8.6"/>
<ellipse cx="603.4" cy="255.7" rx="8" ry="8.6"/>
<ellipse cx="656" cy="233.4" rx="8" ry="8.6"/>
<ellipse cx="668.8" cy="247.8" rx="8" ry="8.6"/>
<ellipse cx="679.9" cy="261.1" rx="8" ry="8.6"/>
<ellipse cx="729.9" cy="239.8" rx="8" ry="8.6"/>
<ellipse cx="745.2" cy="254.1" rx="8" ry="8.6"/>
<ellipse cx="757.3" cy="267.5" rx="8" ry="8.6"/>
<ellipse cx="558.9" cy="214.3" rx="8" ry="8.6"/>
<ellipse cx="640" cy="219" rx="8" ry="8.6"/>
<ellipse cx="703.8" cy="209.6" rx="8" ry="8.6"/>
<ellipse cx="716.5" cy="222.3" rx="8" ry="8.6"/>
<ellipse cx="412.9" cy="291.7" rx="8" ry="8.6"/>
<ellipse cx="418.7" cy="303.5" rx="8" ry="8.6"/>
<ellipse cx="489.4" cy="287.6" rx="8" ry="8.6"/>
<ellipse cx="488.7" cy="298" rx="8" ry="8.6"/>
<ellipse cx="496.7" cy="309.9" rx="8" ry="8.6"/>
<ellipse cx="564.5" cy="302.5" rx="8" ry="8.6"/>
<ellipse cx="574.7" cy="316.2" rx="8" ry="8.6"/>
<ellipse cx="640.1" cy="307.6" rx="8" ry="8.6"/>
<ellipse cx="651.2" cy="321" rx="8" ry="8.6"/>
<ellipse cx="716.5" cy="313.1" rx="8" ry="8.6"/>
<ellipse cx="727.7" cy="326.8" rx="8" ry="8.6"/>
<ellipse cx="593.9" cy="340.1" rx="8" ry="8.6"/>
<ellipse cx="671.9" cy="348.1" rx="8" ry="8.6"/>
<ellipse cx="740.4" cy="340.1" rx="8" ry="8.6"/>
<ellipse cx="196.2" cy="88" rx="8" ry="8.6"/>
<ellipse cx="208.9" cy="100.8" rx="8" ry="8.6"/>
<ellipse cx="218.5" cy="112" rx="8" ry="8.6"/>
</g>
<g fill="#9ccdf0" opacity="0.75">
<ellipse cx="734" cy="258.9" rx="5" ry="8" transform="rotate(-15 734 258.9)"/>
<ellipse cx="748.4" cy="273.2" rx="5" ry="8" transform="rotate(-15 748.4 273.2)"/>
<ellipse cx="761.1" cy="286" rx="5" ry="8" transform="rotate(-15 761.1 286)"/>
<ellipse cx="773.9" cy="298.7" rx="5" ry="8" transform="rotate(-15 773.9 298.7)"/>
<ellipse cx="759.5" cy="215.9" rx="5" ry="8" transform="rotate(-15 759.5 215.9)"/>
</g>
<g fill="url(#apink)">
<circle cx="262.6" cy="156.1" r="3.6"/>
<circle cx="341.5" cy="162.5" r="3.6"/>
<circle cx="415.3" cy="157" r="3.6"/>
<circle cx="419.8" cy="169.8" r="3.6"/>
<circle cx="488.5" cy="157" r="3.6"/>
<circle cx="491.8" cy="166" r="3.6"/>
<circle cx="498.8" cy="176.2" r="3.6"/>
<circle cx="556.1" cy="157" r="3.6"/>
<circle cx="565.7" cy="168.2" r="3.6"/>
<circle cx="575.2" cy="181" r="3.6"/>
<circle cx="629.4" cy="158.7" r="3.6"/>
<circle cx="642.2" cy="173" r="3.6"/>
<circle cx="653.3" cy="186.7" r="3.6"/>
<circle cx="703.3" cy="165" r="3.6"/>
<circle cx="717.7" cy="177.8" r="3.6"/>
<circle cx="728.8" cy="193" r="3.6"/>
<circle cx="742.5" cy="204.9" r="3.6"/>
<circle cx="292.2" cy="229.3" r="3.6"/>
<circle cx="262" cy="289.8" r="3.6"/>
<circle cx="341.6" cy="294.5" r="3.6"/>
<circle cx="360.7" cy="221.9" r="3.6"/>
<circle cx="370.2" cy="235.6" r="3.6"/>
<circle cx="447.2" cy="218.7" r="3.6"/>
<circle cx="440.8" cy="230.8" r="3.6"/>
<circle cx="449.4" cy="242" r="3.6"/>
<circle cx="514.1" cy="223.8" r="3.6"/>
<circle cx="517.3" cy="236.6" r="3.6"/>
<circle cx="526.8" cy="249.3" r="3.6"/>
<circle cx="585.4" cy="227.7" r="3.6"/>
<circle cx="594.3" cy="240.4" r="3.6"/>
<circle cx="603.9" cy="254.7" r="3.6"/>
<circle cx="656.5" cy="232.4" r="3.6"/>
<circle cx="669.3" cy="246.8" r="3.6"/>
<circle cx="680.4" cy="260.1" r="3.6"/>
<circle cx="730.4" cy="238.8" r="3.6"/>
<circle cx="745.7" cy="253.1" r="3.6"/>
<circle cx="757.8" cy="266.5" r="3.6"/>
<circle cx="559.4" cy="213.3" r="3.6"/>
<circle cx="640.5" cy="218" r="3.6"/>
<circle cx="704.3" cy="208.6" r="3.6"/>
<circle cx="717" cy="221.3" r="3.6"/>
<circle cx="413.4" cy="290.7" r="3.6"/>
<circle cx="419.2" cy="302.5" r="3.6"/>
<circle cx="489.9" cy="286.6" r="3.6"/>
<circle cx="489.2" cy="297" r="3.6"/>
<circle cx="497.2" cy="308.9" r="3.6"/>
<circle cx="565" cy="301.5" r="3.6"/>
<circle cx="575.2" cy="315.2" r="3.6"/>
<circle cx="640.6" cy="306.6" r="3.6"/>
<circle cx="651.7" cy="320" r="3.6"/>
<circle cx="717" cy="312.1" r="3.6"/>
<circle cx="728.2" cy="325.8" r="3.6"/>
<circle cx="594.4" cy="339.1" r="3.6"/>
<circle cx="672.4" cy="347.1" r="3.6"/>
<circle cx="740.9" cy="339.1" r="3.6"/>
<circle cx="196.7" cy="87" r="3.6"/>
<circle cx="209.4" cy="99.8" r="3.6"/>
<circle cx="219" cy="111" r="3.6"/>
</g>
<g fill="url(#apur)" opacity="0.85">
<circle cx="179.6" cy="78.5" r="3.4"/>
<circle cx="191.4" cy="93.4" r="3.4"/>
<circle cx="204.8" cy="105.5" r="3.4"/>
<circle cx="218.5" cy="119.9" r="3.4"/>
<circle cx="312.4" cy="140.6" r="3.4"/>
<circle cx="323.6" cy="154.9" r="3.4"/>
<circle cx="244.9" cy="148.5" r="3.4"/>
<circle cx="261.5" cy="207.5" r="3.4"/>
<circle cx="405.3" cy="134.2" r="3.4"/>
<circle cx="391.6" cy="147.6" r="3.4"/>
<circle cx="399.6" cy="161.3" r="3.4"/>
<circle cx="463.2" cy="141.2" r="3.4"/>
<circle cx="468" cy="154.3" r="3.4"/>
<circle cx="478.5" cy="167" r="3.4"/>
<circle cx="491.3" cy="202.7" r="3.4"/>
<circle cx="546" cy="159.7" r="3.4"/>
<circle cx="557.2" cy="174" r="3.4"/>
<circle cx="624" cy="166" r="3.4"/>
<circle cx="633.6" cy="178.8" r="3.4"/>
<circle cx="700.6" cy="171.8" r="3.4"/>
<circle cx="711.8" cy="184.5" r="3.4"/>
<circle cx="197.1" cy="272.6" r="3.4"/>
<circle cx="207.3" cy="285.4" r="3.4"/>
<circle cx="219.4" cy="299.4" r="3.4"/>
<circle cx="263" cy="208" r="3.4"/>
<circle cx="274.2" cy="221.7" r="3.4"/>
<circle cx="291.7" cy="281.2" r="3.4"/>
<circle cx="261.5" cy="340.1" r="3.4"/>
<circle cx="272.6" cy="355.4" r="3.4"/>
<circle cx="342" cy="214.3" r="3.4"/>
<circle cx="351.3" cy="228" r="3.4"/>
<circle cx="360.8" cy="274.8" r="3.4"/>
<circle cx="370.4" cy="287.6" r="3.4"/>
<circle cx="341" cy="346.5" r="3.4"/>
<circle cx="350" cy="360.8" r="3.4"/>
<circle cx="419.3" cy="220.7" r="3.4"/>
<circle cx="491.9" cy="203.8" r="3.4"/>
<circle cx="498.3" cy="227" r="3.4"/>
<circle cx="447.3" cy="269.4" r="3.4"/>
<circle cx="439.4" cy="281.2" r="3.4"/>
<circle cx="448.9" cy="294" r="3.4"/>
<circle cx="515.8" cy="274.2" r="3.4"/>
<circle cx="518" cy="286.6" r="3.4"/>
<circle cx="526.9" cy="300.3" r="3.4"/>
<circle cx="574.7" cy="231.8" r="3.4"/>
<circle cx="561" cy="266.2" r="3.4"/>
<circle cx="584.9" cy="278" r="3.4"/>
<circle cx="593.8" cy="292.4" r="3.4"/>
<circle cx="604" cy="305.7" r="3.4"/>
<circle cx="610.4" cy="329.9" r="3.4"/>
<circle cx="493.5" cy="335.4" r="3.4"/>
<circle cx="491.3" cy="347.1" r="3.4"/>
<circle cx="418" cy="340.1" r="3.4"/>
<circle cx="418.7" cy="355.1" r="3.4"/>
<circle cx="428.2" cy="367.2" r="3.4"/>
<circle cx="496.7" cy="360.2" r="3.4"/>
<circle cx="565.2" cy="353.5" r="3.4"/>
<circle cx="574.7" cy="366.2" r="3.4"/>
<circle cx="562" cy="338.5" r="3.4"/>
<circle cx="641" cy="270.1" r="3.4"/>
<circle cx="657.6" cy="284.4" r="3.4"/>
<circle cx="668.8" cy="298.1" r="3.4"/>
<circle cx="679.9" cy="311.5" r="3.4"/>
<circle cx="687.9" cy="336.3" r="3.4"/>
<circle cx="651.2" cy="238.9" r="3.4"/>
<circle cx="704.7" cy="262.1" r="3.4"/>
<circle cx="718.1" cy="275.8" r="3.4"/>
<circle cx="730.9" cy="290.1" r="3.4"/>
<circle cx="744.6" cy="303.5" r="3.4"/>
<circle cx="757.9" cy="317.8" r="3.4"/>
<circle cx="729.3" cy="244.6" r="3.4"/>
<circle cx="640.1" cy="357.6" r="3.4"/>
<circle cx="651.2" cy="372" r="3.4"/>
<circle cx="700.6" cy="349.7" r="3.4"/>
<circle cx="714.9" cy="364" r="3.4"/>
<circle cx="727.7" cy="377.7" r="3.4"/>
<circle cx="541.4" cy="325.8" r="3.4"/>
</g>
<circle cx="274.8" cy="171.8" r="6" fill="#1a4a90"/><circle cx="274.8" cy="171.8" r="3.8" fill="url(#ared)"/>
<circle cx="351.3" cy="177.8" r="6" fill="#1a4a90"/><circle cx="351.3" cy="177.8" r="3.8" fill="url(#ared)"/>
<circle cx="273.6" cy="303.5" r="6" fill="#1a4a90"/><circle cx="273.6" cy="303.5" r="3.8" fill="url(#ared)"/>
<circle cx="350.6" cy="310.8" r="6" fill="#1a4a90"/><circle cx="350.6" cy="310.8" r="3.8" fill="url(#ared)"/>
<path d="M172.3 29.6A7 5.5 0 0 0 186.3 29.6Q179.3 33.1 172.3 29.6Z" fill="#1f70c4"/><circle cx="179.3" cy="27.6" r="3.6" fill="url(#ared)"/>
<path d="M184.4 42.3A7 5.5 0 0 0 198.4 42.3Q191.4 45.8 184.4 42.3Z" fill="#1f70c4"/><circle cx="191.4" cy="40.3" r="3.6" fill="url(#ared)"/>
<path d="M198.7 56.7A7 5.5 0 0 0 212.7 56.7Q205.7 60.2 198.7 56.7Z" fill="#1f70c4"/><circle cx="205.7" cy="54.7" r="3.6" fill="url(#ared)"/>
<path d="M211.5 70.4A7 5.5 0 0 0 225.5 70.4Q218.5 73.9 211.5 70.4Z" fill="#1f70c4"/><circle cx="218.5" cy="68.4" r="3.6" fill="url(#ared)"/>
<path d="M225.2 85.3A7 5.5 0 0 0 239.2 85.3Q232.2 88.8 225.2 85.3Z" fill="#1f70c4"/><circle cx="232.2" cy="83.3" r="3.6" fill="url(#ared)"/>
<path d="M237.9 99A7 5.5 0 0 0 251.9 99Q244.9 102.5 237.9 99Z" fill="#1f70c4"/><circle cx="244.9" cy="97" r="3.6" fill="url(#ared)"/>
<path d="M249.7 35.3A7 5.5 0 0 0 263.7 35.3Q256.7 38.8 249.7 35.3Z" fill="#1f70c4"/><circle cx="256.7" cy="33.3" r="3.6" fill="url(#ared)"/>
<path d="M261.5 48.7A7 5.5 0 0 0 275.5 48.7Q268.5 52.2 261.5 48.7Z" fill="#1f70c4"/><circle cx="268.5" cy="46.7" r="3.6" fill="url(#ared)"/>
<path d="M272 61.5A7 5.5 0 0 0 286 61.5Q279 65 272 61.5Z" fill="#1f70c4"/><circle cx="279" cy="59.5" r="3.6" fill="url(#ared)"/>
<path d="M285.7 75.8A7 5.5 0 0 0 299.7 75.8Q292.7 79.3 285.7 75.8Z" fill="#1f70c4"/><circle cx="292.7" cy="73.8" r="3.6" fill="url(#ared)"/>
<path d="M304.8 90.8A7 5.5 0 0 0 318.8 90.8Q311.8 94.3 304.8 90.8Z" fill="#1f70c4"/><circle cx="311.8" cy="88.8" r="3.6" fill="url(#ared)"/>
<path d="M316.6 104.5A7 5.5 0 0 0 330.6 104.5Q323.6 108 316.6 104.5Z" fill="#1f70c4"/><circle cx="323.6" cy="102.5" r="3.6" fill="url(#ared)"/>
<path d="M327 41.4A7 5.5 0 0 0 341 41.4Q334 44.9 327 41.4Z" fill="#1f70c4"/><circle cx="334" cy="39.4" r="3.6" fill="url(#ared)"/>
<path d="M336.6 54.1A7 5.5 0 0 0 350.6 54.1Q343.6 57.6 336.6 54.1Z" fill="#1f70c4"/><circle cx="343.6" cy="52.1" r="3.6" fill="url(#ared)"/>
<path d="M343.6 67.2A7 5.5 0 0 0 357.6 67.2Q350.6 70.7 343.6 67.2Z" fill="#1f70c4"/><circle cx="350.6" cy="65.2" r="3.6" fill="url(#ared)"/>
<path d="M354.8 79A7 5.5 0 0 0 368.8 79Q361.8 82.5 354.8 79Z" fill="#1f70c4"/><circle cx="361.8" cy="77" r="3.6" fill="url(#ared)"/>
<path d="M385.7 97.1A7 5.5 0 0 0 399.7 97.1Q392.7 100.6 385.7 97.1Z" fill="#1f70c4"/><circle cx="392.7" cy="95.1" r="3.6" fill="url(#ared)"/>
<path d="M394 111A7 5.5 0 0 0 408 111Q401 114.5 394 111Z" fill="#1f70c4"/><circle cx="401" cy="109" r="3.6" fill="url(#ared)"/>
<path d="M405.3 48.1A7 5.5 0 0 0 419.3 48.1Q412.3 51.6 405.3 48.1Z" fill="#1f70c4"/><circle cx="412.3" cy="46.1" r="3.6" fill="url(#ared)"/>
<path d="M414.2 59.9A7 5.5 0 0 0 428.2 59.9Q421.2 63.4 414.2 59.9Z" fill="#1f70c4"/><circle cx="421.2" cy="57.9" r="3.6" fill="url(#ared)"/>
<path d="M415.8 71.6A7 5.5 0 0 0 429.8 71.6Q422.8 75.1 415.8 71.6Z" fill="#1f70c4"/><circle cx="422.8" cy="69.6" r="3.6" fill="url(#ared)"/>
<path d="M407.8 84.4A7 5.5 0 0 0 421.8 84.4Q414.8 87.9 407.8 84.4Z" fill="#1f70c4"/><circle cx="414.8" cy="82.4" r="3.6" fill="url(#ared)"/>
<path d="M484.3 53.5A7 5.5 0 0 0 498.3 53.5Q491.3 57 484.3 53.5Z" fill="#1f70c4"/><circle cx="491.3" cy="51.5" r="3.6" fill="url(#ared)"/>
<path d="M491.9 67.2A7 5.5 0 0 0 505.9 67.2Q498.9 70.7 491.9 67.2Z" fill="#1f70c4"/><circle cx="498.9" cy="65.2" r="3.6" fill="url(#ared)"/>
<path d="M482.4 77.4A7 5.5 0 0 0 496.4 77.4Q489.4 80.9 482.4 77.4Z" fill="#1f70c4"/><circle cx="489.4" cy="75.4" r="3.6" fill="url(#ared)"/>
<path d="M461.7 92.7A7 5.5 0 0 0 475.7 92.7Q468.7 96.2 461.7 92.7Z" fill="#1f70c4"/><circle cx="468.7" cy="90.7" r="3.6" fill="url(#ared)"/>
<path d="M462 104.5A7 5.5 0 0 0 476 104.5Q469 108 462 104.5Z" fill="#1f70c4"/><circle cx="469" cy="102.5" r="3.6" fill="url(#ared)"/>
<path d="M472.2 118.1A7 5.5 0 0 0 486.2 118.1Q479.2 121.6 472.2 118.1Z" fill="#1f70c4"/><circle cx="479.2" cy="116.1" r="3.6" fill="url(#ared)"/>
<path d="M561.3 60.3A7 5.5 0 0 0 575.3 60.3Q568.3 63.8 561.3 60.3Z" fill="#1f70c4"/><circle cx="568.3" cy="58.3" r="3.6" fill="url(#ared)"/>
<path d="M567.7 75.8A7 5.5 0 0 0 581.7 75.8Q574.7 79.3 567.7 75.8Z" fill="#1f70c4"/><circle cx="574.7" cy="73.8" r="3.6" fill="url(#ared)"/>
<path d="M533.6 86.9A7 5.5 0 0 0 547.6 86.9Q540.6 90.4 533.6 86.9Z" fill="#1f70c4"/><circle cx="540.6" cy="84.9" r="3.6" fill="url(#ared)"/>
<path d="M532.7 97.1A7 5.5 0 0 0 546.7 97.1Q539.7 100.6 532.7 97.1Z" fill="#1f70c4"/><circle cx="539.7" cy="95.1" r="3.6" fill="url(#ared)"/>
<path d="M540.3 110.8A7 5.5 0 0 0 554.3 110.8Q547.3 114.3 540.3 110.8Z" fill="#1f70c4"/><circle cx="547.3" cy="108.8" r="3.6" fill="url(#ared)"/>
<path d="M550.8 123.5A7 5.5 0 0 0 564.8 123.5Q557.8 127 550.8 123.5Z" fill="#1f70c4"/><circle cx="557.8" cy="121.5" r="3.6" fill="url(#ared)"/>
<path d="M637.9 67.2A7 5.5 0 0 0 651.9 67.2Q644.9 70.7 637.9 67.2Z" fill="#1f70c4"/><circle cx="644.9" cy="65.2" r="3.6" fill="url(#ared)"/>
<path d="M652.2 79.9A7 5.5 0 0 0 666.2 79.9Q659.2 83.4 652.2 79.9Z" fill="#1f70c4"/><circle cx="659.2" cy="77.9" r="3.6" fill="url(#ared)"/>
<path d="M598 88.2A7 5.5 0 0 0 612 88.2Q605 91.7 598 88.2Z" fill="#1f70c4"/><circle cx="605" cy="86.2" r="3.6" fill="url(#ared)"/>
<path d="M607 102.9A7 5.5 0 0 0 621 102.9Q614 106.4 607 102.9Z" fill="#1f70c4"/><circle cx="614" cy="100.9" r="3.6" fill="url(#ared)"/>
<path d="M617.1 115.9A7 5.5 0 0 0 631.1 115.9Q624.1 119.4 617.1 115.9Z" fill="#1f70c4"/><circle cx="624.1" cy="113.9" r="3.6" fill="url(#ared)"/>
<path d="M628 129.9A7 5.5 0 0 0 642 129.9Q635 133.4 628 129.9Z" fill="#1f70c4"/><circle cx="635" cy="127.9" r="3.6" fill="url(#ared)"/>
<path d="M670.4 94.9A7 5.5 0 0 0 684.4 94.9Q677.4 98.4 670.4 94.9Z" fill="#1f70c4"/><circle cx="677.4" cy="92.9" r="3.6" fill="url(#ared)"/>
<path d="M681.5 108.6A7 5.5 0 0 0 695.5 108.6Q688.5 112.1 681.5 108.6Z" fill="#1f70c4"/><circle cx="688.5" cy="106.6" r="3.6" fill="url(#ared)"/>
<path d="M693.6 122A7 5.5 0 0 0 707.6 122Q700.6 125.5 693.6 122Z" fill="#1f70c4"/><circle cx="700.6" cy="120" r="3.6" fill="url(#ared)"/>
<path d="M704.8 135.3A7 5.5 0 0 0 718.8 135.3Q711.8 138.8 704.8 135.3Z" fill="#1f70c4"/><circle cx="711.8" cy="133.3" r="3.6" fill="url(#ared)"/>
<ellipse cx="178" cy="295.6" rx="4.6" ry="3" fill="#d46858"/><path d="M170.4 296A7.6 10 0 0 1 185.6 296Q178 292.5 170.4 296Z" fill="url(#asm)"/>
<ellipse cx="190.4" cy="309.3" rx="4.6" ry="3" fill="#d46858"/><path d="M182.8 309.7A7.6 10 0 0 1 198 309.7Q190.4 306.2 182.8 309.7Z" fill="url(#asm)"/>
<ellipse cx="203.5" cy="322" rx="4.6" ry="3" fill="#d46858"/><path d="M195.9 322.4A7.6 10 0 0 1 211.1 322.4Q203.5 318.9 195.9 322.4Z" fill="url(#asm)"/>
<ellipse cx="216.2" cy="338" rx="4.6" ry="3" fill="#d46858"/><path d="M208.6 338.4A7.6 10 0 0 1 223.8 338.4Q216.2 334.9 208.6 338.4Z" fill="url(#asm)"/>
<ellipse cx="242.4" cy="365" rx="4.6" ry="3" fill="#d46858"/><path d="M234.8 365.4A7.6 10 0 0 1 250 365.4Q242.4 361.9 234.8 365.4Z" fill="url(#asm)"/>
<ellipse cx="309.2" cy="356.4" rx="4.6" ry="3" fill="#d46858"/><path d="M301.6 356.8A7.6 10 0 0 1 316.8 356.8Q309.2 353.3 301.6 356.8Z" fill="url(#asm)"/>
<ellipse cx="322" cy="368.2" rx="4.6" ry="3" fill="#d46858"/><path d="M314.4 368.6A7.6 10 0 0 1 329.6 368.6Q322 365.1 314.4 368.6Z" fill="url(#asm)"/>
<ellipse cx="390.4" cy="361.8" rx="4.6" ry="3" fill="#d46858"/><path d="M382.8 362.2A7.6 10 0 0 1 398 362.2Q390.4 358.7 382.8 362.2Z" fill="url(#asm)"/>
<ellipse cx="396.8" cy="376.2" rx="4.6" ry="3" fill="#d46858"/><path d="M389.2 376.6A7.6 10 0 0 1 404.4 376.6Q396.8 373.1 389.2 376.6Z" fill="url(#asm)"/>
<ellipse cx="412.3" cy="350.6" rx="4.6" ry="3" fill="#d46858"/><path d="M404.7 351A7.6 10 0 0 1 419.9 351Q412.3 347.5 404.7 351Z" fill="url(#asm)"/>
<ellipse cx="399.6" cy="376.2" rx="4.6" ry="3" fill="#d46858"/><path d="M392 376.6A7.6 10 0 0 1 407.2 376.6Q399.6 373.1 392 376.6Z" fill="url(#asm)"/>
<ellipse cx="466.4" cy="358" rx="4.6" ry="3" fill="#d46858"/><path d="M458.8 358.4A7.6 10 0 0 1 474 358.4Q466.4 354.9 458.8 358.4Z" fill="url(#asm)"/>
<ellipse cx="467.4" cy="370.8" rx="4.6" ry="3" fill="#d46858"/><path d="M459.8 371.2A7.6 10 0 0 1 475 371.2Q467.4 367.7 459.8 371.2Z" fill="url(#asm)"/>
<ellipse cx="477.6" cy="383.5" rx="4.6" ry="3" fill="#d46858"/><path d="M470 383.9A7.6 10 0 0 1 485.2 383.9Q477.6 380.4 470 383.9Z" fill="url(#asm)"/>
<ellipse cx="538" cy="351.6" rx="4.6" ry="3" fill="#d46858"/><path d="M530.4 352A7.6 10 0 0 1 545.6 352Q538 348.5 530.4 352Z" fill="url(#asm)"/>
<ellipse cx="538" cy="365" rx="4.6" ry="3" fill="#d46858"/><path d="M530.4 365.4A7.6 10 0 0 1 545.6 365.4Q538 361.9 530.4 365.4Z" fill="url(#asm)"/>
<ellipse cx="546" cy="377.1" rx="4.6" ry="3" fill="#d46858"/><path d="M538.4 377.5A7.6 10 0 0 1 553.6 377.5Q546 374 538.4 377.5Z" fill="url(#asm)"/>
<ellipse cx="555.6" cy="389.9" rx="4.6" ry="3" fill="#d46858"/><path d="M548 390.3A7.6 10 0 0 1 563.2 390.3Q555.6 386.8 548 390.3Z" fill="url(#asm)"/>
<ellipse cx="613" cy="368.2" rx="4.6" ry="3" fill="#d46858"/><path d="M605.4 368.6A7.6 10 0 0 1 620.6 368.6Q613 365.1 605.4 368.6Z" fill="url(#asm)"/>
<ellipse cx="621.8" cy="382.6" rx="4.6" ry="3" fill="#d46858"/><path d="M614.2 383A7.6 10 0 0 1 629.4 383Q621.8 379.5 614.2 383Z" fill="url(#asm)"/>
<ellipse cx="633.6" cy="395.3" rx="4.6" ry="3" fill="#d46858"/><path d="M626 395.7A7.6 10 0 0 1 641.2 395.7Q633.6 392.2 626 395.7Z" fill="url(#asm)"/>
<ellipse cx="687.2" cy="376.2" rx="4.6" ry="3" fill="#d46858"/><path d="M679.6 376.6A7.6 10 0 0 1 694.8 376.6Q687.2 373.1 679.6 376.6Z" fill="url(#asm)"/>
<ellipse cx="698.1" cy="388.9" rx="4.6" ry="3" fill="#d46858"/><path d="M690.5 389.3A7.6 10 0 0 1 705.7 389.3Q698.1 385.8 690.5 389.3Z" fill="url(#asm)"/>
<ellipse cx="710.2" cy="402.6" rx="4.6" ry="3" fill="#d46858"/><path d="M702.6 403A7.6 10 0 0 1 717.8 403Q710.2 399.5 702.6 403Z" fill="url(#asm)"/>
<path d="M363.6 90V357.5" stroke="#1f3c50" stroke-width="4.4" opacity="0.85"/>
<path d="M347.5 89.9C353.5 88.6 372.8 88.3 379 89.9C385.2 91.6 383 96 385 99.9C386.9 103.7 390.2 108.2 390.6 113.1C391 118.1 389.2 124.7 387.3 129.7C385.3 134.7 380.9 139.3 379 142.9C377.1 146.5 375.4 148.2 375.7 151.2C376 154.3 377.9 158.6 380.6 161.2C383.4 163.7 388.1 164.9 392.2 166.8C396.4 168.7 402.2 170.6 405.5 172.7C408.8 174.8 411.6 176.9 412.1 179.4C412.7 181.9 410.7 185.2 408.8 187.7C406.9 190.1 403.8 192.5 400.5 194.3C397.2 196.1 392.5 198.3 388.9 198.6C385.3 198.9 382 197.2 379 195.9C376 194.7 372.9 192.9 370.7 191C368.5 189 367.1 186.3 365.7 184.3C364.4 182.4 364.6 179.5 362.4 179.4C360.2 179.2 355.5 183.1 352.5 183.3C349.5 183.6 345 182.5 344.2 181C343.4 179.5 345.6 176.3 347.5 174.4C349.5 172.5 354.2 171.9 355.8 169.4C357.5 166.9 357.7 163.4 357.5 159.5C357.2 155.6 356.1 151.2 354.2 146.2C352.2 141.3 347.9 135.2 345.9 129.7C343.8 124.2 342.3 118.4 341.9 113.1C341.5 107.9 342.3 102.1 343.2 98.2C344.2 94.4 341.6 91.3 347.5 89.9Z" fill="none" stroke="#000" stroke-width="2.6" stroke-linecap="round" stroke-dasharray="0.1 4.9"/>
<path d="M362.4 298.6C365.2 296.4 371.3 293.8 375.7 292C380.1 290.2 384.5 287.7 388.9 288C393.3 288.3 398.4 291.4 402.2 293.6C405.9 295.9 410.4 298.8 411.5 301.3C412.6 303.7 410.9 306.8 408.8 308.6C406.7 310.3 402.2 310.5 398.9 311.9C395.6 313.2 391.6 314.6 388.9 316.8C386.3 319 384.2 321 383 325.1C381.8 329.3 382.3 337 381.6 341.7C381 346.4 380.5 350.6 379 353.3C377.4 355.9 375.7 356.9 372.4 357.6C369.1 358.3 362.7 358.3 359.1 357.6C355.5 356.9 353 355.9 350.8 353.3C348.6 350.6 347.5 346.1 345.9 341.7C344.2 337.3 342.3 330.9 340.9 326.8C339.5 322.6 336.8 318.9 337.6 316.8C338.4 314.8 343.1 315.3 345.9 314.5C348.6 313.7 351.9 313.4 354.2 311.9C356.4 310.3 357.7 307.4 359.1 305.2C360.5 303 359.7 300.8 362.4 298.6Z" fill="none" stroke="#000" stroke-width="2.6" stroke-linecap="round" stroke-dasharray="0.1 4.9"/>
<path d="M160 19.5L236.3 102L780.2 143.8L778.8 410.5L234.4 368.8L236.3 102M715.5 342L778.8 410.5" stroke="#d8d020" stroke-width="1.2" fill="none"/>
<path d="M363.4 360L405.6 623" stroke="#000" stroke-width="2.8" stroke-dasharray="9.4 5.9" fill="none"/>
<path d="M410.2 646L396.6 619.6L405.7 627L412.8 618.4Z" fill="#000"/>
<path d="M123 284.5V10M123 284.5L150 286M123 284.5L139 270" stroke="#000" stroke-width="1.8" fill="none"/>
<path d="M123 2.5L119.8 12.5H126.2ZM156 286.4L145.5 282.3L145.2 289.6ZM143.5 266L133.6 270L138.8 275.4Z" fill="#000"/>
<path d="M119.5 15.8H126.5" stroke="#000" stroke-width="1"/>
<g font-style="italic" font-size="22"><text x="130" y="13">z</text><text x="137" y="264">y</text><text x="143" y="304.5">x</text>
<text x="101" y="20">z</text><text x="101" y="289.5">z</text></g>
<g font-style="italic" font-size="9"><text x="111" y="24">1</text><text x="111.5" y="293">0</text></g>
<rect x="74" y="39.5" width="22" height="345" fill="url(#cba)"/>
<g font-size="20" text-anchor="end">
<text x="66.5" y="65.3">1.5</text>
<text x="66.5" y="144">1.0</text>
<text x="66.5" y="222.7">0.5</text>
<text x="66.5" y="301.4">0.0</text>
<text x="66.5" y="380.1">-0.5</text>
</g>
<path d="M74 58.8h4M74 137.5h4M74 216.2h4M74 294.9h4M74 373.6h4M74 373.6h2.5M74 357.9h2.5M74 342.1h2.5M74 326.4h2.5M74 310.6h2.5M74 294.9h2.5M74 279.2h2.5M74 263.4h2.5M74 247.7h2.5M74 231.9h2.5M74 216.2h2.5M74 200.5h2.5M74 184.7h2.5M74 169h2.5M74 153.2h2.5M74 137.5h2.5M74 121.8h2.5M74 106h2.5M74 90.3h2.5M74 74.5h2.5M74 58.8h2.5M74 43.1h2.5" stroke="#444" stroke-width="0.7"/>
<text transform="translate(23,316) rotate(-90)" font-size="23.2" textLength="209" lengthAdjust="spacingAndGlyphs">Charge density (e/Å<tspan dy="-8" font-size="15.5">3</tspan><tspan dy="8">)</tspan></text>
<text x="1.5" y="25.5" font-size="33" font-weight="bold">(a)</text>
</g>
<g id="pc" font-family='"Liberation Serif", serif' fill="#111">
<clipPath id="cc1"><rect x="103.4" y="874.6" width="677.0" height="170.19999999999993"/></clipPath>
<clipPath id="cc2"><rect x="103.4" y="1044.8" width="677.0" height="170.70000000000005"/></clipPath>
<path clip-path="url(#cc1)" d="M103.4 921.9C104.5 924.6 107.8 933.2 110.1 938.1C112.3 943 115.1 948.6 116.7 951.2C118.4 953.8 118.7 953.9 120.1 953.7C121.4 953.6 122.5 954.7 124.8 950.2C127 945.7 130.9 933.7 133.4 927C136 920.2 138.1 913.5 140.1 909.8C142.1 906.1 143.8 904.9 145.4 904.7C147.1 904.5 148.2 905 150.1 908.8C152 912.5 154.6 920.5 156.8 927C159 933.4 161.2 942.7 163.5 947.2C165.7 951.6 168.1 953.2 170.1 953.7C172.1 954.2 173.2 953.7 175.5 950.2C177.7 946.8 181 938.4 183.5 933C185.9 927.6 188.1 921.4 190.1 917.9C192.2 914.3 193.3 913.1 195.5 911.8C197.7 910.5 201 910.7 203.5 910.3C205.9 909.8 207.9 908.8 210.2 909.3C212.4 909.7 214.6 910.5 216.8 912.8C219.1 915.1 220.2 914.8 223.5 922.9C226.9 931 233.5 951.2 236.9 961.3C240.2 971.4 241.3 977.2 243.5 983.6C245.8 990 248 995.2 250.2 999.7C252.4 1004.3 254.7 1007.7 256.9 1010.9C259.1 1014 261.6 1016.7 263.6 1018.4C265.6 1020.2 267.2 1020.9 268.9 1021.6C270.6 1022.3 272 1022.8 273.6 1022.8C275.1 1022.8 276.6 1022.8 278.2 1021.8C279.9 1020.8 281.6 1019.7 283.6 1016.9C285.6 1014.2 288 1009.3 290.2 1005.3C292.5 1001.3 294.7 997.5 296.9 992.7C299.1 987.9 301.4 982.6 303.6 976.5C305.8 970.4 308 962.8 310.3 956.3C312.5 949.7 314.7 943 316.9 937.1C319.2 931.2 321.4 925.6 323.6 920.9C325.8 916.2 328.1 911.5 330.3 908.8C332.5 906.1 334.7 905.7 337 904.7C339.2 903.7 340.3 904.1 343.6 902.7C347 901.3 352.5 897.7 357 896.1C361.4 894.5 364.8 893.9 370.3 893.1C375.9 892.2 384.8 891.1 390.3 891.1C395.9 891 399.2 891.7 403.7 892.6C408.1 893.4 413.1 894.9 417 896.1C420.9 897.3 424.3 898.4 427 899.7C429.8 900.9 431.8 902.2 433.7 903.7C435.6 905.2 436.7 905.7 438.4 908.8C440.1 911.8 441.7 917 443.7 921.9C445.7 926.8 448.2 933.2 450.4 938.1C452.6 943 455.4 948.6 457.1 951.2C458.7 953.8 459.1 953.9 460.4 953.7C461.7 953.6 462.9 954.7 465.1 950.2C467.3 945.7 471.2 933.7 473.8 927C476.3 920.2 478.4 913.5 480.4 909.8C482.4 906.1 484.1 904.9 485.8 904.7C487.4 904.5 488.5 905 490.4 908.8C492.3 912.5 494.9 920.5 497.1 927C499.3 933.4 501.6 942.7 503.8 947.2C506 951.6 508.5 953.2 510.5 953.7C512.5 954.2 513.6 953.7 515.8 950.2C518 946.8 521.4 938.4 523.8 933C526.2 927.6 528.5 921.4 530.5 917.9C532.5 914.3 533.6 913.1 535.8 911.8C538 910.5 541.4 910.7 543.8 910.3C546.3 909.8 548.3 908.8 550.5 909.3C552.7 909.7 554.9 910.5 557.2 912.8C559.4 915.1 560.5 914.8 563.8 922.9C567.2 931 573.8 951.2 577.2 961.3C580.5 971.4 581.6 977.2 583.9 983.6C586.1 990 588.3 995.2 590.5 999.7C592.8 1004.3 595 1007.7 597.2 1010.9C599.4 1014 601.9 1016.7 603.9 1018.4C605.9 1020.2 607.5 1020.9 609.2 1021.6C610.9 1022.3 612.3 1022.8 613.9 1022.8C615.4 1022.8 616.9 1022.8 618.6 1021.8C620.2 1020.8 621.9 1019.7 623.9 1016.9C625.9 1014.2 628.3 1009.3 630.6 1005.3C632.8 1001.3 635 997.5 637.2 992.7C639.5 987.9 641.7 982.6 643.9 976.5C646.1 970.4 648.4 962.8 650.6 956.3C652.8 949.7 655 943 657.3 937.1C659.5 931.2 661.7 925.6 663.9 920.9C666.2 916.2 668.4 911.5 670.6 908.8C672.8 906.1 675.1 905.7 677.3 904.7C679.5 903.7 680.6 904.1 684 902.7C687.3 901.3 692.8 897.7 697.3 896.1C701.7 894.5 705.1 893.9 710.6 893.1C716.2 892.2 725.1 891.1 730.7 891.1C736.2 891 739.6 891.7 744 892.6C748.5 893.4 753.5 894.9 757.4 896.1C761.2 897.3 764.6 898.4 767.4 899.7C770.1 900.9 772.1 902.2 774 903.7C775.9 905.2 777.7 908.1 778.7 908.8C779.8 909.4 780.1 907.9 780.4 907.7" fill="none" stroke="#0f4fb8" stroke-width="2.2" stroke-linejoin="round"/>
<path clip-path="url(#cc2)" d="M103.4 1117.8C105.6 1117.3 112 1117 116.7 1115C121.5 1113.1 126.1 1110 132.1 1106.2C138.1 1102.4 145.9 1096.8 152.8 1092.2C159.7 1087.5 166.7 1082.3 173.5 1078.4C180.3 1074.6 189 1070.7 193.5 1069.3C197.9 1067.9 197.6 1069.5 200.2 1070C202.7 1070.5 206.1 1072.4 208.8 1072.3C211.6 1072.2 214.5 1070.3 216.8 1069.6C219.2 1069 220.1 1068.1 222.8 1068.3C225.6 1068.4 228.2 1068.8 233.5 1070.7C238.9 1072.5 246.2 1076.1 254.9 1079.5C263.6 1082.9 276.7 1088.2 285.6 1091.1C294.5 1094.1 300.8 1096.9 308.3 1097.3C315.7 1097.6 322.2 1095 330.3 1093.2C338.4 1091.4 350.3 1087.3 357 1086.6C363.6 1085.9 366.1 1087.5 370.3 1089.1C374.5 1090.7 377.4 1092.4 382.3 1096.3C387.2 1100.2 395 1107.7 399.7 1112.5C404.4 1117.4 405.8 1121 410.4 1125.3C414.9 1129.6 421.5 1135.5 427 1138.3C432.6 1141.1 438.2 1142.6 443.7 1142.1C449.3 1141.6 455 1138.8 460.4 1135.5C465.9 1132.3 467.7 1130.2 476.4 1122.6C485.1 1114.9 503.4 1097.6 512.5 1089.8C521.5 1081.9 525.8 1078.6 530.5 1075.4C535.1 1072.2 537.7 1071.3 540.5 1070.7C543.3 1070 544.6 1070.9 547.2 1071.3C549.7 1071.8 553 1073.4 555.8 1073.4C558.6 1073.3 561.4 1071.6 563.8 1071C566.3 1070.4 567.7 1069.7 570.5 1070C573.3 1070.3 573.2 1069 580.5 1072.7C587.9 1076.4 605.1 1086.8 614.6 1092.2C624 1097.5 630.5 1101.9 637.2 1104.8C644 1107.7 649.1 1109.7 655.3 1109.6C661.4 1109.5 666.9 1107 673.9 1104.1C680.9 1101.3 690.6 1095 697.3 1092.5C704 1090 708.4 1089 714 1089.1C719.5 1089.2 724.3 1090.6 730.7 1093.2C737 1095.8 745.3 1101.3 752 1104.8C758.7 1108.3 766 1112.4 770.7 1114.4C775.4 1116.3 778.8 1116.1 780.4 1116.4" fill="none" stroke="#f80a0a" stroke-width="2.2"/>
<path clip-path="url(#cc2)" d="M103.4 1189.5C106.5 1187.7 117.1 1181.6 122.1 1178.6C127.1 1175.5 129.9 1174.8 133.4 1171.1C137 1167.3 140.2 1161.2 143.4 1156C146.7 1150.9 147.8 1148.2 152.8 1140.3C157.8 1132.4 167.8 1116 173.5 1108.5C179.1 1101 183 1098.2 186.8 1095.2C190.6 1092.3 192.5 1091.3 196.2 1090.7C199.8 1090 204.4 1091.1 208.8 1091.1C213.3 1091.1 217.7 1089.4 222.8 1090.7C228 1091.9 230.9 1092.2 239.5 1098.8C248.2 1105.4 265.3 1121.9 274.9 1130.3C284.5 1138.7 290.8 1145 296.9 1149.2C303 1153.4 307.1 1155.4 311.6 1155.8C316 1156.3 319.5 1154.1 323.6 1151.9C327.7 1149.8 331.8 1147 336.3 1143.1C340.7 1139.1 346.5 1131.7 350.3 1128C354.1 1124.4 356.2 1122.7 359 1121.2C361.8 1119.7 364.3 1118.7 367 1118.8C369.7 1118.9 371.7 1119.5 375 1121.9C378.3 1124.2 382.8 1127.1 387 1132.8C391.2 1138.5 396.5 1149.7 400.3 1156C404.2 1162.4 407 1167.3 410.4 1171.1C413.7 1174.8 416.5 1174.4 420.4 1178.6C424.3 1182.8 429.7 1192 433.7 1196.3C437.7 1200.7 440.8 1204.7 444.4 1204.5C447.9 1204.3 451.4 1199.3 455.1 1195C458.7 1190.6 462.9 1182.6 466.4 1178.6C470 1174.6 472.4 1176.3 476.4 1171.1C480.4 1165.8 485.3 1155.6 490.4 1147.2C495.5 1138.7 501.6 1128 507.1 1120.2C512.7 1112.3 518.7 1104.9 523.8 1100C528.9 1095.2 533.4 1092.6 537.8 1091.1C542.3 1089.7 546.7 1091 550.5 1091.1C554.3 1091.3 555.8 1090.3 560.5 1091.8C565.2 1093.3 569.5 1094 578.5 1100C587.5 1106.1 604.8 1120.6 614.6 1128C624.3 1135.4 631.3 1141.1 637.2 1144.4C643.1 1147.8 646 1147.9 649.9 1148.2C653.8 1148.4 657.1 1147.1 660.6 1145.8C664 1144.5 666.2 1143.6 670.6 1140.3C675.1 1137 682.8 1129.5 687.3 1126C691.7 1122.4 694.2 1120.8 697.3 1119.1C700.4 1117.5 703.1 1116.1 706 1116.1C708.9 1116.1 711.6 1117.4 714.6 1119.1C717.6 1120.9 721.2 1123.9 724 1126.7C726.8 1129.4 728 1130.6 731.3 1135.5C734.7 1140.4 740.1 1150.1 744 1156C747.9 1161.9 750.8 1167 754.7 1171.1C758.6 1175.1 763.1 1177.3 767.4 1180.3C771.6 1183.2 778.2 1187.4 780.4 1188.8" fill="none" stroke="#0e9c62" stroke-width="2.2"/>
<path d="M103.4 1215.5v-13M103.4 1031.8v26M103.4 874.6v13M170.1 1215.5v-7M170.1 1037.8v14M170.1 874.6v7M236.9 1215.5v-13M236.9 1031.8v26M236.9 874.6v13M303.6 1215.5v-7M303.6 1037.8v14M303.6 874.6v7M370.3 1215.5v-13M370.3 1031.8v26M370.3 874.6v13M437.1 1215.5v-7M437.1 1037.8v14M437.1 874.6v7M503.8 1215.5v-13M503.8 1031.8v26M503.8 874.6v13M570.5 1215.5v-7M570.5 1037.8v14M570.5 874.6v7M637.2 1215.5v-13M637.2 1031.8v26M637.2 874.6v13M704 1215.5v-7M704 1037.8v14M704 874.6v7M770.7 1215.5v-13M770.7 1031.8v26M770.7 874.6v13M103.4 894.6h13M780.4 894.6h-13M103.4 945.1h13M780.4 945.1h-13M103.4 995.7h13M780.4 995.7h-13M103.4 919.9h7M780.4 919.9h-7M103.4 970.4h7M780.4 970.4h-7M103.4 1021h7M780.4 1021h-7M103.4 1078.8h13M780.4 1078.8h-13M103.4 1113h13M780.4 1113h-13M103.4 1147.2h13M780.4 1147.2h-13M103.4 1181.3h13M780.4 1181.3h-13M103.4 1061.8h7M780.4 1061.8h-7M103.4 1095.9h7M780.4 1095.9h-7M103.4 1130.1h7M780.4 1130.1h-7M103.4 1164.2h7M780.4 1164.2h-7M103.4 1198.4h7M780.4 1198.4h-7" stroke="#222" stroke-width="1.1" fill="none"/>
<rect x="103.4" y="874.6" width="677.0" height="340.9" fill="none" stroke="#111" stroke-width="2"/>
<path d="M103.4 1044.8H780.4" stroke="#111" stroke-width="2"/>
<g font-size="18.3" text-anchor="end">
<text x="96.4" y="900.6">0</text>
<text x="96.4" y="951.1">-50</text>
<text x="96.4" y="1001.7">-100</text>
<text x="96.4" y="1084.8">5</text>
<text x="96.4" y="1119">0</text>
<text x="96.4" y="1153.2">-5</text>
<text x="96.4" y="1187.3">-10</text>
<text x="99.4" y="1218.5">-15</text>
</g><g font-size="18.3" text-anchor="middle">
<text x="103.4" y="1235">0</text>
<text x="236.9" y="1235">2</text>
<text x="370.3" y="1235">4</text>
<text x="503.8" y="1235">6</text>
<text x="637.2" y="1235">8</text>
<text x="770.4" y="1235">10</text>
</g>
<g font-size="21">
<text x="131" y="977.5">P3</text><text x="131" y="1082">P1</text><text x="131" y="1196.6">P2</text>
</g>
<text x="411" y="1262" font-size="24.5"><tspan font-style="italic">c</tspan> (Å)</text>
<text transform="translate(30.5,1171) rotate(-90)" font-size="22.5" textLength="250" lengthAdjust="spacingAndGlyphs">Electrostatic potential (V)</text>
<text x="1.5" y="876" font-size="33" font-weight="bold">(c)</text>
</g>
</svg></body></html>
